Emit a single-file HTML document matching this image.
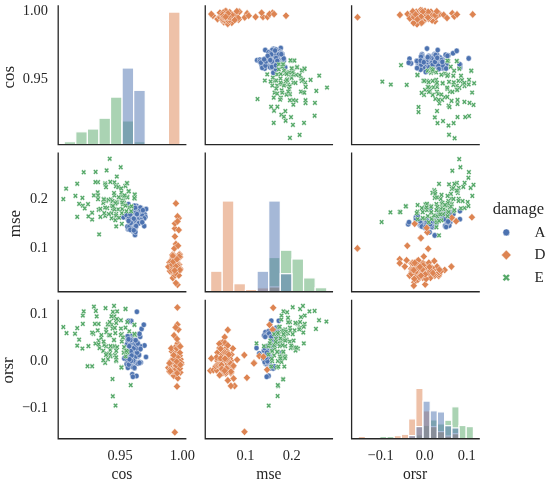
<!DOCTYPE html>
<html><head><meta charset="utf-8"><title>pairplot</title>
<style>html,body{margin:0;padding:0;background:#fff}</style></head>
<body>
<svg width="550" height="485" viewBox="0 0 550 485" style="display:block;font-family:'Liberation Serif',serif">
<rect width="550" height="485" fill="#fff"/>
<rect x="64.20" y="141.70" width="11.58" height="2.85" fill="#55a868" fill-opacity="0.5" stroke="#fff" stroke-width="1.2"/>
<rect x="75.78" y="131.80" width="11.58" height="12.75" fill="#55a868" fill-opacity="0.5" stroke="#fff" stroke-width="1.2"/>
<rect x="87.36" y="129.00" width="11.58" height="15.55" fill="#55a868" fill-opacity="0.5" stroke="#fff" stroke-width="1.2"/>
<rect x="98.94" y="118.20" width="11.58" height="26.35" fill="#55a868" fill-opacity="0.5" stroke="#fff" stroke-width="1.2"/>
<rect x="110.52" y="97.10" width="11.58" height="47.45" fill="#55a868" fill-opacity="0.5" stroke="#fff" stroke-width="1.2"/>
<rect x="122.10" y="120.90" width="11.58" height="23.65" fill="#55a868" fill-opacity="0.5" stroke="#fff" stroke-width="1.2"/>
<rect x="133.68" y="141.70" width="11.58" height="2.85" fill="#55a868" fill-opacity="0.5" stroke="#fff" stroke-width="1.2"/>
<rect x="168.42" y="12.10" width="11.58" height="132.45" fill="#dd8452" fill-opacity="0.5" stroke="#fff" stroke-width="1.2"/>
<rect x="122.10" y="68.00" width="11.58" height="76.55" fill="#4c72b0" fill-opacity="0.5" stroke="#fff" stroke-width="1.2"/>
<rect x="133.68" y="90.30" width="11.58" height="54.25" fill="#4c72b0" fill-opacity="0.5" stroke="#fff" stroke-width="1.2"/>
<rect x="268.70" y="257.50" width="11.62" height="34.25" fill="#55a868" fill-opacity="0.5" stroke="#fff" stroke-width="1.2"/>
<rect x="280.32" y="250.20" width="11.62" height="41.55" fill="#55a868" fill-opacity="0.5" stroke="#fff" stroke-width="1.2"/>
<rect x="291.94" y="259.00" width="11.62" height="32.75" fill="#55a868" fill-opacity="0.5" stroke="#fff" stroke-width="1.2"/>
<rect x="303.56" y="277.90" width="11.62" height="13.85" fill="#55a868" fill-opacity="0.5" stroke="#fff" stroke-width="1.2"/>
<rect x="315.18" y="287.70" width="11.62" height="4.05" fill="#55a868" fill-opacity="0.5" stroke="#fff" stroke-width="1.2"/>
<rect x="210.60" y="271.20" width="11.62" height="20.55" fill="#dd8452" fill-opacity="0.5" stroke="#fff" stroke-width="1.2"/>
<rect x="222.22" y="201.00" width="11.62" height="90.75" fill="#dd8452" fill-opacity="0.5" stroke="#fff" stroke-width="1.2"/>
<rect x="233.84" y="283.70" width="11.62" height="8.05" fill="#dd8452" fill-opacity="0.5" stroke="#fff" stroke-width="1.2"/>
<rect x="245.46" y="289.40" width="11.62" height="2.35" fill="#dd8452" fill-opacity="0.5" stroke="#fff" stroke-width="1.2"/>
<rect x="257.08" y="287.80" width="11.62" height="3.95" fill="#dd8452" fill-opacity="0.5" stroke="#fff" stroke-width="1.2"/>
<rect x="268.70" y="286.90" width="11.62" height="4.85" fill="#dd8452" fill-opacity="0.5" stroke="#fff" stroke-width="1.2"/>
<rect x="257.08" y="271.20" width="11.62" height="20.55" fill="#4c72b0" fill-opacity="0.5" stroke="#fff" stroke-width="1.2"/>
<rect x="268.70" y="201.00" width="11.62" height="90.75" fill="#4c72b0" fill-opacity="0.5" stroke="#fff" stroke-width="1.2"/>
<rect x="280.32" y="273.70" width="11.62" height="18.05" fill="#4c72b0" fill-opacity="0.5" stroke="#fff" stroke-width="1.2"/>
<rect x="379.80" y="436.40" width="7.20" height="2.35" fill="#55a868" fill-opacity="0.5" stroke="#fff" stroke-width="1.2"/>
<rect x="387.00" y="436.40" width="7.20" height="2.35" fill="#55a868" fill-opacity="0.5" stroke="#fff" stroke-width="1.2"/>
<rect x="415.80" y="434.80" width="7.20" height="3.95" fill="#55a868" fill-opacity="0.5" stroke="#fff" stroke-width="1.2"/>
<rect x="423.00" y="425.30" width="7.20" height="13.45" fill="#55a868" fill-opacity="0.5" stroke="#fff" stroke-width="1.2"/>
<rect x="430.20" y="419.90" width="7.20" height="18.85" fill="#55a868" fill-opacity="0.5" stroke="#fff" stroke-width="1.2"/>
<rect x="437.40" y="423.90" width="7.20" height="14.85" fill="#55a868" fill-opacity="0.5" stroke="#fff" stroke-width="1.2"/>
<rect x="444.60" y="420.20" width="7.20" height="18.55" fill="#55a868" fill-opacity="0.5" stroke="#fff" stroke-width="1.2"/>
<rect x="451.80" y="406.80" width="7.20" height="31.95" fill="#55a868" fill-opacity="0.5" stroke="#fff" stroke-width="1.2"/>
<rect x="459.00" y="425.50" width="7.20" height="13.25" fill="#55a868" fill-opacity="0.5" stroke="#fff" stroke-width="1.2"/>
<rect x="466.20" y="426.60" width="7.20" height="12.15" fill="#55a868" fill-opacity="0.5" stroke="#fff" stroke-width="1.2"/>
<rect x="358.20" y="436.40" width="7.20" height="2.35" fill="#dd8452" fill-opacity="0.5" stroke="#fff" stroke-width="1.2"/>
<rect x="394.20" y="435.60" width="7.20" height="3.15" fill="#dd8452" fill-opacity="0.5" stroke="#fff" stroke-width="1.2"/>
<rect x="401.40" y="434.30" width="7.20" height="4.45" fill="#dd8452" fill-opacity="0.5" stroke="#fff" stroke-width="1.2"/>
<rect x="408.60" y="418.90" width="7.20" height="19.85" fill="#dd8452" fill-opacity="0.5" stroke="#fff" stroke-width="1.2"/>
<rect x="415.80" y="388.40" width="7.20" height="50.35" fill="#dd8452" fill-opacity="0.5" stroke="#fff" stroke-width="1.2"/>
<rect x="423.00" y="410.80" width="7.20" height="27.95" fill="#dd8452" fill-opacity="0.5" stroke="#fff" stroke-width="1.2"/>
<rect x="430.20" y="426.60" width="7.20" height="12.15" fill="#dd8452" fill-opacity="0.5" stroke="#fff" stroke-width="1.2"/>
<rect x="437.40" y="431.60" width="7.20" height="7.15" fill="#dd8452" fill-opacity="0.5" stroke="#fff" stroke-width="1.2"/>
<rect x="444.60" y="436.00" width="7.20" height="2.75" fill="#dd8452" fill-opacity="0.5" stroke="#fff" stroke-width="1.2"/>
<rect x="451.80" y="433.70" width="7.20" height="5.05" fill="#dd8452" fill-opacity="0.5" stroke="#fff" stroke-width="1.2"/>
<rect x="408.60" y="435.60" width="7.20" height="3.15" fill="#4c72b0" fill-opacity="0.5" stroke="#fff" stroke-width="1.2"/>
<rect x="415.80" y="426.60" width="7.20" height="12.15" fill="#4c72b0" fill-opacity="0.5" stroke="#fff" stroke-width="1.2"/>
<rect x="423.00" y="401.10" width="7.20" height="37.65" fill="#4c72b0" fill-opacity="0.5" stroke="#fff" stroke-width="1.2"/>
<rect x="430.20" y="410.80" width="7.20" height="27.95" fill="#4c72b0" fill-opacity="0.5" stroke="#fff" stroke-width="1.2"/>
<rect x="437.40" y="411.90" width="7.20" height="26.85" fill="#4c72b0" fill-opacity="0.5" stroke="#fff" stroke-width="1.2"/>
<rect x="444.60" y="425.70" width="7.20" height="13.05" fill="#4c72b0" fill-opacity="0.5" stroke="#fff" stroke-width="1.2"/>
<rect x="451.80" y="427.90" width="7.20" height="10.85" fill="#4c72b0" fill-opacity="0.5" stroke="#fff" stroke-width="1.2"/>
<g fill="#4c72b0" stroke="#fff" stroke-width="0.45">
<ellipse cx="135.4" cy="227.4" rx="2.6" ry="2.78"/>
<ellipse cx="133.6" cy="215.4" rx="2.6" ry="2.78"/>
<ellipse cx="142.2" cy="215.1" rx="2.6" ry="2.78"/>
<ellipse cx="130.4" cy="219.9" rx="2.6" ry="2.78"/>
<ellipse cx="141.7" cy="209.2" rx="2.6" ry="2.78"/>
<ellipse cx="130.5" cy="224.0" rx="2.6" ry="2.78"/>
<ellipse cx="141.2" cy="215.4" rx="2.6" ry="2.78"/>
<ellipse cx="144.2" cy="226.1" rx="2.6" ry="2.78"/>
<ellipse cx="146.1" cy="209.1" rx="2.6" ry="2.78"/>
<ellipse cx="137.7" cy="209.8" rx="2.6" ry="2.78"/>
<ellipse cx="126.6" cy="214.3" rx="2.6" ry="2.78"/>
<ellipse cx="139.2" cy="216.8" rx="2.6" ry="2.78"/>
<ellipse cx="128.0" cy="219.6" rx="2.6" ry="2.78"/>
<ellipse cx="143.8" cy="215.2" rx="2.6" ry="2.78"/>
<ellipse cx="144.8" cy="214.5" rx="2.6" ry="2.78"/>
<ellipse cx="133.7" cy="232.0" rx="2.6" ry="2.78"/>
<ellipse cx="132.6" cy="230.7" rx="2.6" ry="2.78"/>
<ellipse cx="144.6" cy="217.6" rx="2.6" ry="2.78"/>
<ellipse cx="133.8" cy="225.3" rx="2.6" ry="2.78"/>
<ellipse cx="131.6" cy="226.2" rx="2.6" ry="2.78"/>
<ellipse cx="129.8" cy="216.3" rx="2.6" ry="2.78"/>
<ellipse cx="138.2" cy="211.3" rx="2.6" ry="2.78"/>
<ellipse cx="130.3" cy="214.8" rx="2.6" ry="2.78"/>
<ellipse cx="135.7" cy="227.2" rx="2.6" ry="2.78"/>
<ellipse cx="126.5" cy="214.3" rx="2.6" ry="2.78"/>
<ellipse cx="134.1" cy="227.0" rx="2.6" ry="2.78"/>
<ellipse cx="140.7" cy="209.4" rx="2.6" ry="2.78"/>
<ellipse cx="135.0" cy="234.9" rx="2.6" ry="2.78"/>
<ellipse cx="141.5" cy="208.9" rx="2.6" ry="2.78"/>
<ellipse cx="131.3" cy="215.1" rx="2.6" ry="2.78"/>
<ellipse cx="137.7" cy="223.8" rx="2.6" ry="2.78"/>
<ellipse cx="132.5" cy="225.9" rx="2.6" ry="2.78"/>
<ellipse cx="128.5" cy="204.3" rx="2.6" ry="2.78"/>
<ellipse cx="140.1" cy="214.0" rx="2.6" ry="2.78"/>
<ellipse cx="137.8" cy="214.9" rx="2.6" ry="2.78"/>
<ellipse cx="145.4" cy="217.0" rx="2.6" ry="2.78"/>
<ellipse cx="126.1" cy="215.8" rx="2.6" ry="2.78"/>
<ellipse cx="130.0" cy="225.9" rx="2.6" ry="2.78"/>
<ellipse cx="139.9" cy="222.0" rx="2.6" ry="2.78"/>
<ellipse cx="133.1" cy="222.4" rx="2.6" ry="2.78"/>
<ellipse cx="140.3" cy="207.5" rx="2.6" ry="2.78"/>
<ellipse cx="128.0" cy="229.3" rx="2.6" ry="2.78"/>
<ellipse cx="130.6" cy="224.0" rx="2.6" ry="2.78"/>
<ellipse cx="141.7" cy="220.9" rx="2.6" ry="2.78"/>
<ellipse cx="134.5" cy="227.5" rx="2.6" ry="2.78"/>
<ellipse cx="135.7" cy="211.7" rx="2.6" ry="2.78"/>
<ellipse cx="138.7" cy="215.6" rx="2.6" ry="2.78"/>
<ellipse cx="142.2" cy="215.4" rx="2.6" ry="2.78"/>
<ellipse cx="136.5" cy="206.0" rx="2.6" ry="2.78"/>
<ellipse cx="144.2" cy="218.4" rx="2.6" ry="2.78"/>
<ellipse cx="123.4" cy="217.3" rx="2.6" ry="2.78"/>
<ellipse cx="139.3" cy="218.7" rx="2.6" ry="2.78"/>
<ellipse cx="136.6" cy="221.6" rx="2.6" ry="2.78"/>
<ellipse cx="138.3" cy="208.8" rx="2.6" ry="2.78"/>
<ellipse cx="128.6" cy="228.8" rx="2.6" ry="2.78"/>
<ellipse cx="134.4" cy="205.8" rx="2.6" ry="2.78"/>
<ellipse cx="134.5" cy="218.7" rx="2.6" ry="2.78"/>
<ellipse cx="134.3" cy="212.8" rx="2.6" ry="2.78"/>
<ellipse cx="138.4" cy="211.5" rx="2.6" ry="2.78"/>
<ellipse cx="134.9" cy="222.4" rx="2.6" ry="2.78"/>
<ellipse cx="135.9" cy="210.4" rx="2.6" ry="2.78"/>
<ellipse cx="140.3" cy="219.4" rx="2.6" ry="2.78"/>
<ellipse cx="128.4" cy="226.4" rx="2.6" ry="2.78"/>
<ellipse cx="140.5" cy="208.5" rx="2.6" ry="2.78"/>
<ellipse cx="138.0" cy="219.6" rx="2.6" ry="2.78"/>
<ellipse cx="133.6" cy="211.9" rx="2.6" ry="2.78"/>
<ellipse cx="126.9" cy="214.1" rx="2.6" ry="2.78"/>
<ellipse cx="135.0" cy="220.6" rx="2.6" ry="2.78"/>
<ellipse cx="141.3" cy="220.3" rx="2.6" ry="2.78"/>
<ellipse cx="126.5" cy="215.1" rx="2.6" ry="2.78"/>
<ellipse cx="127.4" cy="226.6" rx="2.6" ry="2.78"/>
<ellipse cx="130.5" cy="218.9" rx="2.6" ry="2.78"/>
<ellipse cx="129.4" cy="226.6" rx="2.6" ry="2.78"/>
<ellipse cx="132.7" cy="218.8" rx="2.6" ry="2.78"/>
<ellipse cx="138.5" cy="223.2" rx="2.6" ry="2.78"/>
<ellipse cx="134.6" cy="220.2" rx="2.6" ry="2.78"/>
<ellipse cx="128.8" cy="218.7" rx="2.6" ry="2.78"/>
<ellipse cx="138.8" cy="223.3" rx="2.6" ry="2.78"/>
<ellipse cx="130.3" cy="214.4" rx="2.6" ry="2.78"/>
<ellipse cx="141.1" cy="209.6" rx="2.6" ry="2.78"/>
<ellipse cx="141.9" cy="221.9" rx="2.6" ry="2.78"/>
<ellipse cx="140.2" cy="211.3" rx="2.6" ry="2.78"/>
<ellipse cx="137.1" cy="208.6" rx="2.6" ry="2.78"/>
<ellipse cx="142.2" cy="222.3" rx="2.6" ry="2.78"/>
<ellipse cx="135.4" cy="232.0" rx="2.6" ry="2.78"/>
<ellipse cx="138.5" cy="209.5" rx="2.6" ry="2.78"/>
<ellipse cx="140.3" cy="207.7" rx="2.6" ry="2.78"/>
<ellipse cx="133.8" cy="218.7" rx="2.6" ry="2.78"/>
<ellipse cx="138.3" cy="211.5" rx="2.6" ry="2.78"/>
<ellipse cx="135.3" cy="208.0" rx="2.6" ry="2.78"/>
<ellipse cx="132.0" cy="229.3" rx="2.6" ry="2.78"/>
<ellipse cx="136.8" cy="212.6" rx="2.6" ry="2.78"/>
<ellipse cx="130.3" cy="229.8" rx="2.6" ry="2.78"/>
<ellipse cx="130.8" cy="222.8" rx="2.6" ry="2.78"/>
<ellipse cx="136.1" cy="226.0" rx="2.6" ry="2.78"/>
<ellipse cx="142.9" cy="210.2" rx="2.6" ry="2.78"/>
<ellipse cx="135.7" cy="213.0" rx="2.6" ry="2.78"/>
<ellipse cx="133.8" cy="230.3" rx="2.6" ry="2.78"/>
<ellipse cx="137.0" cy="214.1" rx="2.6" ry="2.78"/>
<ellipse cx="128.6" cy="220.9" rx="2.6" ry="2.78"/>
</g>
<g fill="#dd8452" stroke="#fff" stroke-width="0.45">
<path d="M174.5 267.9l3.55 3.8 -3.55 3.8 -3.55 -3.8z"/>
<path d="M176.7 257.4l3.55 3.8 -3.55 3.8 -3.55 -3.8z"/>
<path d="M174.3 261.3l3.55 3.8 -3.55 3.8 -3.55 -3.8z"/>
<path d="M179.2 260.8l3.55 3.8 -3.55 3.8 -3.55 -3.8z"/>
<path d="M180.3 265.1l3.55 3.8 -3.55 3.8 -3.55 -3.8z"/>
<path d="M174.9 232.7l3.55 3.8 -3.55 3.8 -3.55 -3.8z"/>
<path d="M175.9 240.3l3.55 3.8 -3.55 3.8 -3.55 -3.8z"/>
<path d="M168.6 263.0l3.55 3.8 -3.55 3.8 -3.55 -3.8z"/>
<path d="M171.3 262.4l3.55 3.8 -3.55 3.8 -3.55 -3.8z"/>
<path d="M179.8 250.5l3.55 3.8 -3.55 3.8 -3.55 -3.8z"/>
<path d="M173.3 259.3l3.55 3.8 -3.55 3.8 -3.55 -3.8z"/>
<path d="M176.0 262.0l3.55 3.8 -3.55 3.8 -3.55 -3.8z"/>
<path d="M172.0 255.4l3.55 3.8 -3.55 3.8 -3.55 -3.8z"/>
<path d="M176.0 268.1l3.55 3.8 -3.55 3.8 -3.55 -3.8z"/>
<path d="M171.7 259.9l3.55 3.8 -3.55 3.8 -3.55 -3.8z"/>
<path d="M174.8 260.0l3.55 3.8 -3.55 3.8 -3.55 -3.8z"/>
<path d="M174.9 224.7l3.55 3.8 -3.55 3.8 -3.55 -3.8z"/>
<path d="M173.0 268.1l3.55 3.8 -3.55 3.8 -3.55 -3.8z"/>
<path d="M169.5 258.6l3.55 3.8 -3.55 3.8 -3.55 -3.8z"/>
<path d="M177.9 263.5l3.55 3.8 -3.55 3.8 -3.55 -3.8z"/>
<path d="M172.5 266.7l3.55 3.8 -3.55 3.8 -3.55 -3.8z"/>
<path d="M177.8 259.7l3.55 3.8 -3.55 3.8 -3.55 -3.8z"/>
<path d="M176.6 258.3l3.55 3.8 -3.55 3.8 -3.55 -3.8z"/>
<path d="M174.8 258.9l3.55 3.8 -3.55 3.8 -3.55 -3.8z"/>
<path d="M174.8 265.4l3.55 3.8 -3.55 3.8 -3.55 -3.8z"/>
<path d="M174.5 260.8l3.55 3.8 -3.55 3.8 -3.55 -3.8z"/>
<path d="M171.8 268.7l3.55 3.8 -3.55 3.8 -3.55 -3.8z"/>
<path d="M174.9 263.4l3.55 3.8 -3.55 3.8 -3.55 -3.8z"/>
<path d="M172.4 265.0l3.55 3.8 -3.55 3.8 -3.55 -3.8z"/>
<path d="M173.8 259.7l3.55 3.8 -3.55 3.8 -3.55 -3.8z"/>
<path d="M177.0 259.0l3.55 3.8 -3.55 3.8 -3.55 -3.8z"/>
<path d="M178.8 226.2l3.55 3.8 -3.55 3.8 -3.55 -3.8z"/>
<path d="M174.1 261.6l3.55 3.8 -3.55 3.8 -3.55 -3.8z"/>
<path d="M173.0 268.2l3.55 3.8 -3.55 3.8 -3.55 -3.8z"/>
<path d="M173.3 268.5l3.55 3.8 -3.55 3.8 -3.55 -3.8z"/>
<path d="M178.8 214.3l3.55 3.8 -3.55 3.8 -3.55 -3.8z"/>
<path d="M175.4 267.5l3.55 3.8 -3.55 3.8 -3.55 -3.8z"/>
<path d="M174.1 271.1l3.55 3.8 -3.55 3.8 -3.55 -3.8z"/>
<path d="M172.7 267.3l3.55 3.8 -3.55 3.8 -3.55 -3.8z"/>
<path d="M171.6 264.0l3.55 3.8 -3.55 3.8 -3.55 -3.8z"/>
<path d="M174.0 265.1l3.55 3.8 -3.55 3.8 -3.55 -3.8z"/>
<path d="M173.8 260.4l3.55 3.8 -3.55 3.8 -3.55 -3.8z"/>
<path d="M177.5 280.9l3.55 3.8 -3.55 3.8 -3.55 -3.8z"/>
<path d="M174.6 262.3l3.55 3.8 -3.55 3.8 -3.55 -3.8z"/>
<path d="M174.2 259.1l3.55 3.8 -3.55 3.8 -3.55 -3.8z"/>
<path d="M178.9 268.0l3.55 3.8 -3.55 3.8 -3.55 -3.8z"/>
<path d="M175.2 268.7l3.55 3.8 -3.55 3.8 -3.55 -3.8z"/>
<path d="M175.0 265.3l3.55 3.8 -3.55 3.8 -3.55 -3.8z"/>
<path d="M180.1 253.2l3.55 3.8 -3.55 3.8 -3.55 -3.8z"/>
<path d="M179.6 250.5l3.55 3.8 -3.55 3.8 -3.55 -3.8z"/>
<path d="M175.0 264.8l3.55 3.8 -3.55 3.8 -3.55 -3.8z"/>
<path d="M174.4 244.6l3.55 3.8 -3.55 3.8 -3.55 -3.8z"/>
<path d="M173.8 266.6l3.55 3.8 -3.55 3.8 -3.55 -3.8z"/>
<path d="M169.9 267.3l3.55 3.8 -3.55 3.8 -3.55 -3.8z"/>
<path d="M178.1 242.0l3.55 3.8 -3.55 3.8 -3.55 -3.8z"/>
<path d="M172.7 254.3l3.55 3.8 -3.55 3.8 -3.55 -3.8z"/>
<path d="M173.4 261.0l3.55 3.8 -3.55 3.8 -3.55 -3.8z"/>
<path d="M175.9 279.2l3.55 3.8 -3.55 3.8 -3.55 -3.8z"/>
<path d="M168.4 263.0l3.55 3.8 -3.55 3.8 -3.55 -3.8z"/>
<path d="M176.0 263.9l3.55 3.8 -3.55 3.8 -3.55 -3.8z"/>
<path d="M171.7 266.7l3.55 3.8 -3.55 3.8 -3.55 -3.8z"/>
<path d="M179.8 264.4l3.55 3.8 -3.55 3.8 -3.55 -3.8z"/>
<path d="M176.3 266.1l3.55 3.8 -3.55 3.8 -3.55 -3.8z"/>
<path d="M172.8 274.2l3.55 3.8 -3.55 3.8 -3.55 -3.8z"/>
<path d="M179.2 251.1l3.55 3.8 -3.55 3.8 -3.55 -3.8z"/>
<path d="M177.1 260.5l3.55 3.8 -3.55 3.8 -3.55 -3.8z"/>
<path d="M177.0 268.4l3.55 3.8 -3.55 3.8 -3.55 -3.8z"/>
<path d="M177.5 212.6l3.55 3.8 -3.55 3.8 -3.55 -3.8z"/>
<path d="M175.1 267.0l3.55 3.8 -3.55 3.8 -3.55 -3.8z"/>
<path d="M174.0 251.6l3.55 3.8 -3.55 3.8 -3.55 -3.8z"/>
<path d="M174.8 261.9l3.55 3.8 -3.55 3.8 -3.55 -3.8z"/>
<path d="M174.7 262.9l3.55 3.8 -3.55 3.8 -3.55 -3.8z"/>
<path d="M174.6 262.3l3.55 3.8 -3.55 3.8 -3.55 -3.8z"/>
<path d="M174.9 271.6l3.55 3.8 -3.55 3.8 -3.55 -3.8z"/>
<path d="M174.9 219.7l3.55 3.8 -3.55 3.8 -3.55 -3.8z"/>
<path d="M175.9 264.0l3.55 3.8 -3.55 3.8 -3.55 -3.8z"/>
<path d="M175.9 199.6l3.55 3.8 -3.55 3.8 -3.55 -3.8z"/>
<path d="M175.4 256.4l3.55 3.8 -3.55 3.8 -3.55 -3.8z"/>
<path d="M178.8 271.6l3.55 3.8 -3.55 3.8 -3.55 -3.8z"/>
<path d="M178.5 264.5l3.55 3.8 -3.55 3.8 -3.55 -3.8z"/>
<path d="M174.2 252.6l3.55 3.8 -3.55 3.8 -3.55 -3.8z"/>
<path d="M178.1 262.8l3.55 3.8 -3.55 3.8 -3.55 -3.8z"/>
<path d="M175.3 262.4l3.55 3.8 -3.55 3.8 -3.55 -3.8z"/>
<path d="M170.7 257.7l3.55 3.8 -3.55 3.8 -3.55 -3.8z"/>
<path d="M175.4 269.3l3.55 3.8 -3.55 3.8 -3.55 -3.8z"/>
<path d="M174.2 255.0l3.55 3.8 -3.55 3.8 -3.55 -3.8z"/>
<path d="M177.9 261.3l3.55 3.8 -3.55 3.8 -3.55 -3.8z"/>
<path d="M172.8 263.5l3.55 3.8 -3.55 3.8 -3.55 -3.8z"/>
<path d="M174.7 262.6l3.55 3.8 -3.55 3.8 -3.55 -3.8z"/>
<path d="M177.7 262.4l3.55 3.8 -3.55 3.8 -3.55 -3.8z"/>
<path d="M179.2 252.8l3.55 3.8 -3.55 3.8 -3.55 -3.8z"/>
<path d="M177.5 217.6l3.55 3.8 -3.55 3.8 -3.55 -3.8z"/>
<path d="M172.4 251.1l3.55 3.8 -3.55 3.8 -3.55 -3.8z"/>
<path d="M172.9 252.2l3.55 3.8 -3.55 3.8 -3.55 -3.8z"/>
<path d="M172.1 260.9l3.55 3.8 -3.55 3.8 -3.55 -3.8z"/>
<path d="M175.7 262.5l3.55 3.8 -3.55 3.8 -3.55 -3.8z"/>
<path d="M179.9 266.1l3.55 3.8 -3.55 3.8 -3.55 -3.8z"/>
<path d="M173.2 257.9l3.55 3.8 -3.55 3.8 -3.55 -3.8z"/>
<path d="M174.6 266.7l3.55 3.8 -3.55 3.8 -3.55 -3.8z"/>
<path d="M177.0 255.4l3.55 3.8 -3.55 3.8 -3.55 -3.8z"/>
</g>
<g fill="#55a868" stroke="#fff" stroke-width="0.45">
<path d="M62.1 196.5l1.22 1.32 1.22 -1.32 1.22 1.32 -1.22 1.32 1.22 1.32 -1.22 1.32 -1.22 -1.32 -1.22 1.32 -1.22 -1.32 1.22 -1.32 -1.22 -1.32z"/>
<path d="M126.2 194.1l1.22 1.32 1.22 -1.32 1.22 1.32 -1.22 1.32 1.22 1.32 -1.22 1.32 -1.22 -1.32 -1.22 1.32 -1.22 -1.32 1.22 -1.32 -1.22 -1.32z"/>
<path d="M119.5 164.6l1.22 1.32 1.22 -1.32 1.22 1.32 -1.22 1.32 1.22 1.32 -1.22 1.32 -1.22 -1.32 -1.22 1.32 -1.22 -1.32 1.22 -1.32 -1.22 -1.32z"/>
<path d="M102.0 200.2l1.22 1.32 1.22 -1.32 1.22 1.32 -1.22 1.32 1.22 1.32 -1.22 1.32 -1.22 -1.32 -1.22 1.32 -1.22 -1.32 1.22 -1.32 -1.22 -1.32z"/>
<path d="M122.4 197.1l1.22 1.32 1.22 -1.32 1.22 1.32 -1.22 1.32 1.22 1.32 -1.22 1.32 -1.22 -1.32 -1.22 1.32 -1.22 -1.32 1.22 -1.32 -1.22 -1.32z"/>
<path d="M114.1 201.2l1.22 1.32 1.22 -1.32 1.22 1.32 -1.22 1.32 1.22 1.32 -1.22 1.32 -1.22 -1.32 -1.22 1.32 -1.22 -1.32 1.22 -1.32 -1.22 -1.32z"/>
<path d="M122.2 197.5l1.22 1.32 1.22 -1.32 1.22 1.32 -1.22 1.32 1.22 1.32 -1.22 1.32 -1.22 -1.32 -1.22 1.32 -1.22 -1.32 1.22 -1.32 -1.22 -1.32z"/>
<path d="M104.8 198.4l1.22 1.32 1.22 -1.32 1.22 1.32 -1.22 1.32 1.22 1.32 -1.22 1.32 -1.22 -1.32 -1.22 1.32 -1.22 -1.32 1.22 -1.32 -1.22 -1.32z"/>
<path d="M115.6 182.2l1.22 1.32 1.22 -1.32 1.22 1.32 -1.22 1.32 1.22 1.32 -1.22 1.32 -1.22 -1.32 -1.22 1.32 -1.22 -1.32 1.22 -1.32 -1.22 -1.32z"/>
<path d="M129.9 204.0l1.22 1.32 1.22 -1.32 1.22 1.32 -1.22 1.32 1.22 1.32 -1.22 1.32 -1.22 -1.32 -1.22 1.32 -1.22 -1.32 1.22 -1.32 -1.22 -1.32z"/>
<path d="M115.0 211.4l1.22 1.32 1.22 -1.32 1.22 1.32 -1.22 1.32 1.22 1.32 -1.22 1.32 -1.22 -1.32 -1.22 1.32 -1.22 -1.32 1.22 -1.32 -1.22 -1.32z"/>
<path d="M124.3 183.5l1.22 1.32 1.22 -1.32 1.22 1.32 -1.22 1.32 1.22 1.32 -1.22 1.32 -1.22 -1.32 -1.22 1.32 -1.22 -1.32 1.22 -1.32 -1.22 -1.32z"/>
<path d="M64.9 186.0l1.22 1.32 1.22 -1.32 1.22 1.32 -1.22 1.32 1.22 1.32 -1.22 1.32 -1.22 -1.32 -1.22 1.32 -1.22 -1.32 1.22 -1.32 -1.22 -1.32z"/>
<path d="M103.9 213.2l1.22 1.32 1.22 -1.32 1.22 1.32 -1.22 1.32 1.22 1.32 -1.22 1.32 -1.22 -1.32 -1.22 1.32 -1.22 -1.32 1.22 -1.32 -1.22 -1.32z"/>
<path d="M99.2 214.2l1.22 1.32 1.22 -1.32 1.22 1.32 -1.22 1.32 1.22 1.32 -1.22 1.32 -1.22 -1.32 -1.22 1.32 -1.22 -1.32 1.22 -1.32 -1.22 -1.32z"/>
<path d="M107.3 197.3l1.22 1.32 1.22 -1.32 1.22 1.32 -1.22 1.32 1.22 1.32 -1.22 1.32 -1.22 -1.32 -1.22 1.32 -1.22 -1.32 1.22 -1.32 -1.22 -1.32z"/>
<path d="M127.7 205.0l1.22 1.32 1.22 -1.32 1.22 1.32 -1.22 1.32 1.22 1.32 -1.22 1.32 -1.22 -1.32 -1.22 1.32 -1.22 -1.32 1.22 -1.32 -1.22 -1.32z"/>
<path d="M108.5 156.1l1.22 1.32 1.22 -1.32 1.22 1.32 -1.22 1.32 1.22 1.32 -1.22 1.32 -1.22 -1.32 -1.22 1.32 -1.22 -1.32 1.22 -1.32 -1.22 -1.32z"/>
<path d="M86.8 201.5l1.22 1.32 1.22 -1.32 1.22 1.32 -1.22 1.32 1.22 1.32 -1.22 1.32 -1.22 -1.32 -1.22 1.32 -1.22 -1.32 1.22 -1.32 -1.22 -1.32z"/>
<path d="M92.7 192.8l1.22 1.32 1.22 -1.32 1.22 1.32 -1.22 1.32 1.22 1.32 -1.22 1.32 -1.22 -1.32 -1.22 1.32 -1.22 -1.32 1.22 -1.32 -1.22 -1.32z"/>
<path d="M126.1 194.7l1.22 1.32 1.22 -1.32 1.22 1.32 -1.22 1.32 1.22 1.32 -1.22 1.32 -1.22 -1.32 -1.22 1.32 -1.22 -1.32 1.22 -1.32 -1.22 -1.32z"/>
<path d="M110.4 215.6l1.22 1.32 1.22 -1.32 1.22 1.32 -1.22 1.32 1.22 1.32 -1.22 1.32 -1.22 -1.32 -1.22 1.32 -1.22 -1.32 1.22 -1.32 -1.22 -1.32z"/>
<path d="M120.6 193.0l1.22 1.32 1.22 -1.32 1.22 1.32 -1.22 1.32 1.22 1.32 -1.22 1.32 -1.22 -1.32 -1.22 1.32 -1.22 -1.32 1.22 -1.32 -1.22 -1.32z"/>
<path d="M105.4 167.8l1.22 1.32 1.22 -1.32 1.22 1.32 -1.22 1.32 1.22 1.32 -1.22 1.32 -1.22 -1.32 -1.22 1.32 -1.22 -1.32 1.22 -1.32 -1.22 -1.32z"/>
<path d="M106.0 205.5l1.22 1.32 1.22 -1.32 1.22 1.32 -1.22 1.32 1.22 1.32 -1.22 1.32 -1.22 -1.32 -1.22 1.32 -1.22 -1.32 1.22 -1.32 -1.22 -1.32z"/>
<path d="M125.2 208.6l1.22 1.32 1.22 -1.32 1.22 1.32 -1.22 1.32 1.22 1.32 -1.22 1.32 -1.22 -1.32 -1.22 1.32 -1.22 -1.32 1.22 -1.32 -1.22 -1.32z"/>
<path d="M94.4 169.3l1.22 1.32 1.22 -1.32 1.22 1.32 -1.22 1.32 1.22 1.32 -1.22 1.32 -1.22 -1.32 -1.22 1.32 -1.22 -1.32 1.22 -1.32 -1.22 -1.32z"/>
<path d="M127.2 188.8l1.22 1.32 1.22 -1.32 1.22 1.32 -1.22 1.32 1.22 1.32 -1.22 1.32 -1.22 -1.32 -1.22 1.32 -1.22 -1.32 1.22 -1.32 -1.22 -1.32z"/>
<path d="M115.0 223.8l1.22 1.32 1.22 -1.32 1.22 1.32 -1.22 1.32 1.22 1.32 -1.22 1.32 -1.22 -1.32 -1.22 1.32 -1.22 -1.32 1.22 -1.32 -1.22 -1.32z"/>
<path d="M87.2 213.8l1.22 1.32 1.22 -1.32 1.22 1.32 -1.22 1.32 1.22 1.32 -1.22 1.32 -1.22 -1.32 -1.22 1.32 -1.22 -1.32 1.22 -1.32 -1.22 -1.32z"/>
<path d="M77.9 201.2l1.22 1.32 1.22 -1.32 1.22 1.32 -1.22 1.32 1.22 1.32 -1.22 1.32 -1.22 -1.32 -1.22 1.32 -1.22 -1.32 1.22 -1.32 -1.22 -1.32z"/>
<path d="M113.2 179.8l1.22 1.32 1.22 -1.32 1.22 1.32 -1.22 1.32 1.22 1.32 -1.22 1.32 -1.22 -1.32 -1.22 1.32 -1.22 -1.32 1.22 -1.32 -1.22 -1.32z"/>
<path d="M96.8 179.5l1.22 1.32 1.22 -1.32 1.22 1.32 -1.22 1.32 1.22 1.32 -1.22 1.32 -1.22 -1.32 -1.22 1.32 -1.22 -1.32 1.22 -1.32 -1.22 -1.32z"/>
<path d="M133.6 196.0l1.22 1.32 1.22 -1.32 1.22 1.32 -1.22 1.32 1.22 1.32 -1.22 1.32 -1.22 -1.32 -1.22 1.32 -1.22 -1.32 1.22 -1.32 -1.22 -1.32z"/>
<path d="M90.9 216.9l1.22 1.32 1.22 -1.32 1.22 1.32 -1.22 1.32 1.22 1.32 -1.22 1.32 -1.22 -1.32 -1.22 1.32 -1.22 -1.32 1.22 -1.32 -1.22 -1.32z"/>
<path d="M110.4 203.0l1.22 1.32 1.22 -1.32 1.22 1.32 -1.22 1.32 1.22 1.32 -1.22 1.32 -1.22 -1.32 -1.22 1.32 -1.22 -1.32 1.22 -1.32 -1.22 -1.32z"/>
<path d="M103.9 180.8l1.22 1.32 1.22 -1.32 1.22 1.32 -1.22 1.32 1.22 1.32 -1.22 1.32 -1.22 -1.32 -1.22 1.32 -1.22 -1.32 1.22 -1.32 -1.22 -1.32z"/>
<path d="M81.6 203.0l1.22 1.32 1.22 -1.32 1.22 1.32 -1.22 1.32 1.22 1.32 -1.22 1.32 -1.22 -1.32 -1.22 1.32 -1.22 -1.32 1.22 -1.32 -1.22 -1.32z"/>
<path d="M120.5 197.8l1.22 1.32 1.22 -1.32 1.22 1.32 -1.22 1.32 1.22 1.32 -1.22 1.32 -1.22 -1.32 -1.22 1.32 -1.22 -1.32 1.22 -1.32 -1.22 -1.32z"/>
<path d="M104.2 182.0l1.22 1.32 1.22 -1.32 1.22 1.32 -1.22 1.32 1.22 1.32 -1.22 1.32 -1.22 -1.32 -1.22 1.32 -1.22 -1.32 1.22 -1.32 -1.22 -1.32z"/>
<path d="M96.5 189.7l1.22 1.32 1.22 -1.32 1.22 1.32 -1.22 1.32 1.22 1.32 -1.22 1.32 -1.22 -1.32 -1.22 1.32 -1.22 -1.32 1.22 -1.32 -1.22 -1.32z"/>
<path d="M97.4 207.1l1.22 1.32 1.22 -1.32 1.22 1.32 -1.22 1.32 1.22 1.32 -1.22 1.32 -1.22 -1.32 -1.22 1.32 -1.22 -1.32 1.22 -1.32 -1.22 -1.32z"/>
<path d="M133.4 191.7l1.22 1.32 1.22 -1.32 1.22 1.32 -1.22 1.32 1.22 1.32 -1.22 1.32 -1.22 -1.32 -1.22 1.32 -1.22 -1.32 1.22 -1.32 -1.22 -1.32z"/>
<path d="M114.7 183.6l1.22 1.32 1.22 -1.32 1.22 1.32 -1.22 1.32 1.22 1.32 -1.22 1.32 -1.22 -1.32 -1.22 1.32 -1.22 -1.32 1.22 -1.32 -1.22 -1.32z"/>
<path d="M116.9 206.7l1.22 1.32 1.22 -1.32 1.22 1.32 -1.22 1.32 1.22 1.32 -1.22 1.32 -1.22 -1.32 -1.22 1.32 -1.22 -1.32 1.22 -1.32 -1.22 -1.32z"/>
<path d="M109.6 196.7l1.22 1.32 1.22 -1.32 1.22 1.32 -1.22 1.32 1.22 1.32 -1.22 1.32 -1.22 -1.32 -1.22 1.32 -1.22 -1.32 1.22 -1.32 -1.22 -1.32z"/>
<path d="M76.0 181.1l1.22 1.32 1.22 -1.32 1.22 1.32 -1.22 1.32 1.22 1.32 -1.22 1.32 -1.22 -1.32 -1.22 1.32 -1.22 -1.32 1.22 -1.32 -1.22 -1.32z"/>
<path d="M117.5 194.6l1.22 1.32 1.22 -1.32 1.22 1.32 -1.22 1.32 1.22 1.32 -1.22 1.32 -1.22 -1.32 -1.22 1.32 -1.22 -1.32 1.22 -1.32 -1.22 -1.32z"/>
<path d="M116.0 199.2l1.22 1.32 1.22 -1.32 1.22 1.32 -1.22 1.32 1.22 1.32 -1.22 1.32 -1.22 -1.32 -1.22 1.32 -1.22 -1.32 1.22 -1.32 -1.22 -1.32z"/>
<path d="M117.1 184.5l1.22 1.32 1.22 -1.32 1.22 1.32 -1.22 1.32 1.22 1.32 -1.22 1.32 -1.22 -1.32 -1.22 1.32 -1.22 -1.32 1.22 -1.32 -1.22 -1.32z"/>
<path d="M115.6 173.9l1.22 1.32 1.22 -1.32 1.22 1.32 -1.22 1.32 1.22 1.32 -1.22 1.32 -1.22 -1.32 -1.22 1.32 -1.22 -1.32 1.22 -1.32 -1.22 -1.32z"/>
<path d="M74.2 193.2l1.22 1.32 1.22 -1.32 1.22 1.32 -1.22 1.32 1.22 1.32 -1.22 1.32 -1.22 -1.32 -1.22 1.32 -1.22 -1.32 1.22 -1.32 -1.22 -1.32z"/>
<path d="M129.9 208.6l1.22 1.32 1.22 -1.32 1.22 1.32 -1.22 1.32 1.22 1.32 -1.22 1.32 -1.22 -1.32 -1.22 1.32 -1.22 -1.32 1.22 -1.32 -1.22 -1.32z"/>
<path d="M122.8 200.4l1.22 1.32 1.22 -1.32 1.22 1.32 -1.22 1.32 1.22 1.32 -1.22 1.32 -1.22 -1.32 -1.22 1.32 -1.22 -1.32 1.22 -1.32 -1.22 -1.32z"/>
<path d="M120.6 221.2l1.22 1.32 1.22 -1.32 1.22 1.32 -1.22 1.32 1.22 1.32 -1.22 1.32 -1.22 -1.32 -1.22 1.32 -1.22 -1.32 1.22 -1.32 -1.22 -1.32z"/>
<path d="M133.6 191.9l1.22 1.32 1.22 -1.32 1.22 1.32 -1.22 1.32 1.22 1.32 -1.22 1.32 -1.22 -1.32 -1.22 1.32 -1.22 -1.32 1.22 -1.32 -1.22 -1.32z"/>
<path d="M82.5 169.6l1.22 1.32 1.22 -1.32 1.22 1.32 -1.22 1.32 1.22 1.32 -1.22 1.32 -1.22 -1.32 -1.22 1.32 -1.22 -1.32 1.22 -1.32 -1.22 -1.32z"/>
<path d="M110.4 210.5l1.22 1.32 1.22 -1.32 1.22 1.32 -1.22 1.32 1.22 1.32 -1.22 1.32 -1.22 -1.32 -1.22 1.32 -1.22 -1.32 1.22 -1.32 -1.22 -1.32z"/>
<path d="M121.6 201.8l1.22 1.32 1.22 -1.32 1.22 1.32 -1.22 1.32 1.22 1.32 -1.22 1.32 -1.22 -1.32 -1.22 1.32 -1.22 -1.32 1.22 -1.32 -1.22 -1.32z"/>
<path d="M120.2 189.7l1.22 1.32 1.22 -1.32 1.22 1.32 -1.22 1.32 1.22 1.32 -1.22 1.32 -1.22 -1.32 -1.22 1.32 -1.22 -1.32 1.22 -1.32 -1.22 -1.32z"/>
<path d="M133.1 195.4l1.22 1.32 1.22 -1.32 1.22 1.32 -1.22 1.32 1.22 1.32 -1.22 1.32 -1.22 -1.32 -1.22 1.32 -1.22 -1.32 1.22 -1.32 -1.22 -1.32z"/>
<path d="M96.8 192.8l1.22 1.32 1.22 -1.32 1.22 1.32 -1.22 1.32 1.22 1.32 -1.22 1.32 -1.22 -1.32 -1.22 1.32 -1.22 -1.32 1.22 -1.32 -1.22 -1.32z"/>
<path d="M102.4 196.5l1.22 1.32 1.22 -1.32 1.22 1.32 -1.22 1.32 1.22 1.32 -1.22 1.32 -1.22 -1.32 -1.22 1.32 -1.22 -1.32 1.22 -1.32 -1.22 -1.32z"/>
<path d="M102.7 196.8l1.22 1.32 1.22 -1.32 1.22 1.32 -1.22 1.32 1.22 1.32 -1.22 1.32 -1.22 -1.32 -1.22 1.32 -1.22 -1.32 1.22 -1.32 -1.22 -1.32z"/>
<path d="M127.6 188.6l1.22 1.32 1.22 -1.32 1.22 1.32 -1.22 1.32 1.22 1.32 -1.22 1.32 -1.22 -1.32 -1.22 1.32 -1.22 -1.32 1.22 -1.32 -1.22 -1.32z"/>
<path d="M113.2 192.8l1.22 1.32 1.22 -1.32 1.22 1.32 -1.22 1.32 1.22 1.32 -1.22 1.32 -1.22 -1.32 -1.22 1.32 -1.22 -1.32 1.22 -1.32 -1.22 -1.32z"/>
<path d="M111.8 205.6l1.22 1.32 1.22 -1.32 1.22 1.32 -1.22 1.32 1.22 1.32 -1.22 1.32 -1.22 -1.32 -1.22 1.32 -1.22 -1.32 1.22 -1.32 -1.22 -1.32z"/>
<path d="M124.1 183.2l1.22 1.32 1.22 -1.32 1.22 1.32 -1.22 1.32 1.22 1.32 -1.22 1.32 -1.22 -1.32 -1.22 1.32 -1.22 -1.32 1.22 -1.32 -1.22 -1.32z"/>
<path d="M126.1 180.8l1.22 1.32 1.22 -1.32 1.22 1.32 -1.22 1.32 1.22 1.32 -1.22 1.32 -1.22 -1.32 -1.22 1.32 -1.22 -1.32 1.22 -1.32 -1.22 -1.32z"/>
<path d="M115.4 199.8l1.22 1.32 1.22 -1.32 1.22 1.32 -1.22 1.32 1.22 1.32 -1.22 1.32 -1.22 -1.32 -1.22 1.32 -1.22 -1.32 1.22 -1.32 -1.22 -1.32z"/>
<path d="M81.2 195.2l1.22 1.32 1.22 -1.32 1.22 1.32 -1.22 1.32 1.22 1.32 -1.22 1.32 -1.22 -1.32 -1.22 1.32 -1.22 -1.32 1.22 -1.32 -1.22 -1.32z"/>
<path d="M114.9 213.1l1.22 1.32 1.22 -1.32 1.22 1.32 -1.22 1.32 1.22 1.32 -1.22 1.32 -1.22 -1.32 -1.22 1.32 -1.22 -1.32 1.22 -1.32 -1.22 -1.32z"/>
<path d="M114.1 217.5l1.22 1.32 1.22 -1.32 1.22 1.32 -1.22 1.32 1.22 1.32 -1.22 1.32 -1.22 -1.32 -1.22 1.32 -1.22 -1.32 1.22 -1.32 -1.22 -1.32z"/>
<path d="M99.2 206.2l1.22 1.32 1.22 -1.32 1.22 1.32 -1.22 1.32 1.22 1.32 -1.22 1.32 -1.22 -1.32 -1.22 1.32 -1.22 -1.32 1.22 -1.32 -1.22 -1.32z"/>
<path d="M112.8 190.4l1.22 1.32 1.22 -1.32 1.22 1.32 -1.22 1.32 1.22 1.32 -1.22 1.32 -1.22 -1.32 -1.22 1.32 -1.22 -1.32 1.22 -1.32 -1.22 -1.32z"/>
<path d="M111.3 198.4l1.22 1.32 1.22 -1.32 1.22 1.32 -1.22 1.32 1.22 1.32 -1.22 1.32 -1.22 -1.32 -1.22 1.32 -1.22 -1.32 1.22 -1.32 -1.22 -1.32z"/>
<path d="M122.9 193.8l1.22 1.32 1.22 -1.32 1.22 1.32 -1.22 1.32 1.22 1.32 -1.22 1.32 -1.22 -1.32 -1.22 1.32 -1.22 -1.32 1.22 -1.32 -1.22 -1.32z"/>
<path d="M117.8 215.1l1.22 1.32 1.22 -1.32 1.22 1.32 -1.22 1.32 1.22 1.32 -1.22 1.32 -1.22 -1.32 -1.22 1.32 -1.22 -1.32 1.22 -1.32 -1.22 -1.32z"/>
<path d="M121.1 199.9l1.22 1.32 1.22 -1.32 1.22 1.32 -1.22 1.32 1.22 1.32 -1.22 1.32 -1.22 -1.32 -1.22 1.32 -1.22 -1.32 1.22 -1.32 -1.22 -1.32z"/>
<path d="M114.1 200.5l1.22 1.32 1.22 -1.32 1.22 1.32 -1.22 1.32 1.22 1.32 -1.22 1.32 -1.22 -1.32 -1.22 1.32 -1.22 -1.32 1.22 -1.32 -1.22 -1.32z"/>
<path d="M97.9 231.8l1.22 1.32 1.22 -1.32 1.22 1.32 -1.22 1.32 1.22 1.32 -1.22 1.32 -1.22 -1.32 -1.22 1.32 -1.22 -1.32 1.22 -1.32 -1.22 -1.32z"/>
<path d="M90.9 210.1l1.22 1.32 1.22 -1.32 1.22 1.32 -1.22 1.32 1.22 1.32 -1.22 1.32 -1.22 -1.32 -1.22 1.32 -1.22 -1.32 1.22 -1.32 -1.22 -1.32z"/>
<path d="M83.5 205.8l1.22 1.32 1.22 -1.32 1.22 1.32 -1.22 1.32 1.22 1.32 -1.22 1.32 -1.22 -1.32 -1.22 1.32 -1.22 -1.32 1.22 -1.32 -1.22 -1.32z"/>
<path d="M96.8 196.5l1.22 1.32 1.22 -1.32 1.22 1.32 -1.22 1.32 1.22 1.32 -1.22 1.32 -1.22 -1.32 -1.22 1.32 -1.22 -1.32 1.22 -1.32 -1.22 -1.32z"/>
<path d="M113.2 206.7l1.22 1.32 1.22 -1.32 1.22 1.32 -1.22 1.32 1.22 1.32 -1.22 1.32 -1.22 -1.32 -1.22 1.32 -1.22 -1.32 1.22 -1.32 -1.22 -1.32z"/>
<path d="M120.6 210.5l1.22 1.32 1.22 -1.32 1.22 1.32 -1.22 1.32 1.22 1.32 -1.22 1.32 -1.22 -1.32 -1.22 1.32 -1.22 -1.32 1.22 -1.32 -1.22 -1.32z"/>
<path d="M120.0 185.8l1.22 1.32 1.22 -1.32 1.22 1.32 -1.22 1.32 1.22 1.32 -1.22 1.32 -1.22 -1.32 -1.22 1.32 -1.22 -1.32 1.22 -1.32 -1.22 -1.32z"/>
<path d="M109.1 179.3l1.22 1.32 1.22 -1.32 1.22 1.32 -1.22 1.32 1.22 1.32 -1.22 1.32 -1.22 -1.32 -1.22 1.32 -1.22 -1.32 1.22 -1.32 -1.22 -1.32z"/>
<path d="M111.7 203.4l1.22 1.32 1.22 -1.32 1.22 1.32 -1.22 1.32 1.22 1.32 -1.22 1.32 -1.22 -1.32 -1.22 1.32 -1.22 -1.32 1.22 -1.32 -1.22 -1.32z"/>
<path d="M103.0 210.5l1.22 1.32 1.22 -1.32 1.22 1.32 -1.22 1.32 1.22 1.32 -1.22 1.32 -1.22 -1.32 -1.22 1.32 -1.22 -1.32 1.22 -1.32 -1.22 -1.32z"/>
<path d="M123.4 192.8l1.22 1.32 1.22 -1.32 1.22 1.32 -1.22 1.32 1.22 1.32 -1.22 1.32 -1.22 -1.32 -1.22 1.32 -1.22 -1.32 1.22 -1.32 -1.22 -1.32z"/>
<path d="M130.3 203.7l1.22 1.32 1.22 -1.32 1.22 1.32 -1.22 1.32 1.22 1.32 -1.22 1.32 -1.22 -1.32 -1.22 1.32 -1.22 -1.32 1.22 -1.32 -1.22 -1.32z"/>
<path d="M103.9 204.9l1.22 1.32 1.22 -1.32 1.22 1.32 -1.22 1.32 1.22 1.32 -1.22 1.32 -1.22 -1.32 -1.22 1.32 -1.22 -1.32 1.22 -1.32 -1.22 -1.32z"/>
<path d="M125.7 180.5l1.22 1.32 1.22 -1.32 1.22 1.32 -1.22 1.32 1.22 1.32 -1.22 1.32 -1.22 -1.32 -1.22 1.32 -1.22 -1.32 1.22 -1.32 -1.22 -1.32z"/>
<path d="M104.8 184.5l1.22 1.32 1.22 -1.32 1.22 1.32 -1.22 1.32 1.22 1.32 -1.22 1.32 -1.22 -1.32 -1.22 1.32 -1.22 -1.32 1.22 -1.32 -1.22 -1.32z"/>
<path d="M121.0 206.4l1.22 1.32 1.22 -1.32 1.22 1.32 -1.22 1.32 1.22 1.32 -1.22 1.32 -1.22 -1.32 -1.22 1.32 -1.22 -1.32 1.22 -1.32 -1.22 -1.32z"/>
<path d="M94.2 179.5l1.22 1.32 1.22 -1.32 1.22 1.32 -1.22 1.32 1.22 1.32 -1.22 1.32 -1.22 -1.32 -1.22 1.32 -1.22 -1.32 1.22 -1.32 -1.22 -1.32z"/>
<path d="M124.3 203.0l1.22 1.32 1.22 -1.32 1.22 1.32 -1.22 1.32 1.22 1.32 -1.22 1.32 -1.22 -1.32 -1.22 1.32 -1.22 -1.32 1.22 -1.32 -1.22 -1.32z"/>
<path d="M76.0 214.2l1.22 1.32 1.22 -1.32 1.22 1.32 -1.22 1.32 1.22 1.32 -1.22 1.32 -1.22 -1.32 -1.22 1.32 -1.22 -1.32 1.22 -1.32 -1.22 -1.32z"/>
<path d="M107.6 211.4l1.22 1.32 1.22 -1.32 1.22 1.32 -1.22 1.32 1.22 1.32 -1.22 1.32 -1.22 -1.32 -1.22 1.32 -1.22 -1.32 1.22 -1.32 -1.22 -1.32z"/>
</g>
<g fill="#4c72b0" stroke="#fff" stroke-width="0.45">
<ellipse cx="128.7" cy="358.0" rx="2.6" ry="2.78"/>
<ellipse cx="133.5" cy="362.3" rx="2.6" ry="2.78"/>
<ellipse cx="128.7" cy="354.8" rx="2.6" ry="2.78"/>
<ellipse cx="137.0" cy="352.0" rx="2.6" ry="2.78"/>
<ellipse cx="130.1" cy="360.6" rx="2.6" ry="2.78"/>
<ellipse cx="128.3" cy="365.7" rx="2.6" ry="2.78"/>
<ellipse cx="139.9" cy="347.7" rx="2.6" ry="2.78"/>
<ellipse cx="128.0" cy="361.1" rx="2.6" ry="2.78"/>
<ellipse cx="131.2" cy="363.3" rx="2.6" ry="2.78"/>
<ellipse cx="131.5" cy="321.6" rx="2.6" ry="2.78"/>
<ellipse cx="139.2" cy="362.0" rx="2.6" ry="2.78"/>
<ellipse cx="132.3" cy="374.3" rx="2.6" ry="2.78"/>
<ellipse cx="133.4" cy="360.5" rx="2.6" ry="2.78"/>
<ellipse cx="135.9" cy="362.1" rx="2.6" ry="2.78"/>
<ellipse cx="131.4" cy="336.0" rx="2.6" ry="2.78"/>
<ellipse cx="138.0" cy="354.4" rx="2.6" ry="2.78"/>
<ellipse cx="138.0" cy="356.3" rx="2.6" ry="2.78"/>
<ellipse cx="135.4" cy="341.3" rx="2.6" ry="2.78"/>
<ellipse cx="130.5" cy="349.0" rx="2.6" ry="2.78"/>
<ellipse cx="133.5" cy="359.1" rx="2.6" ry="2.78"/>
<ellipse cx="128.2" cy="355.7" rx="2.6" ry="2.78"/>
<ellipse cx="128.7" cy="321.6" rx="2.6" ry="2.78"/>
<ellipse cx="137.3" cy="342.6" rx="2.6" ry="2.78"/>
<ellipse cx="127.0" cy="344.2" rx="2.6" ry="2.78"/>
<ellipse cx="128.7" cy="336.8" rx="2.6" ry="2.78"/>
<ellipse cx="129.1" cy="365.0" rx="2.6" ry="2.78"/>
<ellipse cx="135.9" cy="352.3" rx="2.6" ry="2.78"/>
<ellipse cx="129.4" cy="364.8" rx="2.6" ry="2.78"/>
<ellipse cx="133.3" cy="366.2" rx="2.6" ry="2.78"/>
<ellipse cx="135.9" cy="352.7" rx="2.6" ry="2.78"/>
<ellipse cx="131.5" cy="346.0" rx="2.6" ry="2.78"/>
<ellipse cx="139.5" cy="349.8" rx="2.6" ry="2.78"/>
<ellipse cx="144.5" cy="345.5" rx="2.6" ry="2.78"/>
<ellipse cx="132.8" cy="360.8" rx="2.6" ry="2.78"/>
<ellipse cx="134.8" cy="364.0" rx="2.6" ry="2.78"/>
<ellipse cx="129.2" cy="358.2" rx="2.6" ry="2.78"/>
<ellipse cx="128.3" cy="338.8" rx="2.6" ry="2.78"/>
<ellipse cx="131.0" cy="361.3" rx="2.6" ry="2.78"/>
<ellipse cx="134.5" cy="368.3" rx="2.6" ry="2.78"/>
<ellipse cx="124.3" cy="358.4" rx="2.6" ry="2.78"/>
<ellipse cx="139.2" cy="334.9" rx="2.6" ry="2.78"/>
<ellipse cx="130.1" cy="344.7" rx="2.6" ry="2.78"/>
<ellipse cx="129.4" cy="359.8" rx="2.6" ry="2.78"/>
<ellipse cx="146.0" cy="357.0" rx="2.6" ry="2.78"/>
<ellipse cx="136.5" cy="376.0" rx="2.6" ry="2.78"/>
<ellipse cx="130.9" cy="357.3" rx="2.6" ry="2.78"/>
<ellipse cx="136.9" cy="311.8" rx="2.6" ry="2.78"/>
<ellipse cx="137.3" cy="345.9" rx="2.6" ry="2.78"/>
<ellipse cx="130.3" cy="349.5" rx="2.6" ry="2.78"/>
<ellipse cx="127.2" cy="364.9" rx="2.6" ry="2.78"/>
<ellipse cx="132.2" cy="365.7" rx="2.6" ry="2.78"/>
<ellipse cx="132.5" cy="351.9" rx="2.6" ry="2.78"/>
<ellipse cx="140.2" cy="336.8" rx="2.6" ry="2.78"/>
<ellipse cx="140.8" cy="362.5" rx="2.6" ry="2.78"/>
<ellipse cx="134.4" cy="361.3" rx="2.6" ry="2.78"/>
<ellipse cx="135.7" cy="356.6" rx="2.6" ry="2.78"/>
<ellipse cx="141.6" cy="328.9" rx="2.6" ry="2.78"/>
<ellipse cx="136.7" cy="346.4" rx="2.6" ry="2.78"/>
<ellipse cx="137.4" cy="347.1" rx="2.6" ry="2.78"/>
<ellipse cx="127.7" cy="340.0" rx="2.6" ry="2.78"/>
<ellipse cx="127.4" cy="361.0" rx="2.6" ry="2.78"/>
<ellipse cx="131.1" cy="321.1" rx="2.6" ry="2.78"/>
<ellipse cx="133.3" cy="360.6" rx="2.6" ry="2.78"/>
<ellipse cx="132.2" cy="366.8" rx="2.6" ry="2.78"/>
<ellipse cx="128.3" cy="321.1" rx="2.6" ry="2.78"/>
<ellipse cx="132.9" cy="376.8" rx="2.6" ry="2.78"/>
<ellipse cx="134.4" cy="367.8" rx="2.6" ry="2.78"/>
<ellipse cx="139.5" cy="333.9" rx="2.6" ry="2.78"/>
<ellipse cx="137.0" cy="346.4" rx="2.6" ry="2.78"/>
<ellipse cx="139.5" cy="363.0" rx="2.6" ry="2.78"/>
<ellipse cx="133.7" cy="340.4" rx="2.6" ry="2.78"/>
<ellipse cx="134.6" cy="343.8" rx="2.6" ry="2.78"/>
<ellipse cx="131.1" cy="350.8" rx="2.6" ry="2.78"/>
<ellipse cx="140.0" cy="348.3" rx="2.6" ry="2.78"/>
<ellipse cx="138.2" cy="363.5" rx="2.6" ry="2.78"/>
<ellipse cx="139.1" cy="355.0" rx="2.6" ry="2.78"/>
<ellipse cx="140.2" cy="346.2" rx="2.6" ry="2.78"/>
<ellipse cx="137.1" cy="352.6" rx="2.6" ry="2.78"/>
<ellipse cx="126.6" cy="364.0" rx="2.6" ry="2.78"/>
<ellipse cx="128.4" cy="362.6" rx="2.6" ry="2.78"/>
<ellipse cx="127.9" cy="367.8" rx="2.6" ry="2.78"/>
<ellipse cx="136.7" cy="348.2" rx="2.6" ry="2.78"/>
<ellipse cx="133.7" cy="348.3" rx="2.6" ry="2.78"/>
<ellipse cx="129.8" cy="363.8" rx="2.6" ry="2.78"/>
<ellipse cx="129.5" cy="339.0" rx="2.6" ry="2.78"/>
<ellipse cx="136.3" cy="344.4" rx="2.6" ry="2.78"/>
<ellipse cx="128.8" cy="364.6" rx="2.6" ry="2.78"/>
<ellipse cx="130.8" cy="351.2" rx="2.6" ry="2.78"/>
<ellipse cx="130.5" cy="340.0" rx="2.6" ry="2.78"/>
<ellipse cx="129.2" cy="346.2" rx="2.6" ry="2.78"/>
<ellipse cx="143.8" cy="324.8" rx="2.6" ry="2.78"/>
<ellipse cx="137.8" cy="343.4" rx="2.6" ry="2.78"/>
<ellipse cx="135.7" cy="340.3" rx="2.6" ry="2.78"/>
<ellipse cx="131.2" cy="360.7" rx="2.6" ry="2.78"/>
<ellipse cx="127.6" cy="336.3" rx="2.6" ry="2.78"/>
<ellipse cx="140.5" cy="349.0" rx="2.6" ry="2.78"/>
<ellipse cx="131.6" cy="355.6" rx="2.6" ry="2.78"/>
<ellipse cx="139.5" cy="362.8" rx="2.6" ry="2.78"/>
<ellipse cx="128.5" cy="339.2" rx="2.6" ry="2.78"/>
<ellipse cx="129.5" cy="359.3" rx="2.6" ry="2.78"/>
</g>
<g fill="#dd8452" stroke="#fff" stroke-width="0.45">
<path d="M175.5 358.2l3.55 3.8 -3.55 3.8 -3.55 -3.8z"/>
<path d="M173.8 365.4l3.55 3.8 -3.55 3.8 -3.55 -3.8z"/>
<path d="M176.1 356.4l3.55 3.8 -3.55 3.8 -3.55 -3.8z"/>
<path d="M176.3 346.0l3.55 3.8 -3.55 3.8 -3.55 -3.8z"/>
<path d="M172.8 363.6l3.55 3.8 -3.55 3.8 -3.55 -3.8z"/>
<path d="M175.7 352.1l3.55 3.8 -3.55 3.8 -3.55 -3.8z"/>
<path d="M173.7 351.3l3.55 3.8 -3.55 3.8 -3.55 -3.8z"/>
<path d="M172.8 363.6l3.55 3.8 -3.55 3.8 -3.55 -3.8z"/>
<path d="M176.5 352.3l3.55 3.8 -3.55 3.8 -3.55 -3.8z"/>
<path d="M176.4 348.6l3.55 3.8 -3.55 3.8 -3.55 -3.8z"/>
<path d="M177.0 362.1l3.55 3.8 -3.55 3.8 -3.55 -3.8z"/>
<path d="M181.3 360.4l3.55 3.8 -3.55 3.8 -3.55 -3.8z"/>
<path d="M175.1 343.6l3.55 3.8 -3.55 3.8 -3.55 -3.8z"/>
<path d="M177.0 353.2l3.55 3.8 -3.55 3.8 -3.55 -3.8z"/>
<path d="M177.7 339.5l3.55 3.8 -3.55 3.8 -3.55 -3.8z"/>
<path d="M174.3 365.2l3.55 3.8 -3.55 3.8 -3.55 -3.8z"/>
<path d="M175.1 371.6l3.55 3.8 -3.55 3.8 -3.55 -3.8z"/>
<path d="M179.0 353.0l3.55 3.8 -3.55 3.8 -3.55 -3.8z"/>
<path d="M172.0 364.8l3.55 3.8 -3.55 3.8 -3.55 -3.8z"/>
<path d="M176.6 364.0l3.55 3.8 -3.55 3.8 -3.55 -3.8z"/>
<path d="M178.4 325.8l3.55 3.8 -3.55 3.8 -3.55 -3.8z"/>
<path d="M171.9 347.7l3.55 3.8 -3.55 3.8 -3.55 -3.8z"/>
<path d="M175.3 359.7l3.55 3.8 -3.55 3.8 -3.55 -3.8z"/>
<path d="M176.5 362.4l3.55 3.8 -3.55 3.8 -3.55 -3.8z"/>
<path d="M168.3 364.0l3.55 3.8 -3.55 3.8 -3.55 -3.8z"/>
<path d="M173.0 363.4l3.55 3.8 -3.55 3.8 -3.55 -3.8z"/>
<path d="M176.1 359.5l3.55 3.8 -3.55 3.8 -3.55 -3.8z"/>
<path d="M174.9 367.4l3.55 3.8 -3.55 3.8 -3.55 -3.8z"/>
<path d="M175.3 362.7l3.55 3.8 -3.55 3.8 -3.55 -3.8z"/>
<path d="M177.7 359.7l3.55 3.8 -3.55 3.8 -3.55 -3.8z"/>
<path d="M181.1 358.7l3.55 3.8 -3.55 3.8 -3.55 -3.8z"/>
<path d="M179.2 361.5l3.55 3.8 -3.55 3.8 -3.55 -3.8z"/>
<path d="M171.5 360.9l3.55 3.8 -3.55 3.8 -3.55 -3.8z"/>
<path d="M173.7 371.9l3.55 3.8 -3.55 3.8 -3.55 -3.8z"/>
<path d="M174.8 428.5l3.55 3.8 -3.55 3.8 -3.55 -3.8z"/>
<path d="M173.1 367.1l3.55 3.8 -3.55 3.8 -3.55 -3.8z"/>
<path d="M176.3 363.3l3.55 3.8 -3.55 3.8 -3.55 -3.8z"/>
<path d="M173.3 356.3l3.55 3.8 -3.55 3.8 -3.55 -3.8z"/>
<path d="M176.0 364.8l3.55 3.8 -3.55 3.8 -3.55 -3.8z"/>
<path d="M176.2 366.1l3.55 3.8 -3.55 3.8 -3.55 -3.8z"/>
<path d="M169.8 359.0l3.55 3.8 -3.55 3.8 -3.55 -3.8z"/>
<path d="M173.5 356.8l3.55 3.8 -3.55 3.8 -3.55 -3.8z"/>
<path d="M180.3 368.6l3.55 3.8 -3.55 3.8 -3.55 -3.8z"/>
<path d="M178.6 363.6l3.55 3.8 -3.55 3.8 -3.55 -3.8z"/>
<path d="M170.9 357.1l3.55 3.8 -3.55 3.8 -3.55 -3.8z"/>
<path d="M172.0 363.3l3.55 3.8 -3.55 3.8 -3.55 -3.8z"/>
<path d="M174.1 331.6l3.55 3.8 -3.55 3.8 -3.55 -3.8z"/>
<path d="M174.2 363.6l3.55 3.8 -3.55 3.8 -3.55 -3.8z"/>
<path d="M174.7 365.6l3.55 3.8 -3.55 3.8 -3.55 -3.8z"/>
<path d="M174.8 356.7l3.55 3.8 -3.55 3.8 -3.55 -3.8z"/>
<path d="M177.2 354.2l3.55 3.8 -3.55 3.8 -3.55 -3.8z"/>
<path d="M175.2 360.2l3.55 3.8 -3.55 3.8 -3.55 -3.8z"/>
<path d="M171.1 362.1l3.55 3.8 -3.55 3.8 -3.55 -3.8z"/>
<path d="M180.6 355.4l3.55 3.8 -3.55 3.8 -3.55 -3.8z"/>
<path d="M169.5 367.8l3.55 3.8 -3.55 3.8 -3.55 -3.8z"/>
<path d="M178.2 352.8l3.55 3.8 -3.55 3.8 -3.55 -3.8z"/>
<path d="M173.4 351.8l3.55 3.8 -3.55 3.8 -3.55 -3.8z"/>
<path d="M171.2 344.5l3.55 3.8 -3.55 3.8 -3.55 -3.8z"/>
<path d="M173.4 367.5l3.55 3.8 -3.55 3.8 -3.55 -3.8z"/>
<path d="M176.4 358.2l3.55 3.8 -3.55 3.8 -3.55 -3.8z"/>
<path d="M173.1 362.9l3.55 3.8 -3.55 3.8 -3.55 -3.8z"/>
<path d="M173.7 359.6l3.55 3.8 -3.55 3.8 -3.55 -3.8z"/>
<path d="M177.4 320.7l3.55 3.8 -3.55 3.8 -3.55 -3.8z"/>
<path d="M175.4 363.5l3.55 3.8 -3.55 3.8 -3.55 -3.8z"/>
<path d="M177.4 365.6l3.55 3.8 -3.55 3.8 -3.55 -3.8z"/>
<path d="M172.9 366.1l3.55 3.8 -3.55 3.8 -3.55 -3.8z"/>
<path d="M177.6 364.0l3.55 3.8 -3.55 3.8 -3.55 -3.8z"/>
<path d="M179.7 351.9l3.55 3.8 -3.55 3.8 -3.55 -3.8z"/>
<path d="M169.8 366.1l3.55 3.8 -3.55 3.8 -3.55 -3.8z"/>
<path d="M176.3 348.8l3.55 3.8 -3.55 3.8 -3.55 -3.8z"/>
<path d="M177.4 303.7l3.55 3.8 -3.55 3.8 -3.55 -3.8z"/>
<path d="M174.4 365.1l3.55 3.8 -3.55 3.8 -3.55 -3.8z"/>
<path d="M176.0 352.9l3.55 3.8 -3.55 3.8 -3.55 -3.8z"/>
<path d="M176.8 344.6l3.55 3.8 -3.55 3.8 -3.55 -3.8z"/>
<path d="M179.9 348.9l3.55 3.8 -3.55 3.8 -3.55 -3.8z"/>
<path d="M174.1 358.3l3.55 3.8 -3.55 3.8 -3.55 -3.8z"/>
<path d="M176.1 367.8l3.55 3.8 -3.55 3.8 -3.55 -3.8z"/>
<path d="M176.2 364.8l3.55 3.8 -3.55 3.8 -3.55 -3.8z"/>
<path d="M175.6 323.6l3.55 3.8 -3.55 3.8 -3.55 -3.8z"/>
<path d="M175.7 353.8l3.55 3.8 -3.55 3.8 -3.55 -3.8z"/>
<path d="M170.3 367.4l3.55 3.8 -3.55 3.8 -3.55 -3.8z"/>
<path d="M175.8 362.2l3.55 3.8 -3.55 3.8 -3.55 -3.8z"/>
<path d="M174.7 352.1l3.55 3.8 -3.55 3.8 -3.55 -3.8z"/>
<path d="M179.2 342.4l3.55 3.8 -3.55 3.8 -3.55 -3.8z"/>
<path d="M169.5 359.5l3.55 3.8 -3.55 3.8 -3.55 -3.8z"/>
<path d="M176.0 365.3l3.55 3.8 -3.55 3.8 -3.55 -3.8z"/>
<path d="M175.8 354.4l3.55 3.8 -3.55 3.8 -3.55 -3.8z"/>
<path d="M176.4 361.7l3.55 3.8 -3.55 3.8 -3.55 -3.8z"/>
<path d="M177.0 335.2l3.55 3.8 -3.55 3.8 -3.55 -3.8z"/>
<path d="M177.8 374.4l3.55 3.8 -3.55 3.8 -3.55 -3.8z"/>
<path d="M177.0 382.6l3.55 3.8 -3.55 3.8 -3.55 -3.8z"/>
<path d="M177.7 353.7l3.55 3.8 -3.55 3.8 -3.55 -3.8z"/>
<path d="M177.2 369.3l3.55 3.8 -3.55 3.8 -3.55 -3.8z"/>
<path d="M173.5 355.4l3.55 3.8 -3.55 3.8 -3.55 -3.8z"/>
<path d="M179.9 357.9l3.55 3.8 -3.55 3.8 -3.55 -3.8z"/>
<path d="M180.3 342.6l3.55 3.8 -3.55 3.8 -3.55 -3.8z"/>
<path d="M179.9 364.8l3.55 3.8 -3.55 3.8 -3.55 -3.8z"/>
<path d="M173.7 351.4l3.55 3.8 -3.55 3.8 -3.55 -3.8z"/>
<path d="M176.7 357.9l3.55 3.8 -3.55 3.8 -3.55 -3.8z"/>
<path d="M180.3 361.1l3.55 3.8 -3.55 3.8 -3.55 -3.8z"/>
</g>
<g fill="#55a868" stroke="#fff" stroke-width="0.45">
<path d="M81.6 321.3l1.22 1.32 1.22 -1.32 1.22 1.32 -1.22 1.32 1.22 1.32 -1.22 1.32 -1.22 -1.32 -1.22 1.32 -1.22 -1.32 1.22 -1.32 -1.22 -1.32z"/>
<path d="M123.8 347.9l1.22 1.32 1.22 -1.32 1.22 1.32 -1.22 1.32 1.22 1.32 -1.22 1.32 -1.22 -1.32 -1.22 1.32 -1.22 -1.32 1.22 -1.32 -1.22 -1.32z"/>
<path d="M97.4 338.0l1.22 1.32 1.22 -1.32 1.22 1.32 -1.22 1.32 1.22 1.32 -1.22 1.32 -1.22 -1.32 -1.22 1.32 -1.22 -1.32 1.22 -1.32 -1.22 -1.32z"/>
<path d="M94.2 340.9l1.22 1.32 1.22 -1.32 1.22 1.32 -1.22 1.32 1.22 1.32 -1.22 1.32 -1.22 -1.32 -1.22 1.32 -1.22 -1.32 1.22 -1.32 -1.22 -1.32z"/>
<path d="M99.9 335.2l1.22 1.32 1.22 -1.32 1.22 1.32 -1.22 1.32 1.22 1.32 -1.22 1.32 -1.22 -1.32 -1.22 1.32 -1.22 -1.32 1.22 -1.32 -1.22 -1.32z"/>
<path d="M76.0 343.0l1.22 1.32 1.22 -1.32 1.22 1.32 -1.22 1.32 1.22 1.32 -1.22 1.32 -1.22 -1.32 -1.22 1.32 -1.22 -1.32 1.22 -1.32 -1.22 -1.32z"/>
<path d="M133.6 332.4l1.22 1.32 1.22 -1.32 1.22 1.32 -1.22 1.32 1.22 1.32 -1.22 1.32 -1.22 -1.32 -1.22 1.32 -1.22 -1.32 1.22 -1.32 -1.22 -1.32z"/>
<path d="M119.7 317.6l1.22 1.32 1.22 -1.32 1.22 1.32 -1.22 1.32 1.22 1.32 -1.22 1.32 -1.22 -1.32 -1.22 1.32 -1.22 -1.32 1.22 -1.32 -1.22 -1.32z"/>
<path d="M124.3 306.4l1.22 1.32 1.22 -1.32 1.22 1.32 -1.22 1.32 1.22 1.32 -1.22 1.32 -1.22 -1.32 -1.22 1.32 -1.22 -1.32 1.22 -1.32 -1.22 -1.32z"/>
<path d="M112.3 315.5l1.22 1.32 1.22 -1.32 1.22 1.32 -1.22 1.32 1.22 1.32 -1.22 1.32 -1.22 -1.32 -1.22 1.32 -1.22 -1.32 1.22 -1.32 -1.22 -1.32z"/>
<path d="M92.2 331.1l1.22 1.32 1.22 -1.32 1.22 1.32 -1.22 1.32 1.22 1.32 -1.22 1.32 -1.22 -1.32 -1.22 1.32 -1.22 -1.32 1.22 -1.32 -1.22 -1.32z"/>
<path d="M120.6 338.9l1.22 1.32 1.22 -1.32 1.22 1.32 -1.22 1.32 1.22 1.32 -1.22 1.32 -1.22 -1.32 -1.22 1.32 -1.22 -1.32 1.22 -1.32 -1.22 -1.32z"/>
<path d="M81.6 312.9l1.22 1.32 1.22 -1.32 1.22 1.32 -1.22 1.32 1.22 1.32 -1.22 1.32 -1.22 -1.32 -1.22 1.32 -1.22 -1.32 1.22 -1.32 -1.22 -1.32z"/>
<path d="M109.4 353.7l1.22 1.32 1.22 -1.32 1.22 1.32 -1.22 1.32 1.22 1.32 -1.22 1.32 -1.22 -1.32 -1.22 1.32 -1.22 -1.32 1.22 -1.32 -1.22 -1.32z"/>
<path d="M126.1 319.4l1.22 1.32 1.22 -1.32 1.22 1.32 -1.22 1.32 1.22 1.32 -1.22 1.32 -1.22 -1.32 -1.22 1.32 -1.22 -1.32 1.22 -1.32 -1.22 -1.32z"/>
<path d="M100.2 332.4l1.22 1.32 1.22 -1.32 1.22 1.32 -1.22 1.32 1.22 1.32 -1.22 1.32 -1.22 -1.32 -1.22 1.32 -1.22 -1.32 1.22 -1.32 -1.22 -1.32z"/>
<path d="M122.9 344.5l1.22 1.32 1.22 -1.32 1.22 1.32 -1.22 1.32 1.22 1.32 -1.22 1.32 -1.22 -1.32 -1.22 1.32 -1.22 -1.32 1.22 -1.32 -1.22 -1.32z"/>
<path d="M104.8 326.8l1.22 1.32 1.22 -1.32 1.22 1.32 -1.22 1.32 1.22 1.32 -1.22 1.32 -1.22 -1.32 -1.22 1.32 -1.22 -1.32 1.22 -1.32 -1.22 -1.32z"/>
<path d="M106.6 322.2l1.22 1.32 1.22 -1.32 1.22 1.32 -1.22 1.32 1.22 1.32 -1.22 1.32 -1.22 -1.32 -1.22 1.32 -1.22 -1.32 1.22 -1.32 -1.22 -1.32z"/>
<path d="M112.8 337.2l1.22 1.32 1.22 -1.32 1.22 1.32 -1.22 1.32 1.22 1.32 -1.22 1.32 -1.22 -1.32 -1.22 1.32 -1.22 -1.32 1.22 -1.32 -1.22 -1.32z"/>
<path d="M105.1 329.5l1.22 1.32 1.22 -1.32 1.22 1.32 -1.22 1.32 1.22 1.32 -1.22 1.32 -1.22 -1.32 -1.22 1.32 -1.22 -1.32 1.22 -1.32 -1.22 -1.32z"/>
<path d="M104.3 305.5l1.22 1.32 1.22 -1.32 1.22 1.32 -1.22 1.32 1.22 1.32 -1.22 1.32 -1.22 -1.32 -1.22 1.32 -1.22 -1.32 1.22 -1.32 -1.22 -1.32z"/>
<path d="M105.0 343.7l1.22 1.32 1.22 -1.32 1.22 1.32 -1.22 1.32 1.22 1.32 -1.22 1.32 -1.22 -1.32 -1.22 1.32 -1.22 -1.32 1.22 -1.32 -1.22 -1.32z"/>
<path d="M113.8 352.5l1.22 1.32 1.22 -1.32 1.22 1.32 -1.22 1.32 1.22 1.32 -1.22 1.32 -1.22 -1.32 -1.22 1.32 -1.22 -1.32 1.22 -1.32 -1.22 -1.32z"/>
<path d="M98.3 345.4l1.22 1.32 1.22 -1.32 1.22 1.32 -1.22 1.32 1.22 1.32 -1.22 1.32 -1.22 -1.32 -1.22 1.32 -1.22 -1.32 1.22 -1.32 -1.22 -1.32z"/>
<path d="M73.8 331.1l1.22 1.32 1.22 -1.32 1.22 1.32 -1.22 1.32 1.22 1.32 -1.22 1.32 -1.22 -1.32 -1.22 1.32 -1.22 -1.32 1.22 -1.32 -1.22 -1.32z"/>
<path d="M106.7 356.5l1.22 1.32 1.22 -1.32 1.22 1.32 -1.22 1.32 1.22 1.32 -1.22 1.32 -1.22 -1.32 -1.22 1.32 -1.22 -1.32 1.22 -1.32 -1.22 -1.32z"/>
<path d="M113.2 313.8l1.22 1.32 1.22 -1.32 1.22 1.32 -1.22 1.32 1.22 1.32 -1.22 1.32 -1.22 -1.32 -1.22 1.32 -1.22 -1.32 1.22 -1.32 -1.22 -1.32z"/>
<path d="M110.2 313.7l1.22 1.32 1.22 -1.32 1.22 1.32 -1.22 1.32 1.22 1.32 -1.22 1.32 -1.22 -1.32 -1.22 1.32 -1.22 -1.32 1.22 -1.32 -1.22 -1.32z"/>
<path d="M110.4 322.2l1.22 1.32 1.22 -1.32 1.22 1.32 -1.22 1.32 1.22 1.32 -1.22 1.32 -1.22 -1.32 -1.22 1.32 -1.22 -1.32 1.22 -1.32 -1.22 -1.32z"/>
<path d="M114.1 330.5l1.22 1.32 1.22 -1.32 1.22 1.32 -1.22 1.32 1.22 1.32 -1.22 1.32 -1.22 -1.32 -1.22 1.32 -1.22 -1.32 1.22 -1.32 -1.22 -1.32z"/>
<path d="M87.2 343.5l1.22 1.32 1.22 -1.32 1.22 1.32 -1.22 1.32 1.22 1.32 -1.22 1.32 -1.22 -1.32 -1.22 1.32 -1.22 -1.32 1.22 -1.32 -1.22 -1.32z"/>
<path d="M133.2 321.9l1.22 1.32 1.22 -1.32 1.22 1.32 -1.22 1.32 1.22 1.32 -1.22 1.32 -1.22 -1.32 -1.22 1.32 -1.22 -1.32 1.22 -1.32 -1.22 -1.32z"/>
<path d="M97.4 321.3l1.22 1.32 1.22 -1.32 1.22 1.32 -1.22 1.32 1.22 1.32 -1.22 1.32 -1.22 -1.32 -1.22 1.32 -1.22 -1.32 1.22 -1.32 -1.22 -1.32z"/>
<path d="M119.7 325.9l1.22 1.32 1.22 -1.32 1.22 1.32 -1.22 1.32 1.22 1.32 -1.22 1.32 -1.22 -1.32 -1.22 1.32 -1.22 -1.32 1.22 -1.32 -1.22 -1.32z"/>
<path d="M94.6 308.3l1.22 1.32 1.22 -1.32 1.22 1.32 -1.22 1.32 1.22 1.32 -1.22 1.32 -1.22 -1.32 -1.22 1.32 -1.22 -1.32 1.22 -1.32 -1.22 -1.32z"/>
<path d="M112.2 344.5l1.22 1.32 1.22 -1.32 1.22 1.32 -1.22 1.32 1.22 1.32 -1.22 1.32 -1.22 -1.32 -1.22 1.32 -1.22 -1.32 1.22 -1.32 -1.22 -1.32z"/>
<path d="M82.5 308.8l1.22 1.32 1.22 -1.32 1.22 1.32 -1.22 1.32 1.22 1.32 -1.22 1.32 -1.22 -1.32 -1.22 1.32 -1.22 -1.32 1.22 -1.32 -1.22 -1.32z"/>
<path d="M133.2 331.3l1.22 1.32 1.22 -1.32 1.22 1.32 -1.22 1.32 1.22 1.32 -1.22 1.32 -1.22 -1.32 -1.22 1.32 -1.22 -1.32 1.22 -1.32 -1.22 -1.32z"/>
<path d="M107.6 332.4l1.22 1.32 1.22 -1.32 1.22 1.32 -1.22 1.32 1.22 1.32 -1.22 1.32 -1.22 -1.32 -1.22 1.32 -1.22 -1.32 1.22 -1.32 -1.22 -1.32z"/>
<path d="M77.9 337.0l1.22 1.32 1.22 -1.32 1.22 1.32 -1.22 1.32 1.22 1.32 -1.22 1.32 -1.22 -1.32 -1.22 1.32 -1.22 -1.32 1.22 -1.32 -1.22 -1.32z"/>
<path d="M120.6 331.5l1.22 1.32 1.22 -1.32 1.22 1.32 -1.22 1.32 1.22 1.32 -1.22 1.32 -1.22 -1.32 -1.22 1.32 -1.22 -1.32 1.22 -1.32 -1.22 -1.32z"/>
<path d="M124.3 306.3l1.22 1.32 1.22 -1.32 1.22 1.32 -1.22 1.32 1.22 1.32 -1.22 1.32 -1.22 -1.32 -1.22 1.32 -1.22 -1.32 1.22 -1.32 -1.22 -1.32z"/>
<path d="M65.3 330.5l1.22 1.32 1.22 -1.32 1.22 1.32 -1.22 1.32 1.22 1.32 -1.22 1.32 -1.22 -1.32 -1.22 1.32 -1.22 -1.32 1.22 -1.32 -1.22 -1.32z"/>
<path d="M112.8 303.3l1.22 1.32 1.22 -1.32 1.22 1.32 -1.22 1.32 1.22 1.32 -1.22 1.32 -1.22 -1.32 -1.22 1.32 -1.22 -1.32 1.22 -1.32 -1.22 -1.32z"/>
<path d="M124.3 353.7l1.22 1.32 1.22 -1.32 1.22 1.32 -1.22 1.32 1.22 1.32 -1.22 1.32 -1.22 -1.32 -1.22 1.32 -1.22 -1.32 1.22 -1.32 -1.22 -1.32z"/>
<path d="M113.2 343.5l1.22 1.32 1.22 -1.32 1.22 1.32 -1.22 1.32 1.22 1.32 -1.22 1.32 -1.22 -1.32 -1.22 1.32 -1.22 -1.32 1.22 -1.32 -1.22 -1.32z"/>
<path d="M111.7 309.2l1.22 1.32 1.22 -1.32 1.22 1.32 -1.22 1.32 1.22 1.32 -1.22 1.32 -1.22 -1.32 -1.22 1.32 -1.22 -1.32 1.22 -1.32 -1.22 -1.32z"/>
<path d="M111.6 393.6l1.22 1.32 1.22 -1.32 1.22 1.32 -1.22 1.32 1.22 1.32 -1.22 1.32 -1.22 -1.32 -1.22 1.32 -1.22 -1.32 1.22 -1.32 -1.22 -1.32z"/>
<path d="M111.3 325.9l1.22 1.32 1.22 -1.32 1.22 1.32 -1.22 1.32 1.22 1.32 -1.22 1.32 -1.22 -1.32 -1.22 1.32 -1.22 -1.32 1.22 -1.32 -1.22 -1.32z"/>
<path d="M103.9 360.2l1.22 1.32 1.22 -1.32 1.22 1.32 -1.22 1.32 1.22 1.32 -1.22 1.32 -1.22 -1.32 -1.22 1.32 -1.22 -1.32 1.22 -1.32 -1.22 -1.32z"/>
<path d="M129.5 382.5l1.22 1.32 1.22 -1.32 1.22 1.32 -1.22 1.32 1.22 1.32 -1.22 1.32 -1.22 -1.32 -1.22 1.32 -1.22 -1.32 1.22 -1.32 -1.22 -1.32z"/>
<path d="M122.4 350.0l1.22 1.32 1.22 -1.32 1.22 1.32 -1.22 1.32 1.22 1.32 -1.22 1.32 -1.22 -1.32 -1.22 1.32 -1.22 -1.32 1.22 -1.32 -1.22 -1.32z"/>
<path d="M102.1 357.6l1.22 1.32 1.22 -1.32 1.22 1.32 -1.22 1.32 1.22 1.32 -1.22 1.32 -1.22 -1.32 -1.22 1.32 -1.22 -1.32 1.22 -1.32 -1.22 -1.32z"/>
<path d="M115.9 344.5l1.22 1.32 1.22 -1.32 1.22 1.32 -1.22 1.32 1.22 1.32 -1.22 1.32 -1.22 -1.32 -1.22 1.32 -1.22 -1.32 1.22 -1.32 -1.22 -1.32z"/>
<path d="M112.8 337.4l1.22 1.32 1.22 -1.32 1.22 1.32 -1.22 1.32 1.22 1.32 -1.22 1.32 -1.22 -1.32 -1.22 1.32 -1.22 -1.32 1.22 -1.32 -1.22 -1.32z"/>
<path d="M62.1 324.4l1.22 1.32 1.22 -1.32 1.22 1.32 -1.22 1.32 1.22 1.32 -1.22 1.32 -1.22 -1.32 -1.22 1.32 -1.22 -1.32 1.22 -1.32 -1.22 -1.32z"/>
<path d="M90.9 330.0l1.22 1.32 1.22 -1.32 1.22 1.32 -1.22 1.32 1.22 1.32 -1.22 1.32 -1.22 -1.32 -1.22 1.32 -1.22 -1.32 1.22 -1.32 -1.22 -1.32z"/>
<path d="M76.0 325.5l1.22 1.32 1.22 -1.32 1.22 1.32 -1.22 1.32 1.22 1.32 -1.22 1.32 -1.22 -1.32 -1.22 1.32 -1.22 -1.32 1.22 -1.32 -1.22 -1.32z"/>
<path d="M115.0 348.2l1.22 1.32 1.22 -1.32 1.22 1.32 -1.22 1.32 1.22 1.32 -1.22 1.32 -1.22 -1.32 -1.22 1.32 -1.22 -1.32 1.22 -1.32 -1.22 -1.32z"/>
<path d="M114.3 402.9l1.22 1.32 1.22 -1.32 1.22 1.32 -1.22 1.32 1.22 1.32 -1.22 1.32 -1.22 -1.32 -1.22 1.32 -1.22 -1.32 1.22 -1.32 -1.22 -1.32z"/>
<path d="M106.7 321.6l1.22 1.32 1.22 -1.32 1.22 1.32 -1.22 1.32 1.22 1.32 -1.22 1.32 -1.22 -1.32 -1.22 1.32 -1.22 -1.32 1.22 -1.32 -1.22 -1.32z"/>
<path d="M115.0 358.4l1.22 1.32 1.22 -1.32 1.22 1.32 -1.22 1.32 1.22 1.32 -1.22 1.32 -1.22 -1.32 -1.22 1.32 -1.22 -1.32 1.22 -1.32 -1.22 -1.32z"/>
<path d="M124.8 349.9l1.22 1.32 1.22 -1.32 1.22 1.32 -1.22 1.32 1.22 1.32 -1.22 1.32 -1.22 -1.32 -1.22 1.32 -1.22 -1.32 1.22 -1.32 -1.22 -1.32z"/>
<path d="M120.2 364.5l1.22 1.32 1.22 -1.32 1.22 1.32 -1.22 1.32 1.22 1.32 -1.22 1.32 -1.22 -1.32 -1.22 1.32 -1.22 -1.32 1.22 -1.32 -1.22 -1.32z"/>
<path d="M93.7 321.3l1.22 1.32 1.22 -1.32 1.22 1.32 -1.22 1.32 1.22 1.32 -1.22 1.32 -1.22 -1.32 -1.22 1.32 -1.22 -1.32 1.22 -1.32 -1.22 -1.32z"/>
<path d="M126.2 349.4l1.22 1.32 1.22 -1.32 1.22 1.32 -1.22 1.32 1.22 1.32 -1.22 1.32 -1.22 -1.32 -1.22 1.32 -1.22 -1.32 1.22 -1.32 -1.22 -1.32z"/>
<path d="M115.0 320.3l1.22 1.32 1.22 -1.32 1.22 1.32 -1.22 1.32 1.22 1.32 -1.22 1.32 -1.22 -1.32 -1.22 1.32 -1.22 -1.32 1.22 -1.32 -1.22 -1.32z"/>
<path d="M102.0 348.2l1.22 1.32 1.22 -1.32 1.22 1.32 -1.22 1.32 1.22 1.32 -1.22 1.32 -1.22 -1.32 -1.22 1.32 -1.22 -1.32 1.22 -1.32 -1.22 -1.32z"/>
<path d="M133.2 322.2l1.22 1.32 1.22 -1.32 1.22 1.32 -1.22 1.32 1.22 1.32 -1.22 1.32 -1.22 -1.32 -1.22 1.32 -1.22 -1.32 1.22 -1.32 -1.22 -1.32z"/>
<path d="M95.5 313.8l1.22 1.32 1.22 -1.32 1.22 1.32 -1.22 1.32 1.22 1.32 -1.22 1.32 -1.22 -1.32 -1.22 1.32 -1.22 -1.32 1.22 -1.32 -1.22 -1.32z"/>
<path d="M128.0 328.7l1.22 1.32 1.22 -1.32 1.22 1.32 -1.22 1.32 1.22 1.32 -1.22 1.32 -1.22 -1.32 -1.22 1.32 -1.22 -1.32 1.22 -1.32 -1.22 -1.32z"/>
<path d="M125.2 348.2l1.22 1.32 1.22 -1.32 1.22 1.32 -1.22 1.32 1.22 1.32 -1.22 1.32 -1.22 -1.32 -1.22 1.32 -1.22 -1.32 1.22 -1.32 -1.22 -1.32z"/>
<path d="M124.3 325.0l1.22 1.32 1.22 -1.32 1.22 1.32 -1.22 1.32 1.22 1.32 -1.22 1.32 -1.22 -1.32 -1.22 1.32 -1.22 -1.32 1.22 -1.32 -1.22 -1.32z"/>
<path d="M108.8 332.5l1.22 1.32 1.22 -1.32 1.22 1.32 -1.22 1.32 1.22 1.32 -1.22 1.32 -1.22 -1.32 -1.22 1.32 -1.22 -1.32 1.22 -1.32 -1.22 -1.32z"/>
<path d="M115.7 316.4l1.22 1.32 1.22 -1.32 1.22 1.32 -1.22 1.32 1.22 1.32 -1.22 1.32 -1.22 -1.32 -1.22 1.32 -1.22 -1.32 1.22 -1.32 -1.22 -1.32z"/>
<path d="M114.9 357.4l1.22 1.32 1.22 -1.32 1.22 1.32 -1.22 1.32 1.22 1.32 -1.22 1.32 -1.22 -1.32 -1.22 1.32 -1.22 -1.32 1.22 -1.32 -1.22 -1.32z"/>
<path d="M109.2 353.2l1.22 1.32 1.22 -1.32 1.22 1.32 -1.22 1.32 1.22 1.32 -1.22 1.32 -1.22 -1.32 -1.22 1.32 -1.22 -1.32 1.22 -1.32 -1.22 -1.32z"/>
<path d="M111.3 376.4l1.22 1.32 1.22 -1.32 1.22 1.32 -1.22 1.32 1.22 1.32 -1.22 1.32 -1.22 -1.32 -1.22 1.32 -1.22 -1.32 1.22 -1.32 -1.22 -1.32z"/>
<path d="M120.4 364.8l1.22 1.32 1.22 -1.32 1.22 1.32 -1.22 1.32 1.22 1.32 -1.22 1.32 -1.22 -1.32 -1.22 1.32 -1.22 -1.32 1.22 -1.32 -1.22 -1.32z"/>
<path d="M113.6 325.3l1.22 1.32 1.22 -1.32 1.22 1.32 -1.22 1.32 1.22 1.32 -1.22 1.32 -1.22 -1.32 -1.22 1.32 -1.22 -1.32 1.22 -1.32 -1.22 -1.32z"/>
<path d="M109.0 347.3l1.22 1.32 1.22 -1.32 1.22 1.32 -1.22 1.32 1.22 1.32 -1.22 1.32 -1.22 -1.32 -1.22 1.32 -1.22 -1.32 1.22 -1.32 -1.22 -1.32z"/>
<path d="M97.4 341.7l1.22 1.32 1.22 -1.32 1.22 1.32 -1.22 1.32 1.22 1.32 -1.22 1.32 -1.22 -1.32 -1.22 1.32 -1.22 -1.32 1.22 -1.32 -1.22 -1.32z"/>
<path d="M81.2 345.9l1.22 1.32 1.22 -1.32 1.22 1.32 -1.22 1.32 1.22 1.32 -1.22 1.32 -1.22 -1.32 -1.22 1.32 -1.22 -1.32 1.22 -1.32 -1.22 -1.32z"/>
<path d="M103.0 342.2l1.22 1.32 1.22 -1.32 1.22 1.32 -1.22 1.32 1.22 1.32 -1.22 1.32 -1.22 -1.32 -1.22 1.32 -1.22 -1.32 1.22 -1.32 -1.22 -1.32z"/>
<path d="M108.3 351.4l1.22 1.32 1.22 -1.32 1.22 1.32 -1.22 1.32 1.22 1.32 -1.22 1.32 -1.22 -1.32 -1.22 1.32 -1.22 -1.32 1.22 -1.32 -1.22 -1.32z"/>
<path d="M102.4 338.9l1.22 1.32 1.22 -1.32 1.22 1.32 -1.22 1.32 1.22 1.32 -1.22 1.32 -1.22 -1.32 -1.22 1.32 -1.22 -1.32 1.22 -1.32 -1.22 -1.32z"/>
<path d="M96.5 327.8l1.22 1.32 1.22 -1.32 1.22 1.32 -1.22 1.32 1.22 1.32 -1.22 1.32 -1.22 -1.32 -1.22 1.32 -1.22 -1.32 1.22 -1.32 -1.22 -1.32z"/>
<path d="M105.3 351.0l1.22 1.32 1.22 -1.32 1.22 1.32 -1.22 1.32 1.22 1.32 -1.22 1.32 -1.22 -1.32 -1.22 1.32 -1.22 -1.32 1.22 -1.32 -1.22 -1.32z"/>
<path d="M108.5 319.4l1.22 1.32 1.22 -1.32 1.22 1.32 -1.22 1.32 1.22 1.32 -1.22 1.32 -1.22 -1.32 -1.22 1.32 -1.22 -1.32 1.22 -1.32 -1.22 -1.32z"/>
<path d="M115.0 354.7l1.22 1.32 1.22 -1.32 1.22 1.32 -1.22 1.32 1.22 1.32 -1.22 1.32 -1.22 -1.32 -1.22 1.32 -1.22 -1.32 1.22 -1.32 -1.22 -1.32z"/>
<path d="M104.8 352.3l1.22 1.32 1.22 -1.32 1.22 1.32 -1.22 1.32 1.22 1.32 -1.22 1.32 -1.22 -1.32 -1.22 1.32 -1.22 -1.32 1.22 -1.32 -1.22 -1.32z"/>
<path d="M90.9 363.6l1.22 1.32 1.22 -1.32 1.22 1.32 -1.22 1.32 1.22 1.32 -1.22 1.32 -1.22 -1.32 -1.22 1.32 -1.22 -1.32 1.22 -1.32 -1.22 -1.32z"/>
<path d="M120.2 364.9l1.22 1.32 1.22 -1.32 1.22 1.32 -1.22 1.32 1.22 1.32 -1.22 1.32 -1.22 -1.32 -1.22 1.32 -1.22 -1.32 1.22 -1.32 -1.22 -1.32z"/>
<path d="M119.6 332.4l1.22 1.32 1.22 -1.32 1.22 1.32 -1.22 1.32 1.22 1.32 -1.22 1.32 -1.22 -1.32 -1.22 1.32 -1.22 -1.32 1.22 -1.32 -1.22 -1.32z"/>
<path d="M86.3 363.6l1.22 1.32 1.22 -1.32 1.22 1.32 -1.22 1.32 1.22 1.32 -1.22 1.32 -1.22 -1.32 -1.22 1.32 -1.22 -1.32 1.22 -1.32 -1.22 -1.32z"/>
<path d="M121.7 334.9l1.22 1.32 1.22 -1.32 1.22 1.32 -1.22 1.32 1.22 1.32 -1.22 1.32 -1.22 -1.32 -1.22 1.32 -1.22 -1.32 1.22 -1.32 -1.22 -1.32z"/>
<path d="M92.7 304.0l1.22 1.32 1.22 -1.32 1.22 1.32 -1.22 1.32 1.22 1.32 -1.22 1.32 -1.22 -1.32 -1.22 1.32 -1.22 -1.32 1.22 -1.32 -1.22 -1.32z"/>
<path d="M115.9 308.8l1.22 1.32 1.22 -1.32 1.22 1.32 -1.22 1.32 1.22 1.32 -1.22 1.32 -1.22 -1.32 -1.22 1.32 -1.22 -1.32 1.22 -1.32 -1.22 -1.32z"/>
<path d="M109.3 343.5l1.22 1.32 1.22 -1.32 1.22 1.32 -1.22 1.32 1.22 1.32 -1.22 1.32 -1.22 -1.32 -1.22 1.32 -1.22 -1.32 1.22 -1.32 -1.22 -1.32z"/>
</g>
<g fill="#4c72b0" stroke="#fff" stroke-width="0.45">
<ellipse cx="270.8" cy="368.3" rx="2.6" ry="2.78"/>
<ellipse cx="276.2" cy="331.4" rx="2.6" ry="2.78"/>
<ellipse cx="275.1" cy="328.5" rx="2.6" ry="2.78"/>
<ellipse cx="270.2" cy="346.0" rx="2.6" ry="2.78"/>
<ellipse cx="267.4" cy="359.4" rx="2.6" ry="2.78"/>
<ellipse cx="267.6" cy="334.1" rx="2.6" ry="2.78"/>
<ellipse cx="277.1" cy="339.0" rx="2.6" ry="2.78"/>
<ellipse cx="267.7" cy="362.7" rx="2.6" ry="2.78"/>
<ellipse cx="271.6" cy="341.8" rx="2.6" ry="2.78"/>
<ellipse cx="267.8" cy="347.1" rx="2.6" ry="2.78"/>
<ellipse cx="269.3" cy="354.1" rx="2.6" ry="2.78"/>
<ellipse cx="280.6" cy="360.1" rx="2.6" ry="2.78"/>
<ellipse cx="265.5" cy="358.6" rx="2.6" ry="2.78"/>
<ellipse cx="277.3" cy="329.3" rx="2.6" ry="2.78"/>
<ellipse cx="269.8" cy="361.5" rx="2.6" ry="2.78"/>
<ellipse cx="265.4" cy="362.6" rx="2.6" ry="2.78"/>
<ellipse cx="266.4" cy="350.9" rx="2.6" ry="2.78"/>
<ellipse cx="272.8" cy="344.9" rx="2.6" ry="2.78"/>
<ellipse cx="256.5" cy="348.0" rx="2.6" ry="2.78"/>
<ellipse cx="265.3" cy="363.2" rx="2.6" ry="2.78"/>
<ellipse cx="265.8" cy="363.8" rx="2.6" ry="2.78"/>
<ellipse cx="265.4" cy="358.2" rx="2.6" ry="2.78"/>
<ellipse cx="270.0" cy="332.6" rx="2.6" ry="2.78"/>
<ellipse cx="267.4" cy="348.2" rx="2.6" ry="2.78"/>
<ellipse cx="264.8" cy="350.8" rx="2.6" ry="2.78"/>
<ellipse cx="264.5" cy="351.0" rx="2.6" ry="2.78"/>
<ellipse cx="281.5" cy="352.7" rx="2.6" ry="2.78"/>
<ellipse cx="268.9" cy="334.5" rx="2.6" ry="2.78"/>
<ellipse cx="268.3" cy="352.1" rx="2.6" ry="2.78"/>
<ellipse cx="265.4" cy="332.2" rx="2.6" ry="2.78"/>
<ellipse cx="274.1" cy="329.9" rx="2.6" ry="2.78"/>
<ellipse cx="269.6" cy="350.5" rx="2.6" ry="2.78"/>
<ellipse cx="277.8" cy="341.5" rx="2.6" ry="2.78"/>
<ellipse cx="266.9" cy="359.0" rx="2.6" ry="2.78"/>
<ellipse cx="268.6" cy="360.1" rx="2.6" ry="2.78"/>
<ellipse cx="267.1" cy="350.9" rx="2.6" ry="2.78"/>
<ellipse cx="268.6" cy="352.7" rx="2.6" ry="2.78"/>
<ellipse cx="278.7" cy="342.8" rx="2.6" ry="2.78"/>
<ellipse cx="276.7" cy="336.4" rx="2.6" ry="2.78"/>
<ellipse cx="263.9" cy="350.5" rx="2.6" ry="2.78"/>
<ellipse cx="275.6" cy="329.2" rx="2.6" ry="2.78"/>
<ellipse cx="268.9" cy="347.4" rx="2.6" ry="2.78"/>
<ellipse cx="274.9" cy="339.2" rx="2.6" ry="2.78"/>
<ellipse cx="264.1" cy="335.6" rx="2.6" ry="2.78"/>
<ellipse cx="274.0" cy="340.6" rx="2.6" ry="2.78"/>
<ellipse cx="268.5" cy="353.9" rx="2.6" ry="2.78"/>
<ellipse cx="269.6" cy="363.8" rx="2.6" ry="2.78"/>
<ellipse cx="275.1" cy="329.7" rx="2.6" ry="2.78"/>
<ellipse cx="268.6" cy="331.3" rx="2.6" ry="2.78"/>
<ellipse cx="268.6" cy="375.9" rx="2.6" ry="2.78"/>
<ellipse cx="275.0" cy="344.2" rx="2.6" ry="2.78"/>
<ellipse cx="276.8" cy="330.4" rx="2.6" ry="2.78"/>
<ellipse cx="259.3" cy="353.6" rx="2.6" ry="2.78"/>
<ellipse cx="273.2" cy="368.4" rx="2.6" ry="2.78"/>
<ellipse cx="267.2" cy="335.1" rx="2.6" ry="2.78"/>
<ellipse cx="270.2" cy="356.8" rx="2.6" ry="2.78"/>
<ellipse cx="263.9" cy="358.2" rx="2.6" ry="2.78"/>
<ellipse cx="265.2" cy="336.8" rx="2.6" ry="2.78"/>
<ellipse cx="263.5" cy="358.9" rx="2.6" ry="2.78"/>
<ellipse cx="268.7" cy="356.4" rx="2.6" ry="2.78"/>
<ellipse cx="268.3" cy="345.7" rx="2.6" ry="2.78"/>
<ellipse cx="269.3" cy="361.4" rx="2.6" ry="2.78"/>
<ellipse cx="271.3" cy="320.8" rx="2.6" ry="2.78"/>
<ellipse cx="276.3" cy="337.1" rx="2.6" ry="2.78"/>
<ellipse cx="266.5" cy="363.9" rx="2.6" ry="2.78"/>
<ellipse cx="278.8" cy="342.9" rx="2.6" ry="2.78"/>
<ellipse cx="269.7" cy="347.7" rx="2.6" ry="2.78"/>
<ellipse cx="269.0" cy="358.0" rx="2.6" ry="2.78"/>
<ellipse cx="267.1" cy="362.7" rx="2.6" ry="2.78"/>
<ellipse cx="265.5" cy="360.6" rx="2.6" ry="2.78"/>
<ellipse cx="276.3" cy="327.7" rx="2.6" ry="2.78"/>
<ellipse cx="278.8" cy="320.8" rx="2.6" ry="2.78"/>
<ellipse cx="269.1" cy="333.5" rx="2.6" ry="2.78"/>
<ellipse cx="264.6" cy="362.0" rx="2.6" ry="2.78"/>
<ellipse cx="268.5" cy="346.8" rx="2.6" ry="2.78"/>
<ellipse cx="273.2" cy="344.3" rx="2.6" ry="2.78"/>
<ellipse cx="269.8" cy="357.9" rx="2.6" ry="2.78"/>
<ellipse cx="266.3" cy="346.9" rx="2.6" ry="2.78"/>
<ellipse cx="277.6" cy="342.2" rx="2.6" ry="2.78"/>
<ellipse cx="267.3" cy="349.3" rx="2.6" ry="2.78"/>
<ellipse cx="273.8" cy="329.5" rx="2.6" ry="2.78"/>
<ellipse cx="278.5" cy="342.0" rx="2.6" ry="2.78"/>
<ellipse cx="267.7" cy="362.0" rx="2.6" ry="2.78"/>
<ellipse cx="274.4" cy="330.4" rx="2.6" ry="2.78"/>
<ellipse cx="272.6" cy="339.9" rx="2.6" ry="2.78"/>
<ellipse cx="264.6" cy="348.1" rx="2.6" ry="2.78"/>
<ellipse cx="272.6" cy="346.4" rx="2.6" ry="2.78"/>
<ellipse cx="267.4" cy="361.2" rx="2.6" ry="2.78"/>
<ellipse cx="267.6" cy="346.2" rx="2.6" ry="2.78"/>
<ellipse cx="273.1" cy="336.1" rx="2.6" ry="2.78"/>
<ellipse cx="276.9" cy="336.0" rx="2.6" ry="2.78"/>
<ellipse cx="276.6" cy="343.5" rx="2.6" ry="2.78"/>
<ellipse cx="266.7" cy="376.8" rx="2.6" ry="2.78"/>
<ellipse cx="271.3" cy="337.1" rx="2.6" ry="2.78"/>
<ellipse cx="265.9" cy="357.4" rx="2.6" ry="2.78"/>
<ellipse cx="276.6" cy="341.6" rx="2.6" ry="2.78"/>
<ellipse cx="265.3" cy="355.1" rx="2.6" ry="2.78"/>
<ellipse cx="266.9" cy="352.6" rx="2.6" ry="2.78"/>
<ellipse cx="274.4" cy="366.5" rx="2.6" ry="2.78"/>
<ellipse cx="271.3" cy="336.9" rx="2.6" ry="2.78"/>
</g>
<g fill="#dd8452" stroke="#fff" stroke-width="0.45">
<path d="M226.9 367.8l3.55 3.8 -3.55 3.8 -3.55 -3.8z"/>
<path d="M226.7 361.7l3.55 3.8 -3.55 3.8 -3.55 -3.8z"/>
<path d="M254.1 359.1l3.55 3.8 -3.55 3.8 -3.55 -3.8z"/>
<path d="M217.5 348.8l3.55 3.8 -3.55 3.8 -3.55 -3.8z"/>
<path d="M224.7 345.7l3.55 3.8 -3.55 3.8 -3.55 -3.8z"/>
<path d="M220.5 339.4l3.55 3.8 -3.55 3.8 -3.55 -3.8z"/>
<path d="M225.1 364.0l3.55 3.8 -3.55 3.8 -3.55 -3.8z"/>
<path d="M225.1 351.2l3.55 3.8 -3.55 3.8 -3.55 -3.8z"/>
<path d="M222.6 339.5l3.55 3.8 -3.55 3.8 -3.55 -3.8z"/>
<path d="M223.6 364.2l3.55 3.8 -3.55 3.8 -3.55 -3.8z"/>
<path d="M228.7 362.2l3.55 3.8 -3.55 3.8 -3.55 -3.8z"/>
<path d="M223.7 337.5l3.55 3.8 -3.55 3.8 -3.55 -3.8z"/>
<path d="M225.2 361.5l3.55 3.8 -3.55 3.8 -3.55 -3.8z"/>
<path d="M225.4 357.9l3.55 3.8 -3.55 3.8 -3.55 -3.8z"/>
<path d="M227.0 357.1l3.55 3.8 -3.55 3.8 -3.55 -3.8z"/>
<path d="M272.6 325.7l3.55 3.8 -3.55 3.8 -3.55 -3.8z"/>
<path d="M224.7 368.3l3.55 3.8 -3.55 3.8 -3.55 -3.8z"/>
<path d="M230.9 369.4l3.55 3.8 -3.55 3.8 -3.55 -3.8z"/>
<path d="M219.6 359.1l3.55 3.8 -3.55 3.8 -3.55 -3.8z"/>
<path d="M215.8 365.7l3.55 3.8 -3.55 3.8 -3.55 -3.8z"/>
<path d="M227.8 353.1l3.55 3.8 -3.55 3.8 -3.55 -3.8z"/>
<path d="M225.7 360.1l3.55 3.8 -3.55 3.8 -3.55 -3.8z"/>
<path d="M231.4 350.7l3.55 3.8 -3.55 3.8 -3.55 -3.8z"/>
<path d="M229.3 362.9l3.55 3.8 -3.55 3.8 -3.55 -3.8z"/>
<path d="M210.3 366.9l3.55 3.8 -3.55 3.8 -3.55 -3.8z"/>
<path d="M222.6 364.2l3.55 3.8 -3.55 3.8 -3.55 -3.8z"/>
<path d="M273.2 304.0l3.55 3.8 -3.55 3.8 -3.55 -3.8z"/>
<path d="M221.2 369.5l3.55 3.8 -3.55 3.8 -3.55 -3.8z"/>
<path d="M244.3 351.3l3.55 3.8 -3.55 3.8 -3.55 -3.8z"/>
<path d="M234.6 382.1l3.55 3.8 -3.55 3.8 -3.55 -3.8z"/>
<path d="M229.8 365.0l3.55 3.8 -3.55 3.8 -3.55 -3.8z"/>
<path d="M231.2 365.8l3.55 3.8 -3.55 3.8 -3.55 -3.8z"/>
<path d="M232.9 344.7l3.55 3.8 -3.55 3.8 -3.55 -3.8z"/>
<path d="M227.8 326.1l3.55 3.8 -3.55 3.8 -3.55 -3.8z"/>
<path d="M230.7 356.7l3.55 3.8 -3.55 3.8 -3.55 -3.8z"/>
<path d="M217.5 357.1l3.55 3.8 -3.55 3.8 -3.55 -3.8z"/>
<path d="M225.2 357.5l3.55 3.8 -3.55 3.8 -3.55 -3.8z"/>
<path d="M219.5 344.2l3.55 3.8 -3.55 3.8 -3.55 -3.8z"/>
<path d="M217.9 361.1l3.55 3.8 -3.55 3.8 -3.55 -3.8z"/>
<path d="M226.8 347.3l3.55 3.8 -3.55 3.8 -3.55 -3.8z"/>
<path d="M224.5 356.0l3.55 3.8 -3.55 3.8 -3.55 -3.8z"/>
<path d="M225.7 369.7l3.55 3.8 -3.55 3.8 -3.55 -3.8z"/>
<path d="M229.0 356.8l3.55 3.8 -3.55 3.8 -3.55 -3.8z"/>
<path d="M213.4 366.3l3.55 3.8 -3.55 3.8 -3.55 -3.8z"/>
<path d="M221.9 346.1l3.55 3.8 -3.55 3.8 -3.55 -3.8z"/>
<path d="M230.9 382.1l3.55 3.8 -3.55 3.8 -3.55 -3.8z"/>
<path d="M217.5 363.5l3.55 3.8 -3.55 3.8 -3.55 -3.8z"/>
<path d="M227.5 360.3l3.55 3.8 -3.55 3.8 -3.55 -3.8z"/>
<path d="M216.6 366.3l3.55 3.8 -3.55 3.8 -3.55 -3.8z"/>
<path d="M216.4 353.6l3.55 3.8 -3.55 3.8 -3.55 -3.8z"/>
<path d="M221.6 356.6l3.55 3.8 -3.55 3.8 -3.55 -3.8z"/>
<path d="M259.3 352.2l3.55 3.8 -3.55 3.8 -3.55 -3.8z"/>
<path d="M229.6 363.7l3.55 3.8 -3.55 3.8 -3.55 -3.8z"/>
<path d="M222.2 350.6l3.55 3.8 -3.55 3.8 -3.55 -3.8z"/>
<path d="M215.7 362.5l3.55 3.8 -3.55 3.8 -3.55 -3.8z"/>
<path d="M224.3 348.7l3.55 3.8 -3.55 3.8 -3.55 -3.8z"/>
<path d="M217.1 361.3l3.55 3.8 -3.55 3.8 -3.55 -3.8z"/>
<path d="M222.8 369.2l3.55 3.8 -3.55 3.8 -3.55 -3.8z"/>
<path d="M224.7 333.3l3.55 3.8 -3.55 3.8 -3.55 -3.8z"/>
<path d="M230.9 357.0l3.55 3.8 -3.55 3.8 -3.55 -3.8z"/>
<path d="M219.6 371.4l3.55 3.8 -3.55 3.8 -3.55 -3.8z"/>
<path d="M229.7 354.8l3.55 3.8 -3.55 3.8 -3.55 -3.8z"/>
<path d="M233.6 374.7l3.55 3.8 -3.55 3.8 -3.55 -3.8z"/>
<path d="M246.9 373.9l3.55 3.8 -3.55 3.8 -3.55 -3.8z"/>
<path d="M218.3 361.2l3.55 3.8 -3.55 3.8 -3.55 -3.8z"/>
<path d="M244.5 428.0l3.55 3.8 -3.55 3.8 -3.55 -3.8z"/>
<path d="M227.8 376.6l3.55 3.8 -3.55 3.8 -3.55 -3.8z"/>
<path d="M225.6 349.5l3.55 3.8 -3.55 3.8 -3.55 -3.8z"/>
<path d="M231.3 368.2l3.55 3.8 -3.55 3.8 -3.55 -3.8z"/>
<path d="M229.6 358.6l3.55 3.8 -3.55 3.8 -3.55 -3.8z"/>
<path d="M267.1 365.9l3.55 3.8 -3.55 3.8 -3.55 -3.8z"/>
<path d="M232.9 363.2l3.55 3.8 -3.55 3.8 -3.55 -3.8z"/>
<path d="M221.6 364.7l3.55 3.8 -3.55 3.8 -3.55 -3.8z"/>
<path d="M237.1 356.0l3.55 3.8 -3.55 3.8 -3.55 -3.8z"/>
<path d="M227.0 365.2l3.55 3.8 -3.55 3.8 -3.55 -3.8z"/>
<path d="M233.5 361.9l3.55 3.8 -3.55 3.8 -3.55 -3.8z"/>
<path d="M224.9 339.2l3.55 3.8 -3.55 3.8 -3.55 -3.8z"/>
<path d="M220.6 354.6l3.55 3.8 -3.55 3.8 -3.55 -3.8z"/>
<path d="M269.5 321.0l3.55 3.8 -3.55 3.8 -3.55 -3.8z"/>
<path d="M253.9 359.5l3.55 3.8 -3.55 3.8 -3.55 -3.8z"/>
<path d="M227.1 356.3l3.55 3.8 -3.55 3.8 -3.55 -3.8z"/>
<path d="M220.1 361.0l3.55 3.8 -3.55 3.8 -3.55 -3.8z"/>
<path d="M219.3 339.9l3.55 3.8 -3.55 3.8 -3.55 -3.8z"/>
<path d="M227.5 349.9l3.55 3.8 -3.55 3.8 -3.55 -3.8z"/>
<path d="M221.5 361.1l3.55 3.8 -3.55 3.8 -3.55 -3.8z"/>
<path d="M221.4 361.3l3.55 3.8 -3.55 3.8 -3.55 -3.8z"/>
<path d="M263.4 353.0l3.55 3.8 -3.55 3.8 -3.55 -3.8z"/>
<path d="M227.0 354.9l3.55 3.8 -3.55 3.8 -3.55 -3.8z"/>
<path d="M227.8 365.3l3.55 3.8 -3.55 3.8 -3.55 -3.8z"/>
<path d="M230.9 367.9l3.55 3.8 -3.55 3.8 -3.55 -3.8z"/>
<path d="M226.4 364.6l3.55 3.8 -3.55 3.8 -3.55 -3.8z"/>
<path d="M226.8 355.0l3.55 3.8 -3.55 3.8 -3.55 -3.8z"/>
<path d="M225.0 368.5l3.55 3.8 -3.55 3.8 -3.55 -3.8z"/>
<path d="M220.6 345.0l3.55 3.8 -3.55 3.8 -3.55 -3.8z"/>
<path d="M221.9 365.2l3.55 3.8 -3.55 3.8 -3.55 -3.8z"/>
<path d="M211.3 354.6l3.55 3.8 -3.55 3.8 -3.55 -3.8z"/>
<path d="M228.8 350.8l3.55 3.8 -3.55 3.8 -3.55 -3.8z"/>
<path d="M225.0 354.9l3.55 3.8 -3.55 3.8 -3.55 -3.8z"/>
<path d="M224.6 366.9l3.55 3.8 -3.55 3.8 -3.55 -3.8z"/>
<path d="M227.8 341.6l3.55 3.8 -3.55 3.8 -3.55 -3.8z"/>
</g>
<g fill="#55a868" stroke="#fff" stroke-width="0.45">
<path d="M281.8 376.4l1.22 1.32 1.22 -1.32 1.22 1.32 -1.22 1.32 1.22 1.32 -1.22 1.32 -1.22 -1.32 -1.22 1.32 -1.22 -1.32 1.22 -1.32 -1.22 -1.32z"/>
<path d="M281.4 349.4l1.22 1.32 1.22 -1.32 1.22 1.32 -1.22 1.32 1.22 1.32 -1.22 1.32 -1.22 -1.32 -1.22 1.32 -1.22 -1.32 1.22 -1.32 -1.22 -1.32z"/>
<path d="M262.7 343.5l1.22 1.32 1.22 -1.32 1.22 1.32 -1.22 1.32 1.22 1.32 -1.22 1.32 -1.22 -1.32 -1.22 1.32 -1.22 -1.32 1.22 -1.32 -1.22 -1.32z"/>
<path d="M268.3 343.5l1.22 1.32 1.22 -1.32 1.22 1.32 -1.22 1.32 1.22 1.32 -1.22 1.32 -1.22 -1.32 -1.22 1.32 -1.22 -1.32 1.22 -1.32 -1.22 -1.32z"/>
<path d="M279.4 338.9l1.22 1.32 1.22 -1.32 1.22 1.32 -1.22 1.32 1.22 1.32 -1.22 1.32 -1.22 -1.32 -1.22 1.32 -1.22 -1.32 1.22 -1.32 -1.22 -1.32z"/>
<path d="M291.5 304.6l1.22 1.32 1.22 -1.32 1.22 1.32 -1.22 1.32 1.22 1.32 -1.22 1.32 -1.22 -1.32 -1.22 1.32 -1.22 -1.32 1.22 -1.32 -1.22 -1.32z"/>
<path d="M280.3 359.3l1.22 1.32 1.22 -1.32 1.22 1.32 -1.22 1.32 1.22 1.32 -1.22 1.32 -1.22 -1.32 -1.22 1.32 -1.22 -1.32 1.22 -1.32 -1.22 -1.32z"/>
<path d="M298.6 325.2l1.22 1.32 1.22 -1.32 1.22 1.32 -1.22 1.32 1.22 1.32 -1.22 1.32 -1.22 -1.32 -1.22 1.32 -1.22 -1.32 1.22 -1.32 -1.22 -1.32z"/>
<path d="M277.4 324.6l1.22 1.32 1.22 -1.32 1.22 1.32 -1.22 1.32 1.22 1.32 -1.22 1.32 -1.22 -1.32 -1.22 1.32 -1.22 -1.32 1.22 -1.32 -1.22 -1.32z"/>
<path d="M284.0 326.8l1.22 1.32 1.22 -1.32 1.22 1.32 -1.22 1.32 1.22 1.32 -1.22 1.32 -1.22 -1.32 -1.22 1.32 -1.22 -1.32 1.22 -1.32 -1.22 -1.32z"/>
<path d="M283.1 353.7l1.22 1.32 1.22 -1.32 1.22 1.32 -1.22 1.32 1.22 1.32 -1.22 1.32 -1.22 -1.32 -1.22 1.32 -1.22 -1.32 1.22 -1.32 -1.22 -1.32z"/>
<path d="M289.6 345.4l1.22 1.32 1.22 -1.32 1.22 1.32 -1.22 1.32 1.22 1.32 -1.22 1.32 -1.22 -1.32 -1.22 1.32 -1.22 -1.32 1.22 -1.32 -1.22 -1.32z"/>
<path d="M293.3 344.8l1.22 1.32 1.22 -1.32 1.22 1.32 -1.22 1.32 1.22 1.32 -1.22 1.32 -1.22 -1.32 -1.22 1.32 -1.22 -1.32 1.22 -1.32 -1.22 -1.32z"/>
<path d="M296.4 321.5l1.22 1.32 1.22 -1.32 1.22 1.32 -1.22 1.32 1.22 1.32 -1.22 1.32 -1.22 -1.32 -1.22 1.32 -1.22 -1.32 1.22 -1.32 -1.22 -1.32z"/>
<path d="M303.5 312.9l1.22 1.32 1.22 -1.32 1.22 1.32 -1.22 1.32 1.22 1.32 -1.22 1.32 -1.22 -1.32 -1.22 1.32 -1.22 -1.32 1.22 -1.32 -1.22 -1.32z"/>
<path d="M302.6 340.8l1.22 1.32 1.22 -1.32 1.22 1.32 -1.22 1.32 1.22 1.32 -1.22 1.32 -1.22 -1.32 -1.22 1.32 -1.22 -1.32 1.22 -1.32 -1.22 -1.32z"/>
<path d="M285.4 336.9l1.22 1.32 1.22 -1.32 1.22 1.32 -1.22 1.32 1.22 1.32 -1.22 1.32 -1.22 -1.32 -1.22 1.32 -1.22 -1.32 1.22 -1.32 -1.22 -1.32z"/>
<path d="M276.6 358.4l1.22 1.32 1.22 -1.32 1.22 1.32 -1.22 1.32 1.22 1.32 -1.22 1.32 -1.22 -1.32 -1.22 1.32 -1.22 -1.32 1.22 -1.32 -1.22 -1.32z"/>
<path d="M282.2 308.8l1.22 1.32 1.22 -1.32 1.22 1.32 -1.22 1.32 1.22 1.32 -1.22 1.32 -1.22 -1.32 -1.22 1.32 -1.22 -1.32 1.22 -1.32 -1.22 -1.32z"/>
<path d="M281.0 354.2l1.22 1.32 1.22 -1.32 1.22 1.32 -1.22 1.32 1.22 1.32 -1.22 1.32 -1.22 -1.32 -1.22 1.32 -1.22 -1.32 1.22 -1.32 -1.22 -1.32z"/>
<path d="M280.3 312.9l1.22 1.32 1.22 -1.32 1.22 1.32 -1.22 1.32 1.22 1.32 -1.22 1.32 -1.22 -1.32 -1.22 1.32 -1.22 -1.32 1.22 -1.32 -1.22 -1.32z"/>
<path d="M270.4 348.9l1.22 1.32 1.22 -1.32 1.22 1.32 -1.22 1.32 1.22 1.32 -1.22 1.32 -1.22 -1.32 -1.22 1.32 -1.22 -1.32 1.22 -1.32 -1.22 -1.32z"/>
<path d="M313.4 308.3l1.22 1.32 1.22 -1.32 1.22 1.32 -1.22 1.32 1.22 1.32 -1.22 1.32 -1.22 -1.32 -1.22 1.32 -1.22 -1.32 1.22 -1.32 -1.22 -1.32z"/>
<path d="M314.7 326.3l1.22 1.32 1.22 -1.32 1.22 1.32 -1.22 1.32 1.22 1.32 -1.22 1.32 -1.22 -1.32 -1.22 1.32 -1.22 -1.32 1.22 -1.32 -1.22 -1.32z"/>
<path d="M282.2 349.1l1.22 1.32 1.22 -1.32 1.22 1.32 -1.22 1.32 1.22 1.32 -1.22 1.32 -1.22 -1.32 -1.22 1.32 -1.22 -1.32 1.22 -1.32 -1.22 -1.32z"/>
<path d="M276.8 340.6l1.22 1.32 1.22 -1.32 1.22 1.32 -1.22 1.32 1.22 1.32 -1.22 1.32 -1.22 -1.32 -1.22 1.32 -1.22 -1.32 1.22 -1.32 -1.22 -1.32z"/>
<path d="M298.0 326.8l1.22 1.32 1.22 -1.32 1.22 1.32 -1.22 1.32 1.22 1.32 -1.22 1.32 -1.22 -1.32 -1.22 1.32 -1.22 -1.32 1.22 -1.32 -1.22 -1.32z"/>
<path d="M299.8 314.4l1.22 1.32 1.22 -1.32 1.22 1.32 -1.22 1.32 1.22 1.32 -1.22 1.32 -1.22 -1.32 -1.22 1.32 -1.22 -1.32 1.22 -1.32 -1.22 -1.32z"/>
<path d="M269.2 338.0l1.22 1.32 1.22 -1.32 1.22 1.32 -1.22 1.32 1.22 1.32 -1.22 1.32 -1.22 -1.32 -1.22 1.32 -1.22 -1.32 1.22 -1.32 -1.22 -1.32z"/>
<path d="M296.7 346.0l1.22 1.32 1.22 -1.32 1.22 1.32 -1.22 1.32 1.22 1.32 -1.22 1.32 -1.22 -1.32 -1.22 1.32 -1.22 -1.32 1.22 -1.32 -1.22 -1.32z"/>
<path d="M267.1 343.2l1.22 1.32 1.22 -1.32 1.22 1.32 -1.22 1.32 1.22 1.32 -1.22 1.32 -1.22 -1.32 -1.22 1.32 -1.22 -1.32 1.22 -1.32 -1.22 -1.32z"/>
<path d="M284.9 331.2l1.22 1.32 1.22 -1.32 1.22 1.32 -1.22 1.32 1.22 1.32 -1.22 1.32 -1.22 -1.32 -1.22 1.32 -1.22 -1.32 1.22 -1.32 -1.22 -1.32z"/>
<path d="M276.9 383.4l1.22 1.32 1.22 -1.32 1.22 1.32 -1.22 1.32 1.22 1.32 -1.22 1.32 -1.22 -1.32 -1.22 1.32 -1.22 -1.32 1.22 -1.32 -1.22 -1.32z"/>
<path d="M302.1 329.9l1.22 1.32 1.22 -1.32 1.22 1.32 -1.22 1.32 1.22 1.32 -1.22 1.32 -1.22 -1.32 -1.22 1.32 -1.22 -1.32 1.22 -1.32 -1.22 -1.32z"/>
<path d="M325.2 318.9l1.22 1.32 1.22 -1.32 1.22 1.32 -1.22 1.32 1.22 1.32 -1.22 1.32 -1.22 -1.32 -1.22 1.32 -1.22 -1.32 1.22 -1.32 -1.22 -1.32z"/>
<path d="M286.8 330.5l1.22 1.32 1.22 -1.32 1.22 1.32 -1.22 1.32 1.22 1.32 -1.22 1.32 -1.22 -1.32 -1.22 1.32 -1.22 -1.32 1.22 -1.32 -1.22 -1.32z"/>
<path d="M273.6 346.3l1.22 1.32 1.22 -1.32 1.22 1.32 -1.22 1.32 1.22 1.32 -1.22 1.32 -1.22 -1.32 -1.22 1.32 -1.22 -1.32 1.22 -1.32 -1.22 -1.32z"/>
<path d="M283.2 334.3l1.22 1.32 1.22 -1.32 1.22 1.32 -1.22 1.32 1.22 1.32 -1.22 1.32 -1.22 -1.32 -1.22 1.32 -1.22 -1.32 1.22 -1.32 -1.22 -1.32z"/>
<path d="M271.0 358.4l1.22 1.32 1.22 -1.32 1.22 1.32 -1.22 1.32 1.22 1.32 -1.22 1.32 -1.22 -1.32 -1.22 1.32 -1.22 -1.32 1.22 -1.32 -1.22 -1.32z"/>
<path d="M267.5 403.0l1.22 1.32 1.22 -1.32 1.22 1.32 -1.22 1.32 1.22 1.32 -1.22 1.32 -1.22 -1.32 -1.22 1.32 -1.22 -1.32 1.22 -1.32 -1.22 -1.32z"/>
<path d="M280.9 329.1l1.22 1.32 1.22 -1.32 1.22 1.32 -1.22 1.32 1.22 1.32 -1.22 1.32 -1.22 -1.32 -1.22 1.32 -1.22 -1.32 1.22 -1.32 -1.22 -1.32z"/>
<path d="M282.0 376.8l1.22 1.32 1.22 -1.32 1.22 1.32 -1.22 1.32 1.22 1.32 -1.22 1.32 -1.22 -1.32 -1.22 1.32 -1.22 -1.32 1.22 -1.32 -1.22 -1.32z"/>
<path d="M288.7 325.0l1.22 1.32 1.22 -1.32 1.22 1.32 -1.22 1.32 1.22 1.32 -1.22 1.32 -1.22 -1.32 -1.22 1.32 -1.22 -1.32 1.22 -1.32 -1.22 -1.32z"/>
<path d="M283.1 363.9l1.22 1.32 1.22 -1.32 1.22 1.32 -1.22 1.32 1.22 1.32 -1.22 1.32 -1.22 -1.32 -1.22 1.32 -1.22 -1.32 1.22 -1.32 -1.22 -1.32z"/>
<path d="M278.5 343.5l1.22 1.32 1.22 -1.32 1.22 1.32 -1.22 1.32 1.22 1.32 -1.22 1.32 -1.22 -1.32 -1.22 1.32 -1.22 -1.32 1.22 -1.32 -1.22 -1.32z"/>
<path d="M293.3 327.8l1.22 1.32 1.22 -1.32 1.22 1.32 -1.22 1.32 1.22 1.32 -1.22 1.32 -1.22 -1.32 -1.22 1.32 -1.22 -1.32 1.22 -1.32 -1.22 -1.32z"/>
<path d="M288.7 338.9l1.22 1.32 1.22 -1.32 1.22 1.32 -1.22 1.32 1.22 1.32 -1.22 1.32 -1.22 -1.32 -1.22 1.32 -1.22 -1.32 1.22 -1.32 -1.22 -1.32z"/>
<path d="M272.9 331.5l1.22 1.32 1.22 -1.32 1.22 1.32 -1.22 1.32 1.22 1.32 -1.22 1.32 -1.22 -1.32 -1.22 1.32 -1.22 -1.32 1.22 -1.32 -1.22 -1.32z"/>
<path d="M288.7 319.4l1.22 1.32 1.22 -1.32 1.22 1.32 -1.22 1.32 1.22 1.32 -1.22 1.32 -1.22 -1.32 -1.22 1.32 -1.22 -1.32 1.22 -1.32 -1.22 -1.32z"/>
<path d="M272.9 342.6l1.22 1.32 1.22 -1.32 1.22 1.32 -1.22 1.32 1.22 1.32 -1.22 1.32 -1.22 -1.32 -1.22 1.32 -1.22 -1.32 1.22 -1.32 -1.22 -1.32z"/>
<path d="M276.6 349.1l1.22 1.32 1.22 -1.32 1.22 1.32 -1.22 1.32 1.22 1.32 -1.22 1.32 -1.22 -1.32 -1.22 1.32 -1.22 -1.32 1.22 -1.32 -1.22 -1.32z"/>
<path d="M275.7 364.9l1.22 1.32 1.22 -1.32 1.22 1.32 -1.22 1.32 1.22 1.32 -1.22 1.32 -1.22 -1.32 -1.22 1.32 -1.22 -1.32 1.22 -1.32 -1.22 -1.32z"/>
<path d="M298.9 306.4l1.22 1.32 1.22 -1.32 1.22 1.32 -1.22 1.32 1.22 1.32 -1.22 1.32 -1.22 -1.32 -1.22 1.32 -1.22 -1.32 1.22 -1.32 -1.22 -1.32z"/>
<path d="M278.5 353.7l1.22 1.32 1.22 -1.32 1.22 1.32 -1.22 1.32 1.22 1.32 -1.22 1.32 -1.22 -1.32 -1.22 1.32 -1.22 -1.32 1.22 -1.32 -1.22 -1.32z"/>
<path d="M255.3 340.8l1.22 1.32 1.22 -1.32 1.22 1.32 -1.22 1.32 1.22 1.32 -1.22 1.32 -1.22 -1.32 -1.22 1.32 -1.22 -1.32 1.22 -1.32 -1.22 -1.32z"/>
<path d="M281.9 327.8l1.22 1.32 1.22 -1.32 1.22 1.32 -1.22 1.32 1.22 1.32 -1.22 1.32 -1.22 -1.32 -1.22 1.32 -1.22 -1.32 1.22 -1.32 -1.22 -1.32z"/>
<path d="M271.0 348.2l1.22 1.32 1.22 -1.32 1.22 1.32 -1.22 1.32 1.22 1.32 -1.22 1.32 -1.22 -1.32 -1.22 1.32 -1.22 -1.32 1.22 -1.32 -1.22 -1.32z"/>
<path d="M290.1 342.9l1.22 1.32 1.22 -1.32 1.22 1.32 -1.22 1.32 1.22 1.32 -1.22 1.32 -1.22 -1.32 -1.22 1.32 -1.22 -1.32 1.22 -1.32 -1.22 -1.32z"/>
<path d="M285.9 309.6l1.22 1.32 1.22 -1.32 1.22 1.32 -1.22 1.32 1.22 1.32 -1.22 1.32 -1.22 -1.32 -1.22 1.32 -1.22 -1.32 1.22 -1.32 -1.22 -1.32z"/>
<path d="M277.5 331.5l1.22 1.32 1.22 -1.32 1.22 1.32 -1.22 1.32 1.22 1.32 -1.22 1.32 -1.22 -1.32 -1.22 1.32 -1.22 -1.32 1.22 -1.32 -1.22 -1.32z"/>
<path d="M276.6 382.5l1.22 1.32 1.22 -1.32 1.22 1.32 -1.22 1.32 1.22 1.32 -1.22 1.32 -1.22 -1.32 -1.22 1.32 -1.22 -1.32 1.22 -1.32 -1.22 -1.32z"/>
<path d="M303.5 321.3l1.22 1.32 1.22 -1.32 1.22 1.32 -1.22 1.32 1.22 1.32 -1.22 1.32 -1.22 -1.32 -1.22 1.32 -1.22 -1.32 1.22 -1.32 -1.22 -1.32z"/>
<path d="M301.7 303.3l1.22 1.32 1.22 -1.32 1.22 1.32 -1.22 1.32 1.22 1.32 -1.22 1.32 -1.22 -1.32 -1.22 1.32 -1.22 -1.32 1.22 -1.32 -1.22 -1.32z"/>
<path d="M284.0 343.5l1.22 1.32 1.22 -1.32 1.22 1.32 -1.22 1.32 1.22 1.32 -1.22 1.32 -1.22 -1.32 -1.22 1.32 -1.22 -1.32 1.22 -1.32 -1.22 -1.32z"/>
<path d="M284.2 353.9l1.22 1.32 1.22 -1.32 1.22 1.32 -1.22 1.32 1.22 1.32 -1.22 1.32 -1.22 -1.32 -1.22 1.32 -1.22 -1.32 1.22 -1.32 -1.22 -1.32z"/>
<path d="M267.3 351.9l1.22 1.32 1.22 -1.32 1.22 1.32 -1.22 1.32 1.22 1.32 -1.22 1.32 -1.22 -1.32 -1.22 1.32 -1.22 -1.32 1.22 -1.32 -1.22 -1.32z"/>
<path d="M276.6 330.3l1.22 1.32 1.22 -1.32 1.22 1.32 -1.22 1.32 1.22 1.32 -1.22 1.32 -1.22 -1.32 -1.22 1.32 -1.22 -1.32 1.22 -1.32 -1.22 -1.32z"/>
<path d="M308.2 308.8l1.22 1.32 1.22 -1.32 1.22 1.32 -1.22 1.32 1.22 1.32 -1.22 1.32 -1.22 -1.32 -1.22 1.32 -1.22 -1.32 1.22 -1.32 -1.22 -1.32z"/>
<path d="M289.1 327.8l1.22 1.32 1.22 -1.32 1.22 1.32 -1.22 1.32 1.22 1.32 -1.22 1.32 -1.22 -1.32 -1.22 1.32 -1.22 -1.32 1.22 -1.32 -1.22 -1.32z"/>
<path d="M286.9 319.6l1.22 1.32 1.22 -1.32 1.22 1.32 -1.22 1.32 1.22 1.32 -1.22 1.32 -1.22 -1.32 -1.22 1.32 -1.22 -1.32 1.22 -1.32 -1.22 -1.32z"/>
<path d="M274.8 336.1l1.22 1.32 1.22 -1.32 1.22 1.32 -1.22 1.32 1.22 1.32 -1.22 1.32 -1.22 -1.32 -1.22 1.32 -1.22 -1.32 1.22 -1.32 -1.22 -1.32z"/>
<path d="M292.4 338.0l1.22 1.32 1.22 -1.32 1.22 1.32 -1.22 1.32 1.22 1.32 -1.22 1.32 -1.22 -1.32 -1.22 1.32 -1.22 -1.32 1.22 -1.32 -1.22 -1.32z"/>
<path d="M272.9 352.8l1.22 1.32 1.22 -1.32 1.22 1.32 -1.22 1.32 1.22 1.32 -1.22 1.32 -1.22 -1.32 -1.22 1.32 -1.22 -1.32 1.22 -1.32 -1.22 -1.32z"/>
<path d="M317.8 317.6l1.22 1.32 1.22 -1.32 1.22 1.32 -1.22 1.32 1.22 1.32 -1.22 1.32 -1.22 -1.32 -1.22 1.32 -1.22 -1.32 1.22 -1.32 -1.22 -1.32z"/>
<path d="M294.3 347.9l1.22 1.32 1.22 -1.32 1.22 1.32 -1.22 1.32 1.22 1.32 -1.22 1.32 -1.22 -1.32 -1.22 1.32 -1.22 -1.32 1.22 -1.32 -1.22 -1.32z"/>
<path d="M281.1 337.2l1.22 1.32 1.22 -1.32 1.22 1.32 -1.22 1.32 1.22 1.32 -1.22 1.32 -1.22 -1.32 -1.22 1.32 -1.22 -1.32 1.22 -1.32 -1.22 -1.32z"/>
<path d="M284.6 328.9l1.22 1.32 1.22 -1.32 1.22 1.32 -1.22 1.32 1.22 1.32 -1.22 1.32 -1.22 -1.32 -1.22 1.32 -1.22 -1.32 1.22 -1.32 -1.22 -1.32z"/>
<path d="M283.7 355.5l1.22 1.32 1.22 -1.32 1.22 1.32 -1.22 1.32 1.22 1.32 -1.22 1.32 -1.22 -1.32 -1.22 1.32 -1.22 -1.32 1.22 -1.32 -1.22 -1.32z"/>
<path d="M279.2 335.7l1.22 1.32 1.22 -1.32 1.22 1.32 -1.22 1.32 1.22 1.32 -1.22 1.32 -1.22 -1.32 -1.22 1.32 -1.22 -1.32 1.22 -1.32 -1.22 -1.32z"/>
<path d="M277.2 364.0l1.22 1.32 1.22 -1.32 1.22 1.32 -1.22 1.32 1.22 1.32 -1.22 1.32 -1.22 -1.32 -1.22 1.32 -1.22 -1.32 1.22 -1.32 -1.22 -1.32z"/>
<path d="M295.1 345.0l1.22 1.32 1.22 -1.32 1.22 1.32 -1.22 1.32 1.22 1.32 -1.22 1.32 -1.22 -1.32 -1.22 1.32 -1.22 -1.32 1.22 -1.32 -1.22 -1.32z"/>
<path d="M291.5 331.5l1.22 1.32 1.22 -1.32 1.22 1.32 -1.22 1.32 1.22 1.32 -1.22 1.32 -1.22 -1.32 -1.22 1.32 -1.22 -1.32 1.22 -1.32 -1.22 -1.32z"/>
<path d="M296.0 320.7l1.22 1.32 1.22 -1.32 1.22 1.32 -1.22 1.32 1.22 1.32 -1.22 1.32 -1.22 -1.32 -1.22 1.32 -1.22 -1.32 1.22 -1.32 -1.22 -1.32z"/>
<path d="M282.8 332.3l1.22 1.32 1.22 -1.32 1.22 1.32 -1.22 1.32 1.22 1.32 -1.22 1.32 -1.22 -1.32 -1.22 1.32 -1.22 -1.32 1.22 -1.32 -1.22 -1.32z"/>
<path d="M302.6 324.1l1.22 1.32 1.22 -1.32 1.22 1.32 -1.22 1.32 1.22 1.32 -1.22 1.32 -1.22 -1.32 -1.22 1.32 -1.22 -1.32 1.22 -1.32 -1.22 -1.32z"/>
<path d="M294.2 320.3l1.22 1.32 1.22 -1.32 1.22 1.32 -1.22 1.32 1.22 1.32 -1.22 1.32 -1.22 -1.32 -1.22 1.32 -1.22 -1.32 1.22 -1.32 -1.22 -1.32z"/>
<path d="M280.1 316.9l1.22 1.32 1.22 -1.32 1.22 1.32 -1.22 1.32 1.22 1.32 -1.22 1.32 -1.22 -1.32 -1.22 1.32 -1.22 -1.32 1.22 -1.32 -1.22 -1.32z"/>
<path d="M275.9 349.3l1.22 1.32 1.22 -1.32 1.22 1.32 -1.22 1.32 1.22 1.32 -1.22 1.32 -1.22 -1.32 -1.22 1.32 -1.22 -1.32 1.22 -1.32 -1.22 -1.32z"/>
<path d="M284.0 338.0l1.22 1.32 1.22 -1.32 1.22 1.32 -1.22 1.32 1.22 1.32 -1.22 1.32 -1.22 -1.32 -1.22 1.32 -1.22 -1.32 1.22 -1.32 -1.22 -1.32z"/>
<path d="M286.8 315.1l1.22 1.32 1.22 -1.32 1.22 1.32 -1.22 1.32 1.22 1.32 -1.22 1.32 -1.22 -1.32 -1.22 1.32 -1.22 -1.32 1.22 -1.32 -1.22 -1.32z"/>
<path d="M279.3 355.8l1.22 1.32 1.22 -1.32 1.22 1.32 -1.22 1.32 1.22 1.32 -1.22 1.32 -1.22 -1.32 -1.22 1.32 -1.22 -1.32 1.22 -1.32 -1.22 -1.32z"/>
<path d="M268.6 340.7l1.22 1.32 1.22 -1.32 1.22 1.32 -1.22 1.32 1.22 1.32 -1.22 1.32 -1.22 -1.32 -1.22 1.32 -1.22 -1.32 1.22 -1.32 -1.22 -1.32z"/>
<path d="M274.5 339.3l1.22 1.32 1.22 -1.32 1.22 1.32 -1.22 1.32 1.22 1.32 -1.22 1.32 -1.22 -1.32 -1.22 1.32 -1.22 -1.32 1.22 -1.32 -1.22 -1.32z"/>
<path d="M281.4 342.6l1.22 1.32 1.22 -1.32 1.22 1.32 -1.22 1.32 1.22 1.32 -1.22 1.32 -1.22 -1.32 -1.22 1.32 -1.22 -1.32 1.22 -1.32 -1.22 -1.32z"/>
<path d="M278.5 324.1l1.22 1.32 1.22 -1.32 1.22 1.32 -1.22 1.32 1.22 1.32 -1.22 1.32 -1.22 -1.32 -1.22 1.32 -1.22 -1.32 1.22 -1.32 -1.22 -1.32z"/>
<path d="M276.4 393.4l1.22 1.32 1.22 -1.32 1.22 1.32 -1.22 1.32 1.22 1.32 -1.22 1.32 -1.22 -1.32 -1.22 1.32 -1.22 -1.32 1.22 -1.32 -1.22 -1.32z"/>
<path d="M298.9 319.4l1.22 1.32 1.22 -1.32 1.22 1.32 -1.22 1.32 1.22 1.32 -1.22 1.32 -1.22 -1.32 -1.22 1.32 -1.22 -1.32 1.22 -1.32 -1.22 -1.32z"/>
<path d="M270.6 356.2l1.22 1.32 1.22 -1.32 1.22 1.32 -1.22 1.32 1.22 1.32 -1.22 1.32 -1.22 -1.32 -1.22 1.32 -1.22 -1.32 1.22 -1.32 -1.22 -1.32z"/>
<path d="M270.1 363.9l1.22 1.32 1.22 -1.32 1.22 1.32 -1.22 1.32 1.22 1.32 -1.22 1.32 -1.22 -1.32 -1.22 1.32 -1.22 -1.32 1.22 -1.32 -1.22 -1.32z"/>
<path d="M282.2 331.5l1.22 1.32 1.22 -1.32 1.22 1.32 -1.22 1.32 1.22 1.32 -1.22 1.32 -1.22 -1.32 -1.22 1.32 -1.22 -1.32 1.22 -1.32 -1.22 -1.32z"/>
</g>
<g fill="#4c72b0" stroke="#fff" stroke-width="0.45">
<ellipse cx="267.3" cy="57.2" rx="2.6" ry="2.78"/>
<ellipse cx="277.1" cy="59.4" rx="2.6" ry="2.78"/>
<ellipse cx="275.3" cy="69.3" rx="2.6" ry="2.78"/>
<ellipse cx="274.6" cy="69.8" rx="2.6" ry="2.78"/>
<ellipse cx="280.9" cy="53.2" rx="2.6" ry="2.78"/>
<ellipse cx="268.1" cy="64.7" rx="2.6" ry="2.78"/>
<ellipse cx="273.7" cy="55.6" rx="2.6" ry="2.78"/>
<ellipse cx="268.6" cy="62.2" rx="2.6" ry="2.78"/>
<ellipse cx="261.3" cy="61.5" rx="2.6" ry="2.78"/>
<ellipse cx="269.0" cy="52.7" rx="2.6" ry="2.78"/>
<ellipse cx="281.8" cy="59.8" rx="2.6" ry="2.78"/>
<ellipse cx="264.7" cy="66.3" rx="2.6" ry="2.78"/>
<ellipse cx="257.1" cy="60.2" rx="2.6" ry="2.78"/>
<ellipse cx="273.5" cy="48.9" rx="2.6" ry="2.78"/>
<ellipse cx="262.2" cy="63.4" rx="2.6" ry="2.78"/>
<ellipse cx="270.8" cy="65.1" rx="2.6" ry="2.78"/>
<ellipse cx="280.4" cy="56.4" rx="2.6" ry="2.78"/>
<ellipse cx="264.0" cy="59.8" rx="2.6" ry="2.78"/>
<ellipse cx="267.1" cy="65.0" rx="2.6" ry="2.78"/>
<ellipse cx="275.0" cy="61.7" rx="2.6" ry="2.78"/>
<ellipse cx="267.1" cy="64.9" rx="2.6" ry="2.78"/>
<ellipse cx="271.7" cy="65.0" rx="2.6" ry="2.78"/>
<ellipse cx="274.1" cy="65.8" rx="2.6" ry="2.78"/>
<ellipse cx="264.3" cy="61.1" rx="2.6" ry="2.78"/>
<ellipse cx="271.1" cy="67.8" rx="2.6" ry="2.78"/>
<ellipse cx="262.7" cy="67.1" rx="2.6" ry="2.78"/>
<ellipse cx="276.0" cy="69.4" rx="2.6" ry="2.78"/>
<ellipse cx="281.3" cy="57.9" rx="2.6" ry="2.78"/>
<ellipse cx="272.0" cy="60.7" rx="2.6" ry="2.78"/>
<ellipse cx="278.7" cy="56.7" rx="2.6" ry="2.78"/>
<ellipse cx="281.0" cy="56.5" rx="2.6" ry="2.78"/>
<ellipse cx="269.9" cy="52.9" rx="2.6" ry="2.78"/>
<ellipse cx="276.2" cy="69.0" rx="2.6" ry="2.78"/>
<ellipse cx="278.6" cy="56.5" rx="2.6" ry="2.78"/>
<ellipse cx="271.9" cy="62.6" rx="2.6" ry="2.78"/>
<ellipse cx="275.3" cy="64.1" rx="2.6" ry="2.78"/>
<ellipse cx="282.2" cy="54.4" rx="2.6" ry="2.78"/>
<ellipse cx="264.9" cy="67.3" rx="2.6" ry="2.78"/>
<ellipse cx="280.1" cy="57.2" rx="2.6" ry="2.78"/>
<ellipse cx="275.0" cy="52.4" rx="2.6" ry="2.78"/>
<ellipse cx="273.3" cy="72.8" rx="2.6" ry="2.78"/>
<ellipse cx="285.2" cy="67.3" rx="2.6" ry="2.78"/>
<ellipse cx="275.8" cy="49.5" rx="2.6" ry="2.78"/>
<ellipse cx="280.8" cy="48.1" rx="2.6" ry="2.78"/>
<ellipse cx="269.9" cy="67.1" rx="2.6" ry="2.78"/>
<ellipse cx="273.0" cy="49.7" rx="2.6" ry="2.78"/>
<ellipse cx="279.6" cy="59.2" rx="2.6" ry="2.78"/>
<ellipse cx="276.0" cy="69.3" rx="2.6" ry="2.78"/>
<ellipse cx="268.6" cy="60.3" rx="2.6" ry="2.78"/>
<ellipse cx="265.1" cy="63.8" rx="2.6" ry="2.78"/>
<ellipse cx="275.5" cy="65.3" rx="2.6" ry="2.78"/>
<ellipse cx="283.8" cy="60.8" rx="2.6" ry="2.78"/>
<ellipse cx="282.1" cy="54.4" rx="2.6" ry="2.78"/>
<ellipse cx="271.1" cy="56.9" rx="2.6" ry="2.78"/>
<ellipse cx="279.7" cy="51.6" rx="2.6" ry="2.78"/>
<ellipse cx="264.7" cy="68.5" rx="2.6" ry="2.78"/>
<ellipse cx="267.8" cy="56.4" rx="2.6" ry="2.78"/>
<ellipse cx="278.5" cy="56.6" rx="2.6" ry="2.78"/>
<ellipse cx="278.4" cy="59.4" rx="2.6" ry="2.78"/>
<ellipse cx="259.8" cy="59.8" rx="2.6" ry="2.78"/>
<ellipse cx="275.0" cy="53.4" rx="2.6" ry="2.78"/>
<ellipse cx="265.2" cy="50.1" rx="2.6" ry="2.78"/>
<ellipse cx="259.7" cy="61.6" rx="2.6" ry="2.78"/>
<ellipse cx="275.2" cy="52.4" rx="2.6" ry="2.78"/>
<ellipse cx="263.9" cy="60.7" rx="2.6" ry="2.78"/>
<ellipse cx="268.9" cy="54.9" rx="2.6" ry="2.78"/>
<ellipse cx="261.7" cy="65.3" rx="2.6" ry="2.78"/>
<ellipse cx="265.4" cy="62.9" rx="2.6" ry="2.78"/>
<ellipse cx="265.3" cy="59.0" rx="2.6" ry="2.78"/>
<ellipse cx="262.2" cy="67.8" rx="2.6" ry="2.78"/>
<ellipse cx="272.0" cy="55.5" rx="2.6" ry="2.78"/>
<ellipse cx="275.5" cy="57.1" rx="2.6" ry="2.78"/>
<ellipse cx="280.5" cy="54.0" rx="2.6" ry="2.78"/>
<ellipse cx="274.8" cy="56.1" rx="2.6" ry="2.78"/>
<ellipse cx="280.7" cy="52.9" rx="2.6" ry="2.78"/>
<ellipse cx="277.5" cy="58.2" rx="2.6" ry="2.78"/>
<ellipse cx="276.2" cy="54.7" rx="2.6" ry="2.78"/>
<ellipse cx="272.2" cy="50.1" rx="2.6" ry="2.78"/>
<ellipse cx="265.4" cy="65.6" rx="2.6" ry="2.78"/>
<ellipse cx="280.3" cy="53.5" rx="2.6" ry="2.78"/>
<ellipse cx="278.7" cy="54.5" rx="2.6" ry="2.78"/>
<ellipse cx="278.1" cy="61.7" rx="2.6" ry="2.78"/>
<ellipse cx="268.6" cy="52.4" rx="2.6" ry="2.78"/>
<ellipse cx="270.4" cy="53.4" rx="2.6" ry="2.78"/>
<ellipse cx="283.7" cy="58.5" rx="2.6" ry="2.78"/>
<ellipse cx="260.9" cy="62.7" rx="2.6" ry="2.78"/>
<ellipse cx="271.9" cy="66.9" rx="2.6" ry="2.78"/>
<ellipse cx="271.3" cy="54.4" rx="2.6" ry="2.78"/>
<ellipse cx="276.1" cy="58.0" rx="2.6" ry="2.78"/>
<ellipse cx="277.3" cy="60.9" rx="2.6" ry="2.78"/>
<ellipse cx="269.3" cy="58.4" rx="2.6" ry="2.78"/>
<ellipse cx="265.9" cy="61.4" rx="2.6" ry="2.78"/>
<ellipse cx="267.7" cy="56.0" rx="2.6" ry="2.78"/>
<ellipse cx="275.1" cy="50.6" rx="2.6" ry="2.78"/>
<ellipse cx="270.6" cy="60.6" rx="2.6" ry="2.78"/>
<ellipse cx="275.9" cy="65.3" rx="2.6" ry="2.78"/>
<ellipse cx="271.9" cy="61.4" rx="2.6" ry="2.78"/>
<ellipse cx="281.3" cy="54.2" rx="2.6" ry="2.78"/>
<ellipse cx="270.2" cy="60.1" rx="2.6" ry="2.78"/>
<ellipse cx="264.1" cy="59.4" rx="2.6" ry="2.78"/>
</g>
<g fill="#dd8452" stroke="#fff" stroke-width="0.45">
<path d="M230.5 13.2l3.55 3.8 -3.55 3.8 -3.55 -3.8z"/>
<path d="M230.8 14.3l3.55 3.8 -3.55 3.8 -3.55 -3.8z"/>
<path d="M233.9 12.6l3.55 3.8 -3.55 3.8 -3.55 -3.8z"/>
<path d="M239.3 7.8l3.55 3.8 -3.55 3.8 -3.55 -3.8z"/>
<path d="M229.3 13.7l3.55 3.8 -3.55 3.8 -3.55 -3.8z"/>
<path d="M228.4 13.4l3.55 3.8 -3.55 3.8 -3.55 -3.8z"/>
<path d="M223.1 11.9l3.55 3.8 -3.55 3.8 -3.55 -3.8z"/>
<path d="M227.3 9.8l3.55 3.8 -3.55 3.8 -3.55 -3.8z"/>
<path d="M227.9 13.3l3.55 3.8 -3.55 3.8 -3.55 -3.8z"/>
<path d="M226.8 16.6l3.55 3.8 -3.55 3.8 -3.55 -3.8z"/>
<path d="M222.7 14.8l3.55 3.8 -3.55 3.8 -3.55 -3.8z"/>
<path d="M212.9 11.9l3.55 3.8 -3.55 3.8 -3.55 -3.8z"/>
<path d="M228.7 13.2l3.55 3.8 -3.55 3.8 -3.55 -3.8z"/>
<path d="M238.7 8.4l3.55 3.8 -3.55 3.8 -3.55 -3.8z"/>
<path d="M237.2 8.4l3.55 3.8 -3.55 3.8 -3.55 -3.8z"/>
<path d="M272.5 8.9l3.55 3.8 -3.55 3.8 -3.55 -3.8z"/>
<path d="M227.3 15.3l3.55 3.8 -3.55 3.8 -3.55 -3.8z"/>
<path d="M217.5 15.3l3.55 3.8 -3.55 3.8 -3.55 -3.8z"/>
<path d="M223.0 15.1l3.55 3.8 -3.55 3.8 -3.55 -3.8z"/>
<path d="M237.7 15.2l3.55 3.8 -3.55 3.8 -3.55 -3.8z"/>
<path d="M235.1 13.9l3.55 3.8 -3.55 3.8 -3.55 -3.8z"/>
<path d="M247.1 9.6l3.55 3.8 -3.55 3.8 -3.55 -3.8z"/>
<path d="M238.7 15.8l3.55 3.8 -3.55 3.8 -3.55 -3.8z"/>
<path d="M219.9 13.1l3.55 3.8 -3.55 3.8 -3.55 -3.8z"/>
<path d="M286.0 11.9l3.55 3.8 -3.55 3.8 -3.55 -3.8z"/>
<path d="M229.3 9.9l3.55 3.8 -3.55 3.8 -3.55 -3.8z"/>
<path d="M226.9 11.8l3.55 3.8 -3.55 3.8 -3.55 -3.8z"/>
<path d="M225.6 13.1l3.55 3.8 -3.55 3.8 -3.55 -3.8z"/>
<path d="M230.8 10.0l3.55 3.8 -3.55 3.8 -3.55 -3.8z"/>
<path d="M223.8 18.5l3.55 3.8 -3.55 3.8 -3.55 -3.8z"/>
<path d="M226.5 7.8l3.55 3.8 -3.55 3.8 -3.55 -3.8z"/>
<path d="M232.6 17.6l3.55 3.8 -3.55 3.8 -3.55 -3.8z"/>
<path d="M230.2 14.3l3.55 3.8 -3.55 3.8 -3.55 -3.8z"/>
<path d="M226.4 9.2l3.55 3.8 -3.55 3.8 -3.55 -3.8z"/>
<path d="M263.0 13.1l3.55 3.8 -3.55 3.8 -3.55 -3.8z"/>
<path d="M231.4 13.8l3.55 3.8 -3.55 3.8 -3.55 -3.8z"/>
<path d="M231.2 14.8l3.55 3.8 -3.55 3.8 -3.55 -3.8z"/>
<path d="M244.7 13.6l3.55 3.8 -3.55 3.8 -3.55 -3.8z"/>
<path d="M222.0 12.5l3.55 3.8 -3.55 3.8 -3.55 -3.8z"/>
<path d="M237.3 13.8l3.55 3.8 -3.55 3.8 -3.55 -3.8z"/>
<path d="M227.4 13.1l3.55 3.8 -3.55 3.8 -3.55 -3.8z"/>
<path d="M222.6 12.8l3.55 3.8 -3.55 3.8 -3.55 -3.8z"/>
<path d="M231.4 10.8l3.55 3.8 -3.55 3.8 -3.55 -3.8z"/>
<path d="M225.9 14.0l3.55 3.8 -3.55 3.8 -3.55 -3.8z"/>
<path d="M228.7 11.9l3.55 3.8 -3.55 3.8 -3.55 -3.8z"/>
<path d="M230.1 10.7l3.55 3.8 -3.55 3.8 -3.55 -3.8z"/>
<path d="M223.8 15.5l3.55 3.8 -3.55 3.8 -3.55 -3.8z"/>
<path d="M231.6 13.2l3.55 3.8 -3.55 3.8 -3.55 -3.8z"/>
<path d="M255.6 13.1l3.55 3.8 -3.55 3.8 -3.55 -3.8z"/>
<path d="M226.1 13.0l3.55 3.8 -3.55 3.8 -3.55 -3.8z"/>
<path d="M267.5 13.1l3.55 3.8 -3.55 3.8 -3.55 -3.8z"/>
<path d="M226.8 11.9l3.55 3.8 -3.55 3.8 -3.55 -3.8z"/>
<path d="M230.6 16.6l3.55 3.8 -3.55 3.8 -3.55 -3.8z"/>
<path d="M228.3 10.0l3.55 3.8 -3.55 3.8 -3.55 -3.8z"/>
<path d="M224.4 14.2l3.55 3.8 -3.55 3.8 -3.55 -3.8z"/>
<path d="M232.5 14.9l3.55 3.8 -3.55 3.8 -3.55 -3.8z"/>
<path d="M227.8 20.2l3.55 3.8 -3.55 3.8 -3.55 -3.8z"/>
<path d="M235.7 15.5l3.55 3.8 -3.55 3.8 -3.55 -3.8z"/>
<path d="M248.7 11.9l3.55 3.8 -3.55 3.8 -3.55 -3.8z"/>
<path d="M224.9 7.7l3.55 3.8 -3.55 3.8 -3.55 -3.8z"/>
<path d="M231.8 19.0l3.55 3.8 -3.55 3.8 -3.55 -3.8z"/>
<path d="M232.9 11.1l3.55 3.8 -3.55 3.8 -3.55 -3.8z"/>
<path d="M239.3 8.0l3.55 3.8 -3.55 3.8 -3.55 -3.8z"/>
<path d="M220.3 14.0l3.55 3.8 -3.55 3.8 -3.55 -3.8z"/>
<path d="M229.6 14.7l3.55 3.8 -3.55 3.8 -3.55 -3.8z"/>
<path d="M269.5 10.3l3.55 3.8 -3.55 3.8 -3.55 -3.8z"/>
<path d="M228.2 12.2l3.55 3.8 -3.55 3.8 -3.55 -3.8z"/>
<path d="M227.7 19.9l3.55 3.8 -3.55 3.8 -3.55 -3.8z"/>
<path d="M219.9 8.9l3.55 3.8 -3.55 3.8 -3.55 -3.8z"/>
<path d="M225.9 15.8l3.55 3.8 -3.55 3.8 -3.55 -3.8z"/>
<path d="M234.8 10.8l3.55 3.8 -3.55 3.8 -3.55 -3.8z"/>
<path d="M229.0 13.9l3.55 3.8 -3.55 3.8 -3.55 -3.8z"/>
<path d="M224.4 15.7l3.55 3.8 -3.55 3.8 -3.55 -3.8z"/>
<path d="M222.6 16.4l3.55 3.8 -3.55 3.8 -3.55 -3.8z"/>
<path d="M224.4 16.5l3.55 3.8 -3.55 3.8 -3.55 -3.8z"/>
<path d="M224.4 13.4l3.55 3.8 -3.55 3.8 -3.55 -3.8z"/>
<path d="M261.6 8.9l3.55 3.8 -3.55 3.8 -3.55 -3.8z"/>
<path d="M229.8 8.4l3.55 3.8 -3.55 3.8 -3.55 -3.8z"/>
<path d="M223.0 15.2l3.55 3.8 -3.55 3.8 -3.55 -3.8z"/>
<path d="M274.1 10.3l3.55 3.8 -3.55 3.8 -3.55 -3.8z"/>
<path d="M223.3 13.5l3.55 3.8 -3.55 3.8 -3.55 -3.8z"/>
<path d="M228.3 17.0l3.55 3.8 -3.55 3.8 -3.55 -3.8z"/>
<path d="M236.8 7.4l3.55 3.8 -3.55 3.8 -3.55 -3.8z"/>
<path d="M224.9 11.6l3.55 3.8 -3.55 3.8 -3.55 -3.8z"/>
<path d="M228.1 13.3l3.55 3.8 -3.55 3.8 -3.55 -3.8z"/>
<path d="M211.3 10.3l3.55 3.8 -3.55 3.8 -3.55 -3.8z"/>
<path d="M238.2 14.1l3.55 3.8 -3.55 3.8 -3.55 -3.8z"/>
<path d="M229.7 16.1l3.55 3.8 -3.55 3.8 -3.55 -3.8z"/>
<path d="M225.8 7.3l3.55 3.8 -3.55 3.8 -3.55 -3.8z"/>
<path d="M234.7 16.2l3.55 3.8 -3.55 3.8 -3.55 -3.8z"/>
<path d="M228.4 13.4l3.55 3.8 -3.55 3.8 -3.55 -3.8z"/>
<path d="M229.8 13.5l3.55 3.8 -3.55 3.8 -3.55 -3.8z"/>
<path d="M223.2 8.8l3.55 3.8 -3.55 3.8 -3.55 -3.8z"/>
<path d="M223.6 12.6l3.55 3.8 -3.55 3.8 -3.55 -3.8z"/>
<path d="M222.8 10.8l3.55 3.8 -3.55 3.8 -3.55 -3.8z"/>
<path d="M232.0 11.2l3.55 3.8 -3.55 3.8 -3.55 -3.8z"/>
<path d="M228.3 12.7l3.55 3.8 -3.55 3.8 -3.55 -3.8z"/>
<path d="M224.1 12.9l3.55 3.8 -3.55 3.8 -3.55 -3.8z"/>
<path d="M228.0 9.6l3.55 3.8 -3.55 3.8 -3.55 -3.8z"/>
<path d="M225.7 13.0l3.55 3.8 -3.55 3.8 -3.55 -3.8z"/>
</g>
<g fill="#55a868" stroke="#fff" stroke-width="0.45">
<path d="M304.0 79.9l1.22 1.32 1.22 -1.32 1.22 1.32 -1.22 1.32 1.22 1.32 -1.22 1.32 -1.22 -1.32 -1.22 1.32 -1.22 -1.32 1.22 -1.32 -1.22 -1.32z"/>
<path d="M272.8 108.1l1.22 1.32 1.22 -1.32 1.22 1.32 -1.22 1.32 1.22 1.32 -1.22 1.32 -1.22 -1.32 -1.22 1.32 -1.22 -1.32 1.22 -1.32 -1.22 -1.32z"/>
<path d="M269.9 104.1l1.22 1.32 1.22 -1.32 1.22 1.32 -1.22 1.32 1.22 1.32 -1.22 1.32 -1.22 -1.32 -1.22 1.32 -1.22 -1.32 1.22 -1.32 -1.22 -1.32z"/>
<path d="M302.0 89.7l1.22 1.32 1.22 -1.32 1.22 1.32 -1.22 1.32 1.22 1.32 -1.22 1.32 -1.22 -1.32 -1.22 1.32 -1.22 -1.32 1.22 -1.32 -1.22 -1.32z"/>
<path d="M280.3 81.3l1.22 1.32 1.22 -1.32 1.22 1.32 -1.22 1.32 1.22 1.32 -1.22 1.32 -1.22 -1.32 -1.22 1.32 -1.22 -1.32 1.22 -1.32 -1.22 -1.32z"/>
<path d="M299.7 89.0l1.22 1.32 1.22 -1.32 1.22 1.32 -1.22 1.32 1.22 1.32 -1.22 1.32 -1.22 -1.32 -1.22 1.32 -1.22 -1.32 1.22 -1.32 -1.22 -1.32z"/>
<path d="M290.4 75.2l1.22 1.32 1.22 -1.32 1.22 1.32 -1.22 1.32 1.22 1.32 -1.22 1.32 -1.22 -1.32 -1.22 1.32 -1.22 -1.32 1.22 -1.32 -1.22 -1.32z"/>
<path d="M277.6 66.8l1.22 1.32 1.22 -1.32 1.22 1.32 -1.22 1.32 1.22 1.32 -1.22 1.32 -1.22 -1.32 -1.22 1.32 -1.22 -1.32 1.22 -1.32 -1.22 -1.32z"/>
<path d="M299.7 75.7l1.22 1.32 1.22 -1.32 1.22 1.32 -1.22 1.32 1.22 1.32 -1.22 1.32 -1.22 -1.32 -1.22 1.32 -1.22 -1.32 1.22 -1.32 -1.22 -1.32z"/>
<path d="M295.0 98.0l1.22 1.32 1.22 -1.32 1.22 1.32 -1.22 1.32 1.22 1.32 -1.22 1.32 -1.22 -1.32 -1.22 1.32 -1.22 -1.32 1.22 -1.32 -1.22 -1.32z"/>
<path d="M296.0 64.2l1.22 1.32 1.22 -1.32 1.22 1.32 -1.22 1.32 1.22 1.32 -1.22 1.32 -1.22 -1.32 -1.22 1.32 -1.22 -1.32 1.22 -1.32 -1.22 -1.32z"/>
<path d="M280.1 112.1l1.22 1.32 1.22 -1.32 1.22 1.32 -1.22 1.32 1.22 1.32 -1.22 1.32 -1.22 -1.32 -1.22 1.32 -1.22 -1.32 1.22 -1.32 -1.22 -1.32z"/>
<path d="M302.8 120.2l1.22 1.32 1.22 -1.32 1.22 1.32 -1.22 1.32 1.22 1.32 -1.22 1.32 -1.22 -1.32 -1.22 1.32 -1.22 -1.32 1.22 -1.32 -1.22 -1.32z"/>
<path d="M298.5 72.4l1.22 1.32 1.22 -1.32 1.22 1.32 -1.22 1.32 1.22 1.32 -1.22 1.32 -1.22 -1.32 -1.22 1.32 -1.22 -1.32 1.22 -1.32 -1.22 -1.32z"/>
<path d="M275.9 71.8l1.22 1.32 1.22 -1.32 1.22 1.32 -1.22 1.32 1.22 1.32 -1.22 1.32 -1.22 -1.32 -1.22 1.32 -1.22 -1.32 1.22 -1.32 -1.22 -1.32z"/>
<path d="M285.0 78.9l1.22 1.32 1.22 -1.32 1.22 1.32 -1.22 1.32 1.22 1.32 -1.22 1.32 -1.22 -1.32 -1.22 1.32 -1.22 -1.32 1.22 -1.32 -1.22 -1.32z"/>
<path d="M295.8 64.7l1.22 1.32 1.22 -1.32 1.22 1.32 -1.22 1.32 1.22 1.32 -1.22 1.32 -1.22 -1.32 -1.22 1.32 -1.22 -1.32 1.22 -1.32 -1.22 -1.32z"/>
<path d="M279.7 95.0l1.22 1.32 1.22 -1.32 1.22 1.32 -1.22 1.32 1.22 1.32 -1.22 1.32 -1.22 -1.32 -1.22 1.32 -1.22 -1.32 1.22 -1.32 -1.22 -1.32z"/>
<path d="M292.1 79.9l1.22 1.32 1.22 -1.32 1.22 1.32 -1.22 1.32 1.22 1.32 -1.22 1.32 -1.22 -1.32 -1.22 1.32 -1.22 -1.32 1.22 -1.32 -1.22 -1.32z"/>
<path d="M276.2 104.1l1.22 1.32 1.22 -1.32 1.22 1.32 -1.22 1.32 1.22 1.32 -1.22 1.32 -1.22 -1.32 -1.22 1.32 -1.22 -1.32 1.22 -1.32 -1.22 -1.32z"/>
<path d="M289.7 58.2l1.22 1.32 1.22 -1.32 1.22 1.32 -1.22 1.32 1.22 1.32 -1.22 1.32 -1.22 -1.32 -1.22 1.32 -1.22 -1.32 1.22 -1.32 -1.22 -1.32z"/>
<path d="M287.5 71.9l1.22 1.32 1.22 -1.32 1.22 1.32 -1.22 1.32 1.22 1.32 -1.22 1.32 -1.22 -1.32 -1.22 1.32 -1.22 -1.32 1.22 -1.32 -1.22 -1.32z"/>
<path d="M288.4 91.2l1.22 1.32 1.22 -1.32 1.22 1.32 -1.22 1.32 1.22 1.32 -1.22 1.32 -1.22 -1.32 -1.22 1.32 -1.22 -1.32 1.22 -1.32 -1.22 -1.32z"/>
<path d="M300.9 68.0l1.22 1.32 1.22 -1.32 1.22 1.32 -1.22 1.32 1.22 1.32 -1.22 1.32 -1.22 -1.32 -1.22 1.32 -1.22 -1.32 1.22 -1.32 -1.22 -1.32z"/>
<path d="M286.2 76.8l1.22 1.32 1.22 -1.32 1.22 1.32 -1.22 1.32 1.22 1.32 -1.22 1.32 -1.22 -1.32 -1.22 1.32 -1.22 -1.32 1.22 -1.32 -1.22 -1.32z"/>
<path d="M303.1 65.8l1.22 1.32 1.22 -1.32 1.22 1.32 -1.22 1.32 1.22 1.32 -1.22 1.32 -1.22 -1.32 -1.22 1.32 -1.22 -1.32 1.22 -1.32 -1.22 -1.32z"/>
<path d="M273.3 90.0l1.22 1.32 1.22 -1.32 1.22 1.32 -1.22 1.32 1.22 1.32 -1.22 1.32 -1.22 -1.32 -1.22 1.32 -1.22 -1.32 1.22 -1.32 -1.22 -1.32z"/>
<path d="M280.4 87.7l1.22 1.32 1.22 -1.32 1.22 1.32 -1.22 1.32 1.22 1.32 -1.22 1.32 -1.22 -1.32 -1.22 1.32 -1.22 -1.32 1.22 -1.32 -1.22 -1.32z"/>
<path d="M295.0 72.2l1.22 1.32 1.22 -1.32 1.22 1.32 -1.22 1.32 1.22 1.32 -1.22 1.32 -1.22 -1.32 -1.22 1.32 -1.22 -1.32 1.22 -1.32 -1.22 -1.32z"/>
<path d="M289.8 114.5l1.22 1.32 1.22 -1.32 1.22 1.32 -1.22 1.32 1.22 1.32 -1.22 1.32 -1.22 -1.32 -1.22 1.32 -1.22 -1.32 1.22 -1.32 -1.22 -1.32z"/>
<path d="M277.6 61.8l1.22 1.32 1.22 -1.32 1.22 1.32 -1.22 1.32 1.22 1.32 -1.22 1.32 -1.22 -1.32 -1.22 1.32 -1.22 -1.32 1.22 -1.32 -1.22 -1.32z"/>
<path d="M288.7 91.6l1.22 1.32 1.22 -1.32 1.22 1.32 -1.22 1.32 1.22 1.32 -1.22 1.32 -1.22 -1.32 -1.22 1.32 -1.22 -1.32 1.22 -1.32 -1.22 -1.32z"/>
<path d="M284.1 108.5l1.22 1.32 1.22 -1.32 1.22 1.32 -1.22 1.32 1.22 1.32 -1.22 1.32 -1.22 -1.32 -1.22 1.32 -1.22 -1.32 1.22 -1.32 -1.22 -1.32z"/>
<path d="M282.4 81.4l1.22 1.32 1.22 -1.32 1.22 1.32 -1.22 1.32 1.22 1.32 -1.22 1.32 -1.22 -1.32 -1.22 1.32 -1.22 -1.32 1.22 -1.32 -1.22 -1.32z"/>
<path d="M282.7 114.1l1.22 1.32 1.22 -1.32 1.22 1.32 -1.22 1.32 1.22 1.32 -1.22 1.32 -1.22 -1.32 -1.22 1.32 -1.22 -1.32 1.22 -1.32 -1.22 -1.32z"/>
<path d="M287.0 81.9l1.22 1.32 1.22 -1.32 1.22 1.32 -1.22 1.32 1.22 1.32 -1.22 1.32 -1.22 -1.32 -1.22 1.32 -1.22 -1.32 1.22 -1.32 -1.22 -1.32z"/>
<path d="M285.2 92.0l1.22 1.32 1.22 -1.32 1.22 1.32 -1.22 1.32 1.22 1.32 -1.22 1.32 -1.22 -1.32 -1.22 1.32 -1.22 -1.32 1.22 -1.32 -1.22 -1.32z"/>
<path d="M292.9 57.7l1.22 1.32 1.22 -1.32 1.22 1.32 -1.22 1.32 1.22 1.32 -1.22 1.32 -1.22 -1.32 -1.22 1.32 -1.22 -1.32 1.22 -1.32 -1.22 -1.32z"/>
<path d="M278.9 97.0l1.22 1.32 1.22 -1.32 1.22 1.32 -1.22 1.32 1.22 1.32 -1.22 1.32 -1.22 -1.32 -1.22 1.32 -1.22 -1.32 1.22 -1.32 -1.22 -1.32z"/>
<path d="M284.4 78.9l1.22 1.32 1.22 -1.32 1.22 1.32 -1.22 1.32 1.22 1.32 -1.22 1.32 -1.22 -1.32 -1.22 1.32 -1.22 -1.32 1.22 -1.32 -1.22 -1.32z"/>
<path d="M282.1 61.3l1.22 1.32 1.22 -1.32 1.22 1.32 -1.22 1.32 1.22 1.32 -1.22 1.32 -1.22 -1.32 -1.22 1.32 -1.22 -1.32 1.22 -1.32 -1.22 -1.32z"/>
<path d="M273.4 78.0l1.22 1.32 1.22 -1.32 1.22 1.32 -1.22 1.32 1.22 1.32 -1.22 1.32 -1.22 -1.32 -1.22 1.32 -1.22 -1.32 1.22 -1.32 -1.22 -1.32z"/>
<path d="M304.3 100.4l1.22 1.32 1.22 -1.32 1.22 1.32 -1.22 1.32 1.22 1.32 -1.22 1.32 -1.22 -1.32 -1.22 1.32 -1.22 -1.32 1.22 -1.32 -1.22 -1.32z"/>
<path d="M271.1 82.9l1.22 1.32 1.22 -1.32 1.22 1.32 -1.22 1.32 1.22 1.32 -1.22 1.32 -1.22 -1.32 -1.22 1.32 -1.22 -1.32 1.22 -1.32 -1.22 -1.32z"/>
<path d="M292.1 68.8l1.22 1.32 1.22 -1.32 1.22 1.32 -1.22 1.32 1.22 1.32 -1.22 1.32 -1.22 -1.32 -1.22 1.32 -1.22 -1.32 1.22 -1.32 -1.22 -1.32z"/>
<path d="M275.9 82.9l1.22 1.32 1.22 -1.32 1.22 1.32 -1.22 1.32 1.22 1.32 -1.22 1.32 -1.22 -1.32 -1.22 1.32 -1.22 -1.32 1.22 -1.32 -1.22 -1.32z"/>
<path d="M288.5 83.7l1.22 1.32 1.22 -1.32 1.22 1.32 -1.22 1.32 1.22 1.32 -1.22 1.32 -1.22 -1.32 -1.22 1.32 -1.22 -1.32 1.22 -1.32 -1.22 -1.32z"/>
<path d="M290.9 65.8l1.22 1.32 1.22 -1.32 1.22 1.32 -1.22 1.32 1.22 1.32 -1.22 1.32 -1.22 -1.32 -1.22 1.32 -1.22 -1.32 1.22 -1.32 -1.22 -1.32z"/>
<path d="M281.0 90.0l1.22 1.32 1.22 -1.32 1.22 1.32 -1.22 1.32 1.22 1.32 -1.22 1.32 -1.22 -1.32 -1.22 1.32 -1.22 -1.32 1.22 -1.32 -1.22 -1.32z"/>
<path d="M275.0 77.9l1.22 1.32 1.22 -1.32 1.22 1.32 -1.22 1.32 1.22 1.32 -1.22 1.32 -1.22 -1.32 -1.22 1.32 -1.22 -1.32 1.22 -1.32 -1.22 -1.32z"/>
<path d="M271.6 74.9l1.22 1.32 1.22 -1.32 1.22 1.32 -1.22 1.32 1.22 1.32 -1.22 1.32 -1.22 -1.32 -1.22 1.32 -1.22 -1.32 1.22 -1.32 -1.22 -1.32z"/>
<path d="M293.1 58.0l1.22 1.32 1.22 -1.32 1.22 1.32 -1.22 1.32 1.22 1.32 -1.22 1.32 -1.22 -1.32 -1.22 1.32 -1.22 -1.32 1.22 -1.32 -1.22 -1.32z"/>
<path d="M291.9 71.8l1.22 1.32 1.22 -1.32 1.22 1.32 -1.22 1.32 1.22 1.32 -1.22 1.32 -1.22 -1.32 -1.22 1.32 -1.22 -1.32 1.22 -1.32 -1.22 -1.32z"/>
<path d="M313.7 100.2l1.22 1.32 1.22 -1.32 1.22 1.32 -1.22 1.32 1.22 1.32 -1.22 1.32 -1.22 -1.32 -1.22 1.32 -1.22 -1.32 1.22 -1.32 -1.22 -1.32z"/>
<path d="M272.5 120.2l1.22 1.32 1.22 -1.32 1.22 1.32 -1.22 1.32 1.22 1.32 -1.22 1.32 -1.22 -1.32 -1.22 1.32 -1.22 -1.32 1.22 -1.32 -1.22 -1.32z"/>
<path d="M288.7 135.3l1.22 1.32 1.22 -1.32 1.22 1.32 -1.22 1.32 1.22 1.32 -1.22 1.32 -1.22 -1.32 -1.22 1.32 -1.22 -1.32 1.22 -1.32 -1.22 -1.32z"/>
<path d="M272.5 95.0l1.22 1.32 1.22 -1.32 1.22 1.32 -1.22 1.32 1.22 1.32 -1.22 1.32 -1.22 -1.32 -1.22 1.32 -1.22 -1.32 1.22 -1.32 -1.22 -1.32z"/>
<path d="M269.4 78.9l1.22 1.32 1.22 -1.32 1.22 1.32 -1.22 1.32 1.22 1.32 -1.22 1.32 -1.22 -1.32 -1.22 1.32 -1.22 -1.32 1.22 -1.32 -1.22 -1.32z"/>
<path d="M283.8 70.7l1.22 1.32 1.22 -1.32 1.22 1.32 -1.22 1.32 1.22 1.32 -1.22 1.32 -1.22 -1.32 -1.22 1.32 -1.22 -1.32 1.22 -1.32 -1.22 -1.32z"/>
<path d="M287.8 70.0l1.22 1.32 1.22 -1.32 1.22 1.32 -1.22 1.32 1.22 1.32 -1.22 1.32 -1.22 -1.32 -1.22 1.32 -1.22 -1.32 1.22 -1.32 -1.22 -1.32z"/>
<path d="M292.1 97.6l1.22 1.32 1.22 -1.32 1.22 1.32 -1.22 1.32 1.22 1.32 -1.22 1.32 -1.22 -1.32 -1.22 1.32 -1.22 -1.32 1.22 -1.32 -1.22 -1.32z"/>
<path d="M285.1 69.4l1.22 1.32 1.22 -1.32 1.22 1.32 -1.22 1.32 1.22 1.32 -1.22 1.32 -1.22 -1.32 -1.22 1.32 -1.22 -1.32 1.22 -1.32 -1.22 -1.32z"/>
<path d="M300.6 67.8l1.22 1.32 1.22 -1.32 1.22 1.32 -1.22 1.32 1.22 1.32 -1.22 1.32 -1.22 -1.32 -1.22 1.32 -1.22 -1.32 1.22 -1.32 -1.22 -1.32z"/>
<path d="M289.2 57.7l1.22 1.32 1.22 -1.32 1.22 1.32 -1.22 1.32 1.22 1.32 -1.22 1.32 -1.22 -1.32 -1.22 1.32 -1.22 -1.32 1.22 -1.32 -1.22 -1.32z"/>
<path d="M279.6 71.4l1.22 1.32 1.22 -1.32 1.22 1.32 -1.22 1.32 1.22 1.32 -1.22 1.32 -1.22 -1.32 -1.22 1.32 -1.22 -1.32 1.22 -1.32 -1.22 -1.32z"/>
<path d="M291.2 69.4l1.22 1.32 1.22 -1.32 1.22 1.32 -1.22 1.32 1.22 1.32 -1.22 1.32 -1.22 -1.32 -1.22 1.32 -1.22 -1.32 1.22 -1.32 -1.22 -1.32z"/>
<path d="M298.4 132.2l1.22 1.32 1.22 -1.32 1.22 1.32 -1.22 1.32 1.22 1.32 -1.22 1.32 -1.22 -1.32 -1.22 1.32 -1.22 -1.32 1.22 -1.32 -1.22 -1.32z"/>
<path d="M315.1 88.3l1.22 1.32 1.22 -1.32 1.22 1.32 -1.22 1.32 1.22 1.32 -1.22 1.32 -1.22 -1.32 -1.22 1.32 -1.22 -1.32 1.22 -1.32 -1.22 -1.32z"/>
<path d="M279.3 75.9l1.22 1.32 1.22 -1.32 1.22 1.32 -1.22 1.32 1.22 1.32 -1.22 1.32 -1.22 -1.32 -1.22 1.32 -1.22 -1.32 1.22 -1.32 -1.22 -1.32z"/>
<path d="M263.6 77.9l1.22 1.32 1.22 -1.32 1.22 1.32 -1.22 1.32 1.22 1.32 -1.22 1.32 -1.22 -1.32 -1.22 1.32 -1.22 -1.32 1.22 -1.32 -1.22 -1.32z"/>
<path d="M303.4 66.3l1.22 1.32 1.22 -1.32 1.22 1.32 -1.22 1.32 1.22 1.32 -1.22 1.32 -1.22 -1.32 -1.22 1.32 -1.22 -1.32 1.22 -1.32 -1.22 -1.32z"/>
<path d="M288.7 97.6l1.22 1.32 1.22 -1.32 1.22 1.32 -1.22 1.32 1.22 1.32 -1.22 1.32 -1.22 -1.32 -1.22 1.32 -1.22 -1.32 1.22 -1.32 -1.22 -1.32z"/>
<path d="M291.7 122.2l1.22 1.32 1.22 -1.32 1.22 1.32 -1.22 1.32 1.22 1.32 -1.22 1.32 -1.22 -1.32 -1.22 1.32 -1.22 -1.32 1.22 -1.32 -1.22 -1.32z"/>
<path d="M275.9 91.0l1.22 1.32 1.22 -1.32 1.22 1.32 -1.22 1.32 1.22 1.32 -1.22 1.32 -1.22 -1.32 -1.22 1.32 -1.22 -1.32 1.22 -1.32 -1.22 -1.32z"/>
<path d="M287.9 86.3l1.22 1.32 1.22 -1.32 1.22 1.32 -1.22 1.32 1.22 1.32 -1.22 1.32 -1.22 -1.32 -1.22 1.32 -1.22 -1.32 1.22 -1.32 -1.22 -1.32z"/>
<path d="M282.7 82.9l1.22 1.32 1.22 -1.32 1.22 1.32 -1.22 1.32 1.22 1.32 -1.22 1.32 -1.22 -1.32 -1.22 1.32 -1.22 -1.32 1.22 -1.32 -1.22 -1.32z"/>
<path d="M318.0 73.0l1.22 1.32 1.22 -1.32 1.22 1.32 -1.22 1.32 1.22 1.32 -1.22 1.32 -1.22 -1.32 -1.22 1.32 -1.22 -1.32 1.22 -1.32 -1.22 -1.32z"/>
<path d="M300.5 78.2l1.22 1.32 1.22 -1.32 1.22 1.32 -1.22 1.32 1.22 1.32 -1.22 1.32 -1.22 -1.32 -1.22 1.32 -1.22 -1.32 1.22 -1.32 -1.22 -1.32z"/>
<path d="M303.1 90.0l1.22 1.32 1.22 -1.32 1.22 1.32 -1.22 1.32 1.22 1.32 -1.22 1.32 -1.22 -1.32 -1.22 1.32 -1.22 -1.32 1.22 -1.32 -1.22 -1.32z"/>
<path d="M284.4 118.1l1.22 1.32 1.22 -1.32 1.22 1.32 -1.22 1.32 1.22 1.32 -1.22 1.32 -1.22 -1.32 -1.22 1.32 -1.22 -1.32 1.22 -1.32 -1.22 -1.32z"/>
<path d="M288.1 69.8l1.22 1.32 1.22 -1.32 1.22 1.32 -1.22 1.32 1.22 1.32 -1.22 1.32 -1.22 -1.32 -1.22 1.32 -1.22 -1.32 1.22 -1.32 -1.22 -1.32z"/>
<path d="M313.4 113.1l1.22 1.32 1.22 -1.32 1.22 1.32 -1.22 1.32 1.22 1.32 -1.22 1.32 -1.22 -1.32 -1.22 1.32 -1.22 -1.32 1.22 -1.32 -1.22 -1.32z"/>
<path d="M285.7 77.5l1.22 1.32 1.22 -1.32 1.22 1.32 -1.22 1.32 1.22 1.32 -1.22 1.32 -1.22 -1.32 -1.22 1.32 -1.22 -1.32 1.22 -1.32 -1.22 -1.32z"/>
<path d="M282.7 67.8l1.22 1.32 1.22 -1.32 1.22 1.32 -1.22 1.32 1.22 1.32 -1.22 1.32 -1.22 -1.32 -1.22 1.32 -1.22 -1.32 1.22 -1.32 -1.22 -1.32z"/>
<path d="M275.0 85.9l1.22 1.32 1.22 -1.32 1.22 1.32 -1.22 1.32 1.22 1.32 -1.22 1.32 -1.22 -1.32 -1.22 1.32 -1.22 -1.32 1.22 -1.32 -1.22 -1.32z"/>
<path d="M304.3 97.6l1.22 1.32 1.22 -1.32 1.22 1.32 -1.22 1.32 1.22 1.32 -1.22 1.32 -1.22 -1.32 -1.22 1.32 -1.22 -1.32 1.22 -1.32 -1.22 -1.32z"/>
<path d="M294.3 80.3l1.22 1.32 1.22 -1.32 1.22 1.32 -1.22 1.32 1.22 1.32 -1.22 1.32 -1.22 -1.32 -1.22 1.32 -1.22 -1.32 1.22 -1.32 -1.22 -1.32z"/>
<path d="M280.9 64.1l1.22 1.32 1.22 -1.32 1.22 1.32 -1.22 1.32 1.22 1.32 -1.22 1.32 -1.22 -1.32 -1.22 1.32 -1.22 -1.32 1.22 -1.32 -1.22 -1.32z"/>
<path d="M287.0 89.0l1.22 1.32 1.22 -1.32 1.22 1.32 -1.22 1.32 1.22 1.32 -1.22 1.32 -1.22 -1.32 -1.22 1.32 -1.22 -1.32 1.22 -1.32 -1.22 -1.32z"/>
<path d="M309.4 77.3l1.22 1.32 1.22 -1.32 1.22 1.32 -1.22 1.32 1.22 1.32 -1.22 1.32 -1.22 -1.32 -1.22 1.32 -1.22 -1.32 1.22 -1.32 -1.22 -1.32z"/>
<path d="M285.5 71.3l1.22 1.32 1.22 -1.32 1.22 1.32 -1.22 1.32 1.22 1.32 -1.22 1.32 -1.22 -1.32 -1.22 1.32 -1.22 -1.32 1.22 -1.32 -1.22 -1.32z"/>
<path d="M304.5 84.3l1.22 1.32 1.22 -1.32 1.22 1.32 -1.22 1.32 1.22 1.32 -1.22 1.32 -1.22 -1.32 -1.22 1.32 -1.22 -1.32 1.22 -1.32 -1.22 -1.32z"/>
<path d="M325.8 84.9l1.22 1.32 1.22 -1.32 1.22 1.32 -1.22 1.32 1.22 1.32 -1.22 1.32 -1.22 -1.32 -1.22 1.32 -1.22 -1.32 1.22 -1.32 -1.22 -1.32z"/>
<path d="M292.1 102.0l1.22 1.32 1.22 -1.32 1.22 1.32 -1.22 1.32 1.22 1.32 -1.22 1.32 -1.22 -1.32 -1.22 1.32 -1.22 -1.32 1.22 -1.32 -1.22 -1.32z"/>
<path d="M301.8 77.3l1.22 1.32 1.22 -1.32 1.22 1.32 -1.22 1.32 1.22 1.32 -1.22 1.32 -1.22 -1.32 -1.22 1.32 -1.22 -1.32 1.22 -1.32 -1.22 -1.32z"/>
<path d="M281.8 61.8l1.22 1.32 1.22 -1.32 1.22 1.32 -1.22 1.32 1.22 1.32 -1.22 1.32 -1.22 -1.32 -1.22 1.32 -1.22 -1.32 1.22 -1.32 -1.22 -1.32z"/>
<path d="M279.3 79.9l1.22 1.32 1.22 -1.32 1.22 1.32 -1.22 1.32 1.22 1.32 -1.22 1.32 -1.22 -1.32 -1.22 1.32 -1.22 -1.32 1.22 -1.32 -1.22 -1.32z"/>
<path d="M266.0 71.8l1.22 1.32 1.22 -1.32 1.22 1.32 -1.22 1.32 1.22 1.32 -1.22 1.32 -1.22 -1.32 -1.22 1.32 -1.22 -1.32 1.22 -1.32 -1.22 -1.32z"/>
<path d="M290.4 65.8l1.22 1.32 1.22 -1.32 1.22 1.32 -1.22 1.32 1.22 1.32 -1.22 1.32 -1.22 -1.32 -1.22 1.32 -1.22 -1.32 1.22 -1.32 -1.22 -1.32z"/>
<path d="M256.3 96.4l1.22 1.32 1.22 -1.32 1.22 1.32 -1.22 1.32 1.22 1.32 -1.22 1.32 -1.22 -1.32 -1.22 1.32 -1.22 -1.32 1.22 -1.32 -1.22 -1.32z"/>
</g>
<g fill="#4c72b0" stroke="#fff" stroke-width="0.45">
<ellipse cx="439.6" cy="57.4" rx="2.6" ry="2.78"/>
<ellipse cx="445.7" cy="67.3" rx="2.6" ry="2.78"/>
<ellipse cx="428.3" cy="64.1" rx="2.6" ry="2.78"/>
<ellipse cx="422.4" cy="55.9" rx="2.6" ry="2.78"/>
<ellipse cx="460.1" cy="67.7" rx="2.6" ry="2.78"/>
<ellipse cx="431.1" cy="58.2" rx="2.6" ry="2.78"/>
<ellipse cx="436.1" cy="57.8" rx="2.6" ry="2.78"/>
<ellipse cx="425.1" cy="62.1" rx="2.6" ry="2.78"/>
<ellipse cx="423.3" cy="68.7" rx="2.6" ry="2.78"/>
<ellipse cx="445.6" cy="54.9" rx="2.6" ry="2.78"/>
<ellipse cx="422.0" cy="54.2" rx="2.6" ry="2.78"/>
<ellipse cx="431.4" cy="59.5" rx="2.6" ry="2.78"/>
<ellipse cx="434.4" cy="65.3" rx="2.6" ry="2.78"/>
<ellipse cx="440.3" cy="57.9" rx="2.6" ry="2.78"/>
<ellipse cx="423.6" cy="64.6" rx="2.6" ry="2.78"/>
<ellipse cx="448.3" cy="55.6" rx="2.6" ry="2.78"/>
<ellipse cx="432.3" cy="65.0" rx="2.6" ry="2.78"/>
<ellipse cx="423.7" cy="62.3" rx="2.6" ry="2.78"/>
<ellipse cx="434.4" cy="54.4" rx="2.6" ry="2.78"/>
<ellipse cx="422.3" cy="59.4" rx="2.6" ry="2.78"/>
<ellipse cx="437.0" cy="66.7" rx="2.6" ry="2.78"/>
<ellipse cx="409.5" cy="58.8" rx="2.6" ry="2.78"/>
<ellipse cx="423.7" cy="65.8" rx="2.6" ry="2.78"/>
<ellipse cx="424.9" cy="66.4" rx="2.6" ry="2.78"/>
<ellipse cx="425.9" cy="66.7" rx="2.6" ry="2.78"/>
<ellipse cx="421.9" cy="67.7" rx="2.6" ry="2.78"/>
<ellipse cx="433.7" cy="55.6" rx="2.6" ry="2.78"/>
<ellipse cx="427.4" cy="59.7" rx="2.6" ry="2.78"/>
<ellipse cx="460.1" cy="64.7" rx="2.6" ry="2.78"/>
<ellipse cx="418.5" cy="62.3" rx="2.6" ry="2.78"/>
<ellipse cx="437.0" cy="54.8" rx="2.6" ry="2.78"/>
<ellipse cx="418.0" cy="63.4" rx="2.6" ry="2.78"/>
<ellipse cx="436.8" cy="58.2" rx="2.6" ry="2.78"/>
<ellipse cx="423.1" cy="64.8" rx="2.6" ry="2.78"/>
<ellipse cx="426.8" cy="64.9" rx="2.6" ry="2.78"/>
<ellipse cx="442.8" cy="68.4" rx="2.6" ry="2.78"/>
<ellipse cx="435.1" cy="55.1" rx="2.6" ry="2.78"/>
<ellipse cx="421.7" cy="55.6" rx="2.6" ry="2.78"/>
<ellipse cx="446.4" cy="64.4" rx="2.6" ry="2.78"/>
<ellipse cx="468.7" cy="58.4" rx="2.6" ry="2.78"/>
<ellipse cx="428.2" cy="67.9" rx="2.6" ry="2.78"/>
<ellipse cx="431.0" cy="59.5" rx="2.6" ry="2.78"/>
<ellipse cx="419.0" cy="67.7" rx="2.6" ry="2.78"/>
<ellipse cx="435.2" cy="58.6" rx="2.6" ry="2.78"/>
<ellipse cx="416.6" cy="61.0" rx="2.6" ry="2.78"/>
<ellipse cx="428.8" cy="56.0" rx="2.6" ry="2.78"/>
<ellipse cx="411.0" cy="63.4" rx="2.6" ry="2.78"/>
<ellipse cx="443.6" cy="66.4" rx="2.6" ry="2.78"/>
<ellipse cx="422.1" cy="62.0" rx="2.6" ry="2.78"/>
<ellipse cx="419.8" cy="66.6" rx="2.6" ry="2.78"/>
<ellipse cx="442.5" cy="59.7" rx="2.6" ry="2.78"/>
<ellipse cx="426.1" cy="67.3" rx="2.6" ry="2.78"/>
<ellipse cx="439.2" cy="60.9" rx="2.6" ry="2.78"/>
<ellipse cx="423.6" cy="62.8" rx="2.6" ry="2.78"/>
<ellipse cx="438.7" cy="59.1" rx="2.6" ry="2.78"/>
<ellipse cx="441.5" cy="60.1" rx="2.6" ry="2.78"/>
<ellipse cx="420.7" cy="66.1" rx="2.6" ry="2.78"/>
<ellipse cx="421.5" cy="55.6" rx="2.6" ry="2.78"/>
<ellipse cx="420.0" cy="67.2" rx="2.6" ry="2.78"/>
<ellipse cx="429.0" cy="67.3" rx="2.6" ry="2.78"/>
<ellipse cx="424.4" cy="66.6" rx="2.6" ry="2.78"/>
<ellipse cx="433.9" cy="65.6" rx="2.6" ry="2.78"/>
<ellipse cx="443.9" cy="67.7" rx="2.6" ry="2.78"/>
<ellipse cx="419.7" cy="68.9" rx="2.6" ry="2.78"/>
<ellipse cx="437.2" cy="64.3" rx="2.6" ry="2.78"/>
<ellipse cx="423.0" cy="61.1" rx="2.6" ry="2.78"/>
<ellipse cx="443.4" cy="67.5" rx="2.6" ry="2.78"/>
<ellipse cx="419.0" cy="63.5" rx="2.6" ry="2.78"/>
<ellipse cx="431.6" cy="58.3" rx="2.6" ry="2.78"/>
<ellipse cx="423.3" cy="68.0" rx="2.6" ry="2.78"/>
<ellipse cx="442.7" cy="65.3" rx="2.6" ry="2.78"/>
<ellipse cx="447.4" cy="55.9" rx="2.6" ry="2.78"/>
<ellipse cx="429.4" cy="57.2" rx="2.6" ry="2.78"/>
<ellipse cx="431.7" cy="63.1" rx="2.6" ry="2.78"/>
<ellipse cx="419.7" cy="66.9" rx="2.6" ry="2.78"/>
<ellipse cx="420.6" cy="69.6" rx="2.6" ry="2.78"/>
<ellipse cx="425.7" cy="72.0" rx="2.6" ry="2.78"/>
<ellipse cx="437.7" cy="50.1" rx="2.6" ry="2.78"/>
<ellipse cx="436.9" cy="58.6" rx="2.6" ry="2.78"/>
<ellipse cx="421.2" cy="64.6" rx="2.6" ry="2.78"/>
<ellipse cx="453.0" cy="53.3" rx="2.6" ry="2.78"/>
<ellipse cx="435.6" cy="55.1" rx="2.6" ry="2.78"/>
<ellipse cx="408.7" cy="62.8" rx="2.6" ry="2.78"/>
<ellipse cx="427.7" cy="57.2" rx="2.6" ry="2.78"/>
<ellipse cx="417.0" cy="61.1" rx="2.6" ry="2.78"/>
<ellipse cx="421.0" cy="56.9" rx="2.6" ry="2.78"/>
<ellipse cx="438.3" cy="65.8" rx="2.6" ry="2.78"/>
<ellipse cx="432.7" cy="64.7" rx="2.6" ry="2.78"/>
<ellipse cx="446.1" cy="68.5" rx="2.6" ry="2.78"/>
<ellipse cx="456.7" cy="50.9" rx="2.6" ry="2.78"/>
<ellipse cx="427.0" cy="48.6" rx="2.6" ry="2.78"/>
<ellipse cx="459.6" cy="67.3" rx="2.6" ry="2.78"/>
<ellipse cx="417.0" cy="68.1" rx="2.6" ry="2.78"/>
<ellipse cx="435.0" cy="61.9" rx="2.6" ry="2.78"/>
<ellipse cx="420.6" cy="60.7" rx="2.6" ry="2.78"/>
<ellipse cx="423.8" cy="62.2" rx="2.6" ry="2.78"/>
<ellipse cx="437.2" cy="57.9" rx="2.6" ry="2.78"/>
<ellipse cx="459.6" cy="64.2" rx="2.6" ry="2.78"/>
<ellipse cx="438.8" cy="69.1" rx="2.6" ry="2.78"/>
<ellipse cx="442.3" cy="61.9" rx="2.6" ry="2.78"/>
</g>
<g fill="#dd8452" stroke="#fff" stroke-width="0.45">
<path d="M427.4 9.8l3.55 3.8 -3.55 3.8 -3.55 -3.8z"/>
<path d="M399.9 11.1l3.55 3.8 -3.55 3.8 -3.55 -3.8z"/>
<path d="M427.8 11.6l3.55 3.8 -3.55 3.8 -3.55 -3.8z"/>
<path d="M439.7 10.3l3.55 3.8 -3.55 3.8 -3.55 -3.8z"/>
<path d="M416.4 16.6l3.55 3.8 -3.55 3.8 -3.55 -3.8z"/>
<path d="M410.0 13.1l3.55 3.8 -3.55 3.8 -3.55 -3.8z"/>
<path d="M433.7 11.9l3.55 3.8 -3.55 3.8 -3.55 -3.8z"/>
<path d="M419.7 7.5l3.55 3.8 -3.55 3.8 -3.55 -3.8z"/>
<path d="M413.9 18.3l3.55 3.8 -3.55 3.8 -3.55 -3.8z"/>
<path d="M415.1 18.9l3.55 3.8 -3.55 3.8 -3.55 -3.8z"/>
<path d="M428.4 15.0l3.55 3.8 -3.55 3.8 -3.55 -3.8z"/>
<path d="M419.4 8.8l3.55 3.8 -3.55 3.8 -3.55 -3.8z"/>
<path d="M426.5 10.3l3.55 3.8 -3.55 3.8 -3.55 -3.8z"/>
<path d="M419.2 11.8l3.55 3.8 -3.55 3.8 -3.55 -3.8z"/>
<path d="M420.4 6.4l3.55 3.8 -3.55 3.8 -3.55 -3.8z"/>
<path d="M417.6 15.4l3.55 3.8 -3.55 3.8 -3.55 -3.8z"/>
<path d="M424.2 15.2l3.55 3.8 -3.55 3.8 -3.55 -3.8z"/>
<path d="M415.9 12.2l3.55 3.8 -3.55 3.8 -3.55 -3.8z"/>
<path d="M422.4 14.2l3.55 3.8 -3.55 3.8 -3.55 -3.8z"/>
<path d="M416.1 14.0l3.55 3.8 -3.55 3.8 -3.55 -3.8z"/>
<path d="M426.5 12.5l3.55 3.8 -3.55 3.8 -3.55 -3.8z"/>
<path d="M452.3 9.5l3.55 3.8 -3.55 3.8 -3.55 -3.8z"/>
<path d="M417.7 16.6l3.55 3.8 -3.55 3.8 -3.55 -3.8z"/>
<path d="M418.1 15.3l3.55 3.8 -3.55 3.8 -3.55 -3.8z"/>
<path d="M419.9 17.1l3.55 3.8 -3.55 3.8 -3.55 -3.8z"/>
<path d="M421.1 14.7l3.55 3.8 -3.55 3.8 -3.55 -3.8z"/>
<path d="M423.4 17.7l3.55 3.8 -3.55 3.8 -3.55 -3.8z"/>
<path d="M422.7 11.4l3.55 3.8 -3.55 3.8 -3.55 -3.8z"/>
<path d="M414.2 15.3l3.55 3.8 -3.55 3.8 -3.55 -3.8z"/>
<path d="M421.2 19.2l3.55 3.8 -3.55 3.8 -3.55 -3.8z"/>
<path d="M437.0 8.7l3.55 3.8 -3.55 3.8 -3.55 -3.8z"/>
<path d="M472.7 10.6l3.55 3.8 -3.55 3.8 -3.55 -3.8z"/>
<path d="M423.7 14.9l3.55 3.8 -3.55 3.8 -3.55 -3.8z"/>
<path d="M431.0 8.0l3.55 3.8 -3.55 3.8 -3.55 -3.8z"/>
<path d="M435.0 17.4l3.55 3.8 -3.55 3.8 -3.55 -3.8z"/>
<path d="M422.0 6.7l3.55 3.8 -3.55 3.8 -3.55 -3.8z"/>
<path d="M413.8 15.0l3.55 3.8 -3.55 3.8 -3.55 -3.8z"/>
<path d="M407.5 10.2l3.55 3.8 -3.55 3.8 -3.55 -3.8z"/>
<path d="M424.1 12.1l3.55 3.8 -3.55 3.8 -3.55 -3.8z"/>
<path d="M428.1 12.5l3.55 3.8 -3.55 3.8 -3.55 -3.8z"/>
<path d="M432.1 16.6l3.55 3.8 -3.55 3.8 -3.55 -3.8z"/>
<path d="M412.2 10.9l3.55 3.8 -3.55 3.8 -3.55 -3.8z"/>
<path d="M423.8 13.4l3.55 3.8 -3.55 3.8 -3.55 -3.8z"/>
<path d="M415.8 14.6l3.55 3.8 -3.55 3.8 -3.55 -3.8z"/>
<path d="M418.8 17.6l3.55 3.8 -3.55 3.8 -3.55 -3.8z"/>
<path d="M415.2 15.5l3.55 3.8 -3.55 3.8 -3.55 -3.8z"/>
<path d="M415.1 12.0l3.55 3.8 -3.55 3.8 -3.55 -3.8z"/>
<path d="M417.4 15.7l3.55 3.8 -3.55 3.8 -3.55 -3.8z"/>
<path d="M417.4 14.1l3.55 3.8 -3.55 3.8 -3.55 -3.8z"/>
<path d="M420.6 13.0l3.55 3.8 -3.55 3.8 -3.55 -3.8z"/>
<path d="M417.0 10.4l3.55 3.8 -3.55 3.8 -3.55 -3.8z"/>
<path d="M422.4 11.7l3.55 3.8 -3.55 3.8 -3.55 -3.8z"/>
<path d="M409.8 14.7l3.55 3.8 -3.55 3.8 -3.55 -3.8z"/>
<path d="M421.2 12.0l3.55 3.8 -3.55 3.8 -3.55 -3.8z"/>
<path d="M417.0 11.6l3.55 3.8 -3.55 3.8 -3.55 -3.8z"/>
<path d="M435.9 13.2l3.55 3.8 -3.55 3.8 -3.55 -3.8z"/>
<path d="M431.1 11.9l3.55 3.8 -3.55 3.8 -3.55 -3.8z"/>
<path d="M416.4 12.2l3.55 3.8 -3.55 3.8 -3.55 -3.8z"/>
<path d="M427.0 11.1l3.55 3.8 -3.55 3.8 -3.55 -3.8z"/>
<path d="M427.3 12.2l3.55 3.8 -3.55 3.8 -3.55 -3.8z"/>
<path d="M416.0 14.1l3.55 3.8 -3.55 3.8 -3.55 -3.8z"/>
<path d="M421.0 10.3l3.55 3.8 -3.55 3.8 -3.55 -3.8z"/>
<path d="M454.3 12.7l3.55 3.8 -3.55 3.8 -3.55 -3.8z"/>
<path d="M418.8 12.4l3.55 3.8 -3.55 3.8 -3.55 -3.8z"/>
<path d="M425.0 14.9l3.55 3.8 -3.55 3.8 -3.55 -3.8z"/>
<path d="M422.4 12.8l3.55 3.8 -3.55 3.8 -3.55 -3.8z"/>
<path d="M425.9 12.4l3.55 3.8 -3.55 3.8 -3.55 -3.8z"/>
<path d="M431.2 11.7l3.55 3.8 -3.55 3.8 -3.55 -3.8z"/>
<path d="M418.2 12.9l3.55 3.8 -3.55 3.8 -3.55 -3.8z"/>
<path d="M435.0 11.3l3.55 3.8 -3.55 3.8 -3.55 -3.8z"/>
<path d="M457.0 10.6l3.55 3.8 -3.55 3.8 -3.55 -3.8z"/>
<path d="M357.5 13.5l3.55 3.8 -3.55 3.8 -3.55 -3.8z"/>
<path d="M417.7 11.9l3.55 3.8 -3.55 3.8 -3.55 -3.8z"/>
<path d="M415.6 13.6l3.55 3.8 -3.55 3.8 -3.55 -3.8z"/>
<path d="M417.0 20.5l3.55 3.8 -3.55 3.8 -3.55 -3.8z"/>
<path d="M425.0 7.2l3.55 3.8 -3.55 3.8 -3.55 -3.8z"/>
<path d="M418.9 11.1l3.55 3.8 -3.55 3.8 -3.55 -3.8z"/>
<path d="M416.3 12.0l3.55 3.8 -3.55 3.8 -3.55 -3.8z"/>
<path d="M416.4 8.0l3.55 3.8 -3.55 3.8 -3.55 -3.8z"/>
<path d="M443.7 11.1l3.55 3.8 -3.55 3.8 -3.55 -3.8z"/>
<path d="M426.1 10.9l3.55 3.8 -3.55 3.8 -3.55 -3.8z"/>
<path d="M421.7 18.9l3.55 3.8 -3.55 3.8 -3.55 -3.8z"/>
<path d="M427.2 8.9l3.55 3.8 -3.55 3.8 -3.55 -3.8z"/>
<path d="M413.6 12.0l3.55 3.8 -3.55 3.8 -3.55 -3.8z"/>
<path d="M417.4 9.4l3.55 3.8 -3.55 3.8 -3.55 -3.8z"/>
<path d="M436.8 7.5l3.55 3.8 -3.55 3.8 -3.55 -3.8z"/>
<path d="M428.2 8.1l3.55 3.8 -3.55 3.8 -3.55 -3.8z"/>
<path d="M413.6 19.2l3.55 3.8 -3.55 3.8 -3.55 -3.8z"/>
<path d="M412.8 7.6l3.55 3.8 -3.55 3.8 -3.55 -3.8z"/>
<path d="M418.6 11.6l3.55 3.8 -3.55 3.8 -3.55 -3.8z"/>
<path d="M447.0 14.2l3.55 3.8 -3.55 3.8 -3.55 -3.8z"/>
<path d="M428.8 14.7l3.55 3.8 -3.55 3.8 -3.55 -3.8z"/>
<path d="M417.6 12.8l3.55 3.8 -3.55 3.8 -3.55 -3.8z"/>
<path d="M422.7 8.0l3.55 3.8 -3.55 3.8 -3.55 -3.8z"/>
<path d="M428.7 14.7l3.55 3.8 -3.55 3.8 -3.55 -3.8z"/>
<path d="M421.0 12.9l3.55 3.8 -3.55 3.8 -3.55 -3.8z"/>
<path d="M413.9 13.4l3.55 3.8 -3.55 3.8 -3.55 -3.8z"/>
<path d="M415.6 10.7l3.55 3.8 -3.55 3.8 -3.55 -3.8z"/>
<path d="M417.4 15.6l3.55 3.8 -3.55 3.8 -3.55 -3.8z"/>
<path d="M428.0 13.6l3.55 3.8 -3.55 3.8 -3.55 -3.8z"/>
</g>
<g fill="#55a868" stroke="#fff" stroke-width="0.45">
<path d="M467.8 113.4l1.22 1.32 1.22 -1.32 1.22 1.32 -1.22 1.32 1.22 1.32 -1.22 1.32 -1.22 -1.32 -1.22 1.32 -1.22 -1.32 1.22 -1.32 -1.22 -1.32z"/>
<path d="M399.8 62.5l1.22 1.32 1.22 -1.32 1.22 1.32 -1.22 1.32 1.22 1.32 -1.22 1.32 -1.22 -1.32 -1.22 1.32 -1.22 -1.32 1.22 -1.32 -1.22 -1.32z"/>
<path d="M389.6 81.9l1.22 1.32 1.22 -1.32 1.22 1.32 -1.22 1.32 1.22 1.32 -1.22 1.32 -1.22 -1.32 -1.22 1.32 -1.22 -1.32 1.22 -1.32 -1.22 -1.32z"/>
<path d="M426.4 68.1l1.22 1.32 1.22 -1.32 1.22 1.32 -1.22 1.32 1.22 1.32 -1.22 1.32 -1.22 -1.32 -1.22 1.32 -1.22 -1.32 1.22 -1.32 -1.22 -1.32z"/>
<path d="M459.8 73.1l1.22 1.32 1.22 -1.32 1.22 1.32 -1.22 1.32 1.22 1.32 -1.22 1.32 -1.22 -1.32 -1.22 1.32 -1.22 -1.32 1.22 -1.32 -1.22 -1.32z"/>
<path d="M455.5 83.2l1.22 1.32 1.22 -1.32 1.22 1.32 -1.22 1.32 1.22 1.32 -1.22 1.32 -1.22 -1.32 -1.22 1.32 -1.22 -1.32 1.22 -1.32 -1.22 -1.32z"/>
<path d="M463.2 99.3l1.22 1.32 1.22 -1.32 1.22 1.32 -1.22 1.32 1.22 1.32 -1.22 1.32 -1.22 -1.32 -1.22 1.32 -1.22 -1.32 1.22 -1.32 -1.22 -1.32z"/>
<path d="M432.3 84.7l1.22 1.32 1.22 -1.32 1.22 1.32 -1.22 1.32 1.22 1.32 -1.22 1.32 -1.22 -1.32 -1.22 1.32 -1.22 -1.32 1.22 -1.32 -1.22 -1.32z"/>
<path d="M429.8 70.1l1.22 1.32 1.22 -1.32 1.22 1.32 -1.22 1.32 1.22 1.32 -1.22 1.32 -1.22 -1.32 -1.22 1.32 -1.22 -1.32 1.22 -1.32 -1.22 -1.32z"/>
<path d="M472.3 102.3l1.22 1.32 1.22 -1.32 1.22 1.32 -1.22 1.32 1.22 1.32 -1.22 1.32 -1.22 -1.32 -1.22 1.32 -1.22 -1.32 1.22 -1.32 -1.22 -1.32z"/>
<path d="M422.1 78.2l1.22 1.32 1.22 -1.32 1.22 1.32 -1.22 1.32 1.22 1.32 -1.22 1.32 -1.22 -1.32 -1.22 1.32 -1.22 -1.32 1.22 -1.32 -1.22 -1.32z"/>
<path d="M425.5 78.2l1.22 1.32 1.22 -1.32 1.22 1.32 -1.22 1.32 1.22 1.32 -1.22 1.32 -1.22 -1.32 -1.22 1.32 -1.22 -1.32 1.22 -1.32 -1.22 -1.32z"/>
<path d="M458.1 66.1l1.22 1.32 1.22 -1.32 1.22 1.32 -1.22 1.32 1.22 1.32 -1.22 1.32 -1.22 -1.32 -1.22 1.32 -1.22 -1.32 1.22 -1.32 -1.22 -1.32z"/>
<path d="M447.8 132.1l1.22 1.32 1.22 -1.32 1.22 1.32 -1.22 1.32 1.22 1.32 -1.22 1.32 -1.22 -1.32 -1.22 1.32 -1.22 -1.32 1.22 -1.32 -1.22 -1.32z"/>
<path d="M416.5 72.5l1.22 1.32 1.22 -1.32 1.22 1.32 -1.22 1.32 1.22 1.32 -1.22 1.32 -1.22 -1.32 -1.22 1.32 -1.22 -1.32 1.22 -1.32 -1.22 -1.32z"/>
<path d="M434.1 96.3l1.22 1.32 1.22 -1.32 1.22 1.32 -1.22 1.32 1.22 1.32 -1.22 1.32 -1.22 -1.32 -1.22 1.32 -1.22 -1.32 1.22 -1.32 -1.22 -1.32z"/>
<path d="M428.9 88.7l1.22 1.32 1.22 -1.32 1.22 1.32 -1.22 1.32 1.22 1.32 -1.22 1.32 -1.22 -1.32 -1.22 1.32 -1.22 -1.32 1.22 -1.32 -1.22 -1.32z"/>
<path d="M452.9 68.1l1.22 1.32 1.22 -1.32 1.22 1.32 -1.22 1.32 1.22 1.32 -1.22 1.32 -1.22 -1.32 -1.22 1.32 -1.22 -1.32 1.22 -1.32 -1.22 -1.32z"/>
<path d="M423.8 87.2l1.22 1.32 1.22 -1.32 1.22 1.32 -1.22 1.32 1.22 1.32 -1.22 1.32 -1.22 -1.32 -1.22 1.32 -1.22 -1.32 1.22 -1.32 -1.22 -1.32z"/>
<path d="M441.8 118.4l1.22 1.32 1.22 -1.32 1.22 1.32 -1.22 1.32 1.22 1.32 -1.22 1.32 -1.22 -1.32 -1.22 1.32 -1.22 -1.32 1.22 -1.32 -1.22 -1.32z"/>
<path d="M470.1 68.1l1.22 1.32 1.22 -1.32 1.22 1.32 -1.22 1.32 1.22 1.32 -1.22 1.32 -1.22 -1.32 -1.22 1.32 -1.22 -1.32 1.22 -1.32 -1.22 -1.32z"/>
<path d="M381.1 79.0l1.22 1.32 1.22 -1.32 1.22 1.32 -1.22 1.32 1.22 1.32 -1.22 1.32 -1.22 -1.32 -1.22 1.32 -1.22 -1.32 1.22 -1.32 -1.22 -1.32z"/>
<path d="M429.9 67.6l1.22 1.32 1.22 -1.32 1.22 1.32 -1.22 1.32 1.22 1.32 -1.22 1.32 -1.22 -1.32 -1.22 1.32 -1.22 -1.32 1.22 -1.32 -1.22 -1.32z"/>
<path d="M441.6 80.6l1.22 1.32 1.22 -1.32 1.22 1.32 -1.22 1.32 1.22 1.32 -1.22 1.32 -1.22 -1.32 -1.22 1.32 -1.22 -1.32 1.22 -1.32 -1.22 -1.32z"/>
<path d="M428.6 85.5l1.22 1.32 1.22 -1.32 1.22 1.32 -1.22 1.32 1.22 1.32 -1.22 1.32 -1.22 -1.32 -1.22 1.32 -1.22 -1.32 1.22 -1.32 -1.22 -1.32z"/>
<path d="M443.8 71.0l1.22 1.32 1.22 -1.32 1.22 1.32 -1.22 1.32 1.22 1.32 -1.22 1.32 -1.22 -1.32 -1.22 1.32 -1.22 -1.32 1.22 -1.32 -1.22 -1.32z"/>
<path d="M435.9 84.3l1.22 1.32 1.22 -1.32 1.22 1.32 -1.22 1.32 1.22 1.32 -1.22 1.32 -1.22 -1.32 -1.22 1.32 -1.22 -1.32 1.22 -1.32 -1.22 -1.32z"/>
<path d="M440.9 97.3l1.22 1.32 1.22 -1.32 1.22 1.32 -1.22 1.32 1.22 1.32 -1.22 1.32 -1.22 -1.32 -1.22 1.32 -1.22 -1.32 1.22 -1.32 -1.22 -1.32z"/>
<path d="M416.1 72.5l1.22 1.32 1.22 -1.32 1.22 1.32 -1.22 1.32 1.22 1.32 -1.22 1.32 -1.22 -1.32 -1.22 1.32 -1.22 -1.32 1.22 -1.32 -1.22 -1.32z"/>
<path d="M447.3 102.9l1.22 1.32 1.22 -1.32 1.22 1.32 -1.22 1.32 1.22 1.32 -1.22 1.32 -1.22 -1.32 -1.22 1.32 -1.22 -1.32 1.22 -1.32 -1.22 -1.32z"/>
<path d="M405.5 82.2l1.22 1.32 1.22 -1.32 1.22 1.32 -1.22 1.32 1.22 1.32 -1.22 1.32 -1.22 -1.32 -1.22 1.32 -1.22 -1.32 1.22 -1.32 -1.22 -1.32z"/>
<path d="M434.9 81.2l1.22 1.32 1.22 -1.32 1.22 1.32 -1.22 1.32 1.22 1.32 -1.22 1.32 -1.22 -1.32 -1.22 1.32 -1.22 -1.32 1.22 -1.32 -1.22 -1.32z"/>
<path d="M448.7 88.9l1.22 1.32 1.22 -1.32 1.22 1.32 -1.22 1.32 1.22 1.32 -1.22 1.32 -1.22 -1.32 -1.22 1.32 -1.22 -1.32 1.22 -1.32 -1.22 -1.32z"/>
<path d="M443.5 94.6l1.22 1.32 1.22 -1.32 1.22 1.32 -1.22 1.32 1.22 1.32 -1.22 1.32 -1.22 -1.32 -1.22 1.32 -1.22 -1.32 1.22 -1.32 -1.22 -1.32z"/>
<path d="M455.5 87.3l1.22 1.32 1.22 -1.32 1.22 1.32 -1.22 1.32 1.22 1.32 -1.22 1.32 -1.22 -1.32 -1.22 1.32 -1.22 -1.32 1.22 -1.32 -1.22 -1.32z"/>
<path d="M422.8 92.2l1.22 1.32 1.22 -1.32 1.22 1.32 -1.22 1.32 1.22 1.32 -1.22 1.32 -1.22 -1.32 -1.22 1.32 -1.22 -1.32 1.22 -1.32 -1.22 -1.32z"/>
<path d="M464.0 114.4l1.22 1.32 1.22 -1.32 1.22 1.32 -1.22 1.32 1.22 1.32 -1.22 1.32 -1.22 -1.32 -1.22 1.32 -1.22 -1.32 1.22 -1.32 -1.22 -1.32z"/>
<path d="M416.2 72.3l1.22 1.32 1.22 -1.32 1.22 1.32 -1.22 1.32 1.22 1.32 -1.22 1.32 -1.22 -1.32 -1.22 1.32 -1.22 -1.32 1.22 -1.32 -1.22 -1.32z"/>
<path d="M472.9 80.6l1.22 1.32 1.22 -1.32 1.22 1.32 -1.22 1.32 1.22 1.32 -1.22 1.32 -1.22 -1.32 -1.22 1.32 -1.22 -1.32 1.22 -1.32 -1.22 -1.32z"/>
<path d="M468.3 100.3l1.22 1.32 1.22 -1.32 1.22 1.32 -1.22 1.32 1.22 1.32 -1.22 1.32 -1.22 -1.32 -1.22 1.32 -1.22 -1.32 1.22 -1.32 -1.22 -1.32z"/>
<path d="M463.3 83.4l1.22 1.32 1.22 -1.32 1.22 1.32 -1.22 1.32 1.22 1.32 -1.22 1.32 -1.22 -1.32 -1.22 1.32 -1.22 -1.32 1.22 -1.32 -1.22 -1.32z"/>
<path d="M447.1 58.4l1.22 1.32 1.22 -1.32 1.22 1.32 -1.22 1.32 1.22 1.32 -1.22 1.32 -1.22 -1.32 -1.22 1.32 -1.22 -1.32 1.22 -1.32 -1.22 -1.32z"/>
<path d="M434.9 77.2l1.22 1.32 1.22 -1.32 1.22 1.32 -1.22 1.32 1.22 1.32 -1.22 1.32 -1.22 -1.32 -1.22 1.32 -1.22 -1.32 1.22 -1.32 -1.22 -1.32z"/>
<path d="M417.3 109.4l1.22 1.32 1.22 -1.32 1.22 1.32 -1.22 1.32 1.22 1.32 -1.22 1.32 -1.22 -1.32 -1.22 1.32 -1.22 -1.32 1.22 -1.32 -1.22 -1.32z"/>
<path d="M438.2 100.8l1.22 1.32 1.22 -1.32 1.22 1.32 -1.22 1.32 1.22 1.32 -1.22 1.32 -1.22 -1.32 -1.22 1.32 -1.22 -1.32 1.22 -1.32 -1.22 -1.32z"/>
<path d="M420.4 90.3l1.22 1.32 1.22 -1.32 1.22 1.32 -1.22 1.32 1.22 1.32 -1.22 1.32 -1.22 -1.32 -1.22 1.32 -1.22 -1.32 1.22 -1.32 -1.22 -1.32z"/>
<path d="M440.1 72.1l1.22 1.32 1.22 -1.32 1.22 1.32 -1.22 1.32 1.22 1.32 -1.22 1.32 -1.22 -1.32 -1.22 1.32 -1.22 -1.32 1.22 -1.32 -1.22 -1.32z"/>
<path d="M417.3 104.4l1.22 1.32 1.22 -1.32 1.22 1.32 -1.22 1.32 1.22 1.32 -1.22 1.32 -1.22 -1.32 -1.22 1.32 -1.22 -1.32 1.22 -1.32 -1.22 -1.32z"/>
<path d="M467.8 77.2l1.22 1.32 1.22 -1.32 1.22 1.32 -1.22 1.32 1.22 1.32 -1.22 1.32 -1.22 -1.32 -1.22 1.32 -1.22 -1.32 1.22 -1.32 -1.22 -1.32z"/>
<path d="M426.4 84.2l1.22 1.32 1.22 -1.32 1.22 1.32 -1.22 1.32 1.22 1.32 -1.22 1.32 -1.22 -1.32 -1.22 1.32 -1.22 -1.32 1.22 -1.32 -1.22 -1.32z"/>
<path d="M441.4 80.6l1.22 1.32 1.22 -1.32 1.22 1.32 -1.22 1.32 1.22 1.32 -1.22 1.32 -1.22 -1.32 -1.22 1.32 -1.22 -1.32 1.22 -1.32 -1.22 -1.32z"/>
<path d="M458.1 85.2l1.22 1.32 1.22 -1.32 1.22 1.32 -1.22 1.32 1.22 1.32 -1.22 1.32 -1.22 -1.32 -1.22 1.32 -1.22 -1.32 1.22 -1.32 -1.22 -1.32z"/>
<path d="M457.2 78.2l1.22 1.32 1.22 -1.32 1.22 1.32 -1.22 1.32 1.22 1.32 -1.22 1.32 -1.22 -1.32 -1.22 1.32 -1.22 -1.32 1.22 -1.32 -1.22 -1.32z"/>
<path d="M426.9 84.5l1.22 1.32 1.22 -1.32 1.22 1.32 -1.22 1.32 1.22 1.32 -1.22 1.32 -1.22 -1.32 -1.22 1.32 -1.22 -1.32 1.22 -1.32 -1.22 -1.32z"/>
<path d="M449.5 64.1l1.22 1.32 1.22 -1.32 1.22 1.32 -1.22 1.32 1.22 1.32 -1.22 1.32 -1.22 -1.32 -1.22 1.32 -1.22 -1.32 1.22 -1.32 -1.22 -1.32z"/>
<path d="M435.7 89.1l1.22 1.32 1.22 -1.32 1.22 1.32 -1.22 1.32 1.22 1.32 -1.22 1.32 -1.22 -1.32 -1.22 1.32 -1.22 -1.32 1.22 -1.32 -1.22 -1.32z"/>
<path d="M446.9 72.1l1.22 1.32 1.22 -1.32 1.22 1.32 -1.22 1.32 1.22 1.32 -1.22 1.32 -1.22 -1.32 -1.22 1.32 -1.22 -1.32 1.22 -1.32 -1.22 -1.32z"/>
<path d="M433.6 114.8l1.22 1.32 1.22 -1.32 1.22 1.32 -1.22 1.32 1.22 1.32 -1.22 1.32 -1.22 -1.32 -1.22 1.32 -1.22 -1.32 1.22 -1.32 -1.22 -1.32z"/>
<path d="M437.0 91.3l1.22 1.32 1.22 -1.32 1.22 1.32 -1.22 1.32 1.22 1.32 -1.22 1.32 -1.22 -1.32 -1.22 1.32 -1.22 -1.32 1.22 -1.32 -1.22 -1.32z"/>
<path d="M446.1 86.2l1.22 1.32 1.22 -1.32 1.22 1.32 -1.22 1.32 1.22 1.32 -1.22 1.32 -1.22 -1.32 -1.22 1.32 -1.22 -1.32 1.22 -1.32 -1.22 -1.32z"/>
<path d="M447.3 122.9l1.22 1.32 1.22 -1.32 1.22 1.32 -1.22 1.32 1.22 1.32 -1.22 1.32 -1.22 -1.32 -1.22 1.32 -1.22 -1.32 1.22 -1.32 -1.22 -1.32z"/>
<path d="M452.1 73.1l1.22 1.32 1.22 -1.32 1.22 1.32 -1.22 1.32 1.22 1.32 -1.22 1.32 -1.22 -1.32 -1.22 1.32 -1.22 -1.32 1.22 -1.32 -1.22 -1.32z"/>
<path d="M455.8 58.4l1.22 1.32 1.22 -1.32 1.22 1.32 -1.22 1.32 1.22 1.32 -1.22 1.32 -1.22 -1.32 -1.22 1.32 -1.22 -1.32 1.22 -1.32 -1.22 -1.32z"/>
<path d="M431.5 92.3l1.22 1.32 1.22 -1.32 1.22 1.32 -1.22 1.32 1.22 1.32 -1.22 1.32 -1.22 -1.32 -1.22 1.32 -1.22 -1.32 1.22 -1.32 -1.22 -1.32z"/>
<path d="M431.5 78.2l1.22 1.32 1.22 -1.32 1.22 1.32 -1.22 1.32 1.22 1.32 -1.22 1.32 -1.22 -1.32 -1.22 1.32 -1.22 -1.32 1.22 -1.32 -1.22 -1.32z"/>
<path d="M451.2 89.3l1.22 1.32 1.22 -1.32 1.22 1.32 -1.22 1.32 1.22 1.32 -1.22 1.32 -1.22 -1.32 -1.22 1.32 -1.22 -1.32 1.22 -1.32 -1.22 -1.32z"/>
<path d="M427.7 89.3l1.22 1.32 1.22 -1.32 1.22 1.32 -1.22 1.32 1.22 1.32 -1.22 1.32 -1.22 -1.32 -1.22 1.32 -1.22 -1.32 1.22 -1.32 -1.22 -1.32z"/>
<path d="M440.1 91.9l1.22 1.32 1.22 -1.32 1.22 1.32 -1.22 1.32 1.22 1.32 -1.22 1.32 -1.22 -1.32 -1.22 1.32 -1.22 -1.32 1.22 -1.32 -1.22 -1.32z"/>
<path d="M446.1 58.0l1.22 1.32 1.22 -1.32 1.22 1.32 -1.22 1.32 1.22 1.32 -1.22 1.32 -1.22 -1.32 -1.22 1.32 -1.22 -1.32 1.22 -1.32 -1.22 -1.32z"/>
<path d="M456.3 101.3l1.22 1.32 1.22 -1.32 1.22 1.32 -1.22 1.32 1.22 1.32 -1.22 1.32 -1.22 -1.32 -1.22 1.32 -1.22 -1.32 1.22 -1.32 -1.22 -1.32z"/>
<path d="M447.8 79.2l1.22 1.32 1.22 -1.32 1.22 1.32 -1.22 1.32 1.22 1.32 -1.22 1.32 -1.22 -1.32 -1.22 1.32 -1.22 -1.32 1.22 -1.32 -1.22 -1.32z"/>
<path d="M434.9 69.7l1.22 1.32 1.22 -1.32 1.22 1.32 -1.22 1.32 1.22 1.32 -1.22 1.32 -1.22 -1.32 -1.22 1.32 -1.22 -1.32 1.22 -1.32 -1.22 -1.32z"/>
<path d="M456.0 87.2l1.22 1.32 1.22 -1.32 1.22 1.32 -1.22 1.32 1.22 1.32 -1.22 1.32 -1.22 -1.32 -1.22 1.32 -1.22 -1.32 1.22 -1.32 -1.22 -1.32z"/>
<path d="M446.0 85.0l1.22 1.32 1.22 -1.32 1.22 1.32 -1.22 1.32 1.22 1.32 -1.22 1.32 -1.22 -1.32 -1.22 1.32 -1.22 -1.32 1.22 -1.32 -1.22 -1.32z"/>
<path d="M436.3 120.5l1.22 1.32 1.22 -1.32 1.22 1.32 -1.22 1.32 1.22 1.32 -1.22 1.32 -1.22 -1.32 -1.22 1.32 -1.22 -1.32 1.22 -1.32 -1.22 -1.32z"/>
<path d="M456.3 114.4l1.22 1.32 1.22 -1.32 1.22 1.32 -1.22 1.32 1.22 1.32 -1.22 1.32 -1.22 -1.32 -1.22 1.32 -1.22 -1.32 1.22 -1.32 -1.22 -1.32z"/>
<path d="M452.1 82.2l1.22 1.32 1.22 -1.32 1.22 1.32 -1.22 1.32 1.22 1.32 -1.22 1.32 -1.22 -1.32 -1.22 1.32 -1.22 -1.32 1.22 -1.32 -1.22 -1.32z"/>
<path d="M456.3 97.3l1.22 1.32 1.22 -1.32 1.22 1.32 -1.22 1.32 1.22 1.32 -1.22 1.32 -1.22 -1.32 -1.22 1.32 -1.22 -1.32 1.22 -1.32 -1.22 -1.32z"/>
<path d="M452.6 79.8l1.22 1.32 1.22 -1.32 1.22 1.32 -1.22 1.32 1.22 1.32 -1.22 1.32 -1.22 -1.32 -1.22 1.32 -1.22 -1.32 1.22 -1.32 -1.22 -1.32z"/>
<path d="M460.8 77.5l1.22 1.32 1.22 -1.32 1.22 1.32 -1.22 1.32 1.22 1.32 -1.22 1.32 -1.22 -1.32 -1.22 1.32 -1.22 -1.32 1.22 -1.32 -1.22 -1.32z"/>
<path d="M470.9 89.9l1.22 1.32 1.22 -1.32 1.22 1.32 -1.22 1.32 1.22 1.32 -1.22 1.32 -1.22 -1.32 -1.22 1.32 -1.22 -1.32 1.22 -1.32 -1.22 -1.32z"/>
<path d="M435.8 80.2l1.22 1.32 1.22 -1.32 1.22 1.32 -1.22 1.32 1.22 1.32 -1.22 1.32 -1.22 -1.32 -1.22 1.32 -1.22 -1.32 1.22 -1.32 -1.22 -1.32z"/>
<path d="M455.5 58.5l1.22 1.32 1.22 -1.32 1.22 1.32 -1.22 1.32 1.22 1.32 -1.22 1.32 -1.22 -1.32 -1.22 1.32 -1.22 -1.32 1.22 -1.32 -1.22 -1.32z"/>
<path d="M452.4 120.5l1.22 1.32 1.22 -1.32 1.22 1.32 -1.22 1.32 1.22 1.32 -1.22 1.32 -1.22 -1.32 -1.22 1.32 -1.22 -1.32 1.22 -1.32 -1.22 -1.32z"/>
<path d="M430.4 66.0l1.22 1.32 1.22 -1.32 1.22 1.32 -1.22 1.32 1.22 1.32 -1.22 1.32 -1.22 -1.32 -1.22 1.32 -1.22 -1.32 1.22 -1.32 -1.22 -1.32z"/>
<path d="M461.6 81.2l1.22 1.32 1.22 -1.32 1.22 1.32 -1.22 1.32 1.22 1.32 -1.22 1.32 -1.22 -1.32 -1.22 1.32 -1.22 -1.32 1.22 -1.32 -1.22 -1.32z"/>
<path d="M450.3 98.3l1.22 1.32 1.22 -1.32 1.22 1.32 -1.22 1.32 1.22 1.32 -1.22 1.32 -1.22 -1.32 -1.22 1.32 -1.22 -1.32 1.22 -1.32 -1.22 -1.32z"/>
<path d="M427.5 79.5l1.22 1.32 1.22 -1.32 1.22 1.32 -1.22 1.32 1.22 1.32 -1.22 1.32 -1.22 -1.32 -1.22 1.32 -1.22 -1.32 1.22 -1.32 -1.22 -1.32z"/>
<path d="M467.5 81.8l1.22 1.32 1.22 -1.32 1.22 1.32 -1.22 1.32 1.22 1.32 -1.22 1.32 -1.22 -1.32 -1.22 1.32 -1.22 -1.32 1.22 -1.32 -1.22 -1.32z"/>
<path d="M446.1 94.3l1.22 1.32 1.22 -1.32 1.22 1.32 -1.22 1.32 1.22 1.32 -1.22 1.32 -1.22 -1.32 -1.22 1.32 -1.22 -1.32 1.22 -1.32 -1.22 -1.32z"/>
<path d="M446.0 73.2l1.22 1.32 1.22 -1.32 1.22 1.32 -1.22 1.32 1.22 1.32 -1.22 1.32 -1.22 -1.32 -1.22 1.32 -1.22 -1.32 1.22 -1.32 -1.22 -1.32z"/>
<path d="M431.8 68.6l1.22 1.32 1.22 -1.32 1.22 1.32 -1.22 1.32 1.22 1.32 -1.22 1.32 -1.22 -1.32 -1.22 1.32 -1.22 -1.32 1.22 -1.32 -1.22 -1.32z"/>
<path d="M470.0 68.1l1.22 1.32 1.22 -1.32 1.22 1.32 -1.22 1.32 1.22 1.32 -1.22 1.32 -1.22 -1.32 -1.22 1.32 -1.22 -1.32 1.22 -1.32 -1.22 -1.32z"/>
<path d="M437.5 97.3l1.22 1.32 1.22 -1.32 1.22 1.32 -1.22 1.32 1.22 1.32 -1.22 1.32 -1.22 -1.32 -1.22 1.32 -1.22 -1.32 1.22 -1.32 -1.22 -1.32z"/>
<path d="M435.8 108.4l1.22 1.32 1.22 -1.32 1.22 1.32 -1.22 1.32 1.22 1.32 -1.22 1.32 -1.22 -1.32 -1.22 1.32 -1.22 -1.32 1.22 -1.32 -1.22 -1.32z"/>
<path d="M431.5 67.1l1.22 1.32 1.22 -1.32 1.22 1.32 -1.22 1.32 1.22 1.32 -1.22 1.32 -1.22 -1.32 -1.22 1.32 -1.22 -1.32 1.22 -1.32 -1.22 -1.32z"/>
<path d="M423.0 78.3l1.22 1.32 1.22 -1.32 1.22 1.32 -1.22 1.32 1.22 1.32 -1.22 1.32 -1.22 -1.32 -1.22 1.32 -1.22 -1.32 1.22 -1.32 -1.22 -1.32z"/>
<path d="M448.3 104.4l1.22 1.32 1.22 -1.32 1.22 1.32 -1.22 1.32 1.22 1.32 -1.22 1.32 -1.22 -1.32 -1.22 1.32 -1.22 -1.32 1.22 -1.32 -1.22 -1.32z"/>
<path d="M463.2 80.2l1.22 1.32 1.22 -1.32 1.22 1.32 -1.22 1.32 1.22 1.32 -1.22 1.32 -1.22 -1.32 -1.22 1.32 -1.22 -1.32 1.22 -1.32 -1.22 -1.32z"/>
<path d="M453.4 135.6l1.22 1.32 1.22 -1.32 1.22 1.32 -1.22 1.32 1.22 1.32 -1.22 1.32 -1.22 -1.32 -1.22 1.32 -1.22 -1.32 1.22 -1.32 -1.22 -1.32z"/>
</g>
<g fill="#4c72b0" stroke="#fff" stroke-width="0.45">
<ellipse cx="421.8" cy="223.1" rx="2.6" ry="2.78"/>
<ellipse cx="422.3" cy="220.9" rx="2.6" ry="2.78"/>
<ellipse cx="422.6" cy="223.5" rx="2.6" ry="2.78"/>
<ellipse cx="438.1" cy="217.2" rx="2.6" ry="2.78"/>
<ellipse cx="429.1" cy="221.4" rx="2.6" ry="2.78"/>
<ellipse cx="430.4" cy="222.2" rx="2.6" ry="2.78"/>
<ellipse cx="437.6" cy="217.6" rx="2.6" ry="2.78"/>
<ellipse cx="450.9" cy="215.9" rx="2.6" ry="2.78"/>
<ellipse cx="434.6" cy="226.5" rx="2.6" ry="2.78"/>
<ellipse cx="451.6" cy="215.1" rx="2.6" ry="2.78"/>
<ellipse cx="415.9" cy="217.2" rx="2.6" ry="2.78"/>
<ellipse cx="438.3" cy="215.2" rx="2.6" ry="2.78"/>
<ellipse cx="446.6" cy="223.7" rx="2.6" ry="2.78"/>
<ellipse cx="433.5" cy="223.6" rx="2.6" ry="2.78"/>
<ellipse cx="420.1" cy="225.3" rx="2.6" ry="2.78"/>
<ellipse cx="429.2" cy="222.2" rx="2.6" ry="2.78"/>
<ellipse cx="431.0" cy="222.4" rx="2.6" ry="2.78"/>
<ellipse cx="428.2" cy="225.8" rx="2.6" ry="2.78"/>
<ellipse cx="423.1" cy="225.5" rx="2.6" ry="2.78"/>
<ellipse cx="432.0" cy="223.8" rx="2.6" ry="2.78"/>
<ellipse cx="445.8" cy="213.1" rx="2.6" ry="2.78"/>
<ellipse cx="435.8" cy="222.3" rx="2.6" ry="2.78"/>
<ellipse cx="440.5" cy="218.9" rx="2.6" ry="2.78"/>
<ellipse cx="423.6" cy="209.1" rx="2.6" ry="2.78"/>
<ellipse cx="417.7" cy="215.9" rx="2.6" ry="2.78"/>
<ellipse cx="420.7" cy="225.8" rx="2.6" ry="2.78"/>
<ellipse cx="441.5" cy="216.3" rx="2.6" ry="2.78"/>
<ellipse cx="436.6" cy="220.5" rx="2.6" ry="2.78"/>
<ellipse cx="422.3" cy="221.4" rx="2.6" ry="2.78"/>
<ellipse cx="435.8" cy="224.7" rx="2.6" ry="2.78"/>
<ellipse cx="424.7" cy="227.7" rx="2.6" ry="2.78"/>
<ellipse cx="442.2" cy="217.8" rx="2.6" ry="2.78"/>
<ellipse cx="444.8" cy="219.2" rx="2.6" ry="2.78"/>
<ellipse cx="445.7" cy="217.3" rx="2.6" ry="2.78"/>
<ellipse cx="408.2" cy="224.2" rx="2.6" ry="2.78"/>
<ellipse cx="434.7" cy="235.4" rx="2.6" ry="2.78"/>
<ellipse cx="432.4" cy="227.3" rx="2.6" ry="2.78"/>
<ellipse cx="425.0" cy="225.5" rx="2.6" ry="2.78"/>
<ellipse cx="450.1" cy="222.2" rx="2.6" ry="2.78"/>
<ellipse cx="429.6" cy="232.3" rx="2.6" ry="2.78"/>
<ellipse cx="443.1" cy="212.9" rx="2.6" ry="2.78"/>
<ellipse cx="440.7" cy="212.1" rx="2.6" ry="2.78"/>
<ellipse cx="434.5" cy="223.5" rx="2.6" ry="2.78"/>
<ellipse cx="445.1" cy="225.9" rx="2.6" ry="2.78"/>
<ellipse cx="409.0" cy="222.2" rx="2.6" ry="2.78"/>
<ellipse cx="444.8" cy="213.8" rx="2.6" ry="2.78"/>
<ellipse cx="425.5" cy="221.8" rx="2.6" ry="2.78"/>
<ellipse cx="420.1" cy="224.4" rx="2.6" ry="2.78"/>
<ellipse cx="452.7" cy="215.1" rx="2.6" ry="2.78"/>
<ellipse cx="452.0" cy="214.6" rx="2.6" ry="2.78"/>
<ellipse cx="436.8" cy="222.5" rx="2.6" ry="2.78"/>
<ellipse cx="439.4" cy="211.1" rx="2.6" ry="2.78"/>
<ellipse cx="445.4" cy="213.3" rx="2.6" ry="2.78"/>
<ellipse cx="425.3" cy="225.7" rx="2.6" ry="2.78"/>
<ellipse cx="424.6" cy="224.1" rx="2.6" ry="2.78"/>
<ellipse cx="459.9" cy="219.2" rx="2.6" ry="2.78"/>
<ellipse cx="423.6" cy="222.2" rx="2.6" ry="2.78"/>
<ellipse cx="427.0" cy="222.0" rx="2.6" ry="2.78"/>
<ellipse cx="451.0" cy="213.2" rx="2.6" ry="2.78"/>
<ellipse cx="436.2" cy="217.8" rx="2.6" ry="2.78"/>
<ellipse cx="432.1" cy="226.3" rx="2.6" ry="2.78"/>
<ellipse cx="451.8" cy="216.5" rx="2.6" ry="2.78"/>
<ellipse cx="449.3" cy="225.6" rx="2.6" ry="2.78"/>
<ellipse cx="447.5" cy="223.2" rx="2.6" ry="2.78"/>
<ellipse cx="430.4" cy="208.1" rx="2.6" ry="2.78"/>
<ellipse cx="438.9" cy="213.5" rx="2.6" ry="2.78"/>
<ellipse cx="451.9" cy="212.7" rx="2.6" ry="2.78"/>
<ellipse cx="424.2" cy="223.5" rx="2.6" ry="2.78"/>
<ellipse cx="425.6" cy="220.9" rx="2.6" ry="2.78"/>
<ellipse cx="432.0" cy="226.7" rx="2.6" ry="2.78"/>
<ellipse cx="440.2" cy="211.4" rx="2.6" ry="2.78"/>
<ellipse cx="426.0" cy="225.1" rx="2.6" ry="2.78"/>
<ellipse cx="442.9" cy="215.3" rx="2.6" ry="2.78"/>
<ellipse cx="449.0" cy="220.7" rx="2.6" ry="2.78"/>
<ellipse cx="440.1" cy="212.3" rx="2.6" ry="2.78"/>
<ellipse cx="446.1" cy="227.0" rx="2.6" ry="2.78"/>
<ellipse cx="451.4" cy="216.2" rx="2.6" ry="2.78"/>
<ellipse cx="432.1" cy="224.6" rx="2.6" ry="2.78"/>
<ellipse cx="421.1" cy="223.2" rx="2.6" ry="2.78"/>
<ellipse cx="447.2" cy="221.9" rx="2.6" ry="2.78"/>
<ellipse cx="435.0" cy="221.0" rx="2.6" ry="2.78"/>
<ellipse cx="445.0" cy="219.2" rx="2.6" ry="2.78"/>
<ellipse cx="459.9" cy="211.1" rx="2.6" ry="2.78"/>
<ellipse cx="430.4" cy="224.0" rx="2.6" ry="2.78"/>
<ellipse cx="439.5" cy="211.1" rx="2.6" ry="2.78"/>
<ellipse cx="448.1" cy="221.6" rx="2.6" ry="2.78"/>
<ellipse cx="421.3" cy="225.6" rx="2.6" ry="2.78"/>
<ellipse cx="435.5" cy="223.0" rx="2.6" ry="2.78"/>
<ellipse cx="421.2" cy="223.8" rx="2.6" ry="2.78"/>
<ellipse cx="421.8" cy="226.5" rx="2.6" ry="2.78"/>
<ellipse cx="453.5" cy="213.8" rx="2.6" ry="2.78"/>
<ellipse cx="432.4" cy="221.1" rx="2.6" ry="2.78"/>
<ellipse cx="425.3" cy="227.3" rx="2.6" ry="2.78"/>
<ellipse cx="436.4" cy="223.2" rx="2.6" ry="2.78"/>
<ellipse cx="450.0" cy="213.9" rx="2.6" ry="2.78"/>
<ellipse cx="426.6" cy="220.4" rx="2.6" ry="2.78"/>
<ellipse cx="416.0" cy="219.8" rx="2.6" ry="2.78"/>
<ellipse cx="440.7" cy="213.5" rx="2.6" ry="2.78"/>
<ellipse cx="435.3" cy="221.9" rx="2.6" ry="2.78"/>
<ellipse cx="420.2" cy="221.1" rx="2.6" ry="2.78"/>
</g>
<g fill="#dd8452" stroke="#fff" stroke-width="0.45">
<path d="M413.0 263.8l3.55 3.8 -3.55 3.8 -3.55 -3.8z"/>
<path d="M456.1 217.4l3.55 3.8 -3.55 3.8 -3.55 -3.8z"/>
<path d="M414.8 275.9l3.55 3.8 -3.55 3.8 -3.55 -3.8z"/>
<path d="M419.2 269.7l3.55 3.8 -3.55 3.8 -3.55 -3.8z"/>
<path d="M421.4 260.9l3.55 3.8 -3.55 3.8 -3.55 -3.8z"/>
<path d="M422.8 274.0l3.55 3.8 -3.55 3.8 -3.55 -3.8z"/>
<path d="M425.0 260.7l3.55 3.8 -3.55 3.8 -3.55 -3.8z"/>
<path d="M444.7 266.2l3.55 3.8 -3.55 3.8 -3.55 -3.8z"/>
<path d="M430.5 274.0l3.55 3.8 -3.55 3.8 -3.55 -3.8z"/>
<path d="M438.7 272.1l3.55 3.8 -3.55 3.8 -3.55 -3.8z"/>
<path d="M411.2 265.1l3.55 3.8 -3.55 3.8 -3.55 -3.8z"/>
<path d="M411.7 268.3l3.55 3.8 -3.55 3.8 -3.55 -3.8z"/>
<path d="M411.5 259.4l3.55 3.8 -3.55 3.8 -3.55 -3.8z"/>
<path d="M414.3 278.5l3.55 3.8 -3.55 3.8 -3.55 -3.8z"/>
<path d="M423.8 266.4l3.55 3.8 -3.55 3.8 -3.55 -3.8z"/>
<path d="M424.8 263.9l3.55 3.8 -3.55 3.8 -3.55 -3.8z"/>
<path d="M437.1 262.8l3.55 3.8 -3.55 3.8 -3.55 -3.8z"/>
<path d="M416.9 274.0l3.55 3.8 -3.55 3.8 -3.55 -3.8z"/>
<path d="M423.3 269.5l3.55 3.8 -3.55 3.8 -3.55 -3.8z"/>
<path d="M406.6 256.5l3.55 3.8 -3.55 3.8 -3.55 -3.8z"/>
<path d="M407.3 242.0l3.55 3.8 -3.55 3.8 -3.55 -3.8z"/>
<path d="M413.8 281.9l3.55 3.8 -3.55 3.8 -3.55 -3.8z"/>
<path d="M429.8 265.2l3.55 3.8 -3.55 3.8 -3.55 -3.8z"/>
<path d="M434.8 271.8l3.55 3.8 -3.55 3.8 -3.55 -3.8z"/>
<path d="M423.5 263.6l3.55 3.8 -3.55 3.8 -3.55 -3.8z"/>
<path d="M424.9 265.9l3.55 3.8 -3.55 3.8 -3.55 -3.8z"/>
<path d="M451.4 262.8l3.55 3.8 -3.55 3.8 -3.55 -3.8z"/>
<path d="M424.9 263.6l3.55 3.8 -3.55 3.8 -3.55 -3.8z"/>
<path d="M451.8 214.0l3.55 3.8 -3.55 3.8 -3.55 -3.8z"/>
<path d="M428.2 244.9l3.55 3.8 -3.55 3.8 -3.55 -3.8z"/>
<path d="M423.2 259.7l3.55 3.8 -3.55 3.8 -3.55 -3.8z"/>
<path d="M422.8 263.6l3.55 3.8 -3.55 3.8 -3.55 -3.8z"/>
<path d="M427.3 228.5l3.55 3.8 -3.55 3.8 -3.55 -3.8z"/>
<path d="M418.1 261.8l3.55 3.8 -3.55 3.8 -3.55 -3.8z"/>
<path d="M412.6 259.0l3.55 3.8 -3.55 3.8 -3.55 -3.8z"/>
<path d="M357.4 244.6l3.55 3.8 -3.55 3.8 -3.55 -3.8z"/>
<path d="M433.3 266.2l3.55 3.8 -3.55 3.8 -3.55 -3.8z"/>
<path d="M416.5 265.7l3.55 3.8 -3.55 3.8 -3.55 -3.8z"/>
<path d="M431.9 263.9l3.55 3.8 -3.55 3.8 -3.55 -3.8z"/>
<path d="M418.8 265.6l3.55 3.8 -3.55 3.8 -3.55 -3.8z"/>
<path d="M404.8 262.8l3.55 3.8 -3.55 3.8 -3.55 -3.8z"/>
<path d="M428.3 265.7l3.55 3.8 -3.55 3.8 -3.55 -3.8z"/>
<path d="M420.6 234.3l3.55 3.8 -3.55 3.8 -3.55 -3.8z"/>
<path d="M439.1 270.7l3.55 3.8 -3.55 3.8 -3.55 -3.8z"/>
<path d="M414.7 220.0l3.55 3.8 -3.55 3.8 -3.55 -3.8z"/>
<path d="M428.9 268.9l3.55 3.8 -3.55 3.8 -3.55 -3.8z"/>
<path d="M418.9 274.5l3.55 3.8 -3.55 3.8 -3.55 -3.8z"/>
<path d="M415.3 263.7l3.55 3.8 -3.55 3.8 -3.55 -3.8z"/>
<path d="M416.7 260.8l3.55 3.8 -3.55 3.8 -3.55 -3.8z"/>
<path d="M415.3 262.8l3.55 3.8 -3.55 3.8 -3.55 -3.8z"/>
<path d="M422.9 259.4l3.55 3.8 -3.55 3.8 -3.55 -3.8z"/>
<path d="M421.0 234.2l3.55 3.8 -3.55 3.8 -3.55 -3.8z"/>
<path d="M434.0 270.6l3.55 3.8 -3.55 3.8 -3.55 -3.8z"/>
<path d="M423.8 252.7l3.55 3.8 -3.55 3.8 -3.55 -3.8z"/>
<path d="M425.2 280.7l3.55 3.8 -3.55 3.8 -3.55 -3.8z"/>
<path d="M426.5 262.8l3.55 3.8 -3.55 3.8 -3.55 -3.8z"/>
<path d="M416.2 268.4l3.55 3.8 -3.55 3.8 -3.55 -3.8z"/>
<path d="M428.6 261.7l3.55 3.8 -3.55 3.8 -3.55 -3.8z"/>
<path d="M417.9 276.0l3.55 3.8 -3.55 3.8 -3.55 -3.8z"/>
<path d="M412.3 265.8l3.55 3.8 -3.55 3.8 -3.55 -3.8z"/>
<path d="M419.0 269.8l3.55 3.8 -3.55 3.8 -3.55 -3.8z"/>
<path d="M430.6 266.6l3.55 3.8 -3.55 3.8 -3.55 -3.8z"/>
<path d="M433.0 269.2l3.55 3.8 -3.55 3.8 -3.55 -3.8z"/>
<path d="M409.6 271.8l3.55 3.8 -3.55 3.8 -3.55 -3.8z"/>
<path d="M415.3 269.2l3.55 3.8 -3.55 3.8 -3.55 -3.8z"/>
<path d="M417.2 257.2l3.55 3.8 -3.55 3.8 -3.55 -3.8z"/>
<path d="M419.2 273.6l3.55 3.8 -3.55 3.8 -3.55 -3.8z"/>
<path d="M428.8 258.9l3.55 3.8 -3.55 3.8 -3.55 -3.8z"/>
<path d="M426.1 275.2l3.55 3.8 -3.55 3.8 -3.55 -3.8z"/>
<path d="M419.3 271.1l3.55 3.8 -3.55 3.8 -3.55 -3.8z"/>
<path d="M422.1 265.4l3.55 3.8 -3.55 3.8 -3.55 -3.8z"/>
<path d="M415.5 260.6l3.55 3.8 -3.55 3.8 -3.55 -3.8z"/>
<path d="M425.2 270.6l3.55 3.8 -3.55 3.8 -3.55 -3.8z"/>
<path d="M415.9 269.5l3.55 3.8 -3.55 3.8 -3.55 -3.8z"/>
<path d="M420.0 265.0l3.55 3.8 -3.55 3.8 -3.55 -3.8z"/>
<path d="M418.4 256.5l3.55 3.8 -3.55 3.8 -3.55 -3.8z"/>
<path d="M471.9 213.4l3.55 3.8 -3.55 3.8 -3.55 -3.8z"/>
<path d="M416.3 267.4l3.55 3.8 -3.55 3.8 -3.55 -3.8z"/>
<path d="M439.0 268.4l3.55 3.8 -3.55 3.8 -3.55 -3.8z"/>
<path d="M440.9 267.3l3.55 3.8 -3.55 3.8 -3.55 -3.8z"/>
<path d="M426.7 224.1l3.55 3.8 -3.55 3.8 -3.55 -3.8z"/>
<path d="M399.7 255.4l3.55 3.8 -3.55 3.8 -3.55 -3.8z"/>
<path d="M415.9 264.3l3.55 3.8 -3.55 3.8 -3.55 -3.8z"/>
<path d="M439.4 265.9l3.55 3.8 -3.55 3.8 -3.55 -3.8z"/>
<path d="M399.7 259.4l3.55 3.8 -3.55 3.8 -3.55 -3.8z"/>
<path d="M411.4 270.0l3.55 3.8 -3.55 3.8 -3.55 -3.8z"/>
<path d="M417.4 261.2l3.55 3.8 -3.55 3.8 -3.55 -3.8z"/>
<path d="M429.5 263.1l3.55 3.8 -3.55 3.8 -3.55 -3.8z"/>
<path d="M412.9 259.4l3.55 3.8 -3.55 3.8 -3.55 -3.8z"/>
<path d="M419.0 273.1l3.55 3.8 -3.55 3.8 -3.55 -3.8z"/>
<path d="M434.3 257.2l3.55 3.8 -3.55 3.8 -3.55 -3.8z"/>
<path d="M412.4 266.2l3.55 3.8 -3.55 3.8 -3.55 -3.8z"/>
<path d="M414.8 259.1l3.55 3.8 -3.55 3.8 -3.55 -3.8z"/>
<path d="M421.0 271.8l3.55 3.8 -3.55 3.8 -3.55 -3.8z"/>
<path d="M423.1 261.5l3.55 3.8 -3.55 3.8 -3.55 -3.8z"/>
<path d="M414.3 275.0l3.55 3.8 -3.55 3.8 -3.55 -3.8z"/>
<path d="M418.6 264.0l3.55 3.8 -3.55 3.8 -3.55 -3.8z"/>
<path d="M413.8 266.3l3.55 3.8 -3.55 3.8 -3.55 -3.8z"/>
<path d="M422.4 265.6l3.55 3.8 -3.55 3.8 -3.55 -3.8z"/>
<path d="M419.9 263.1l3.55 3.8 -3.55 3.8 -3.55 -3.8z"/>
</g>
<g fill="#55a868" stroke="#fff" stroke-width="0.45">
<path d="M467.2 175.1l1.22 1.32 1.22 -1.32 1.22 1.32 -1.22 1.32 1.22 1.32 -1.22 1.32 -1.22 -1.32 -1.22 1.32 -1.22 -1.32 1.22 -1.32 -1.22 -1.32z"/>
<path d="M416.4 216.6l1.22 1.32 1.22 -1.32 1.22 1.32 -1.22 1.32 1.22 1.32 -1.22 1.32 -1.22 -1.32 -1.22 1.32 -1.22 -1.32 1.22 -1.32 -1.22 -1.32z"/>
<path d="M446.3 203.4l1.22 1.32 1.22 -1.32 1.22 1.32 -1.22 1.32 1.22 1.32 -1.22 1.32 -1.22 -1.32 -1.22 1.32 -1.22 -1.32 1.22 -1.32 -1.22 -1.32z"/>
<path d="M449.7 195.9l1.22 1.32 1.22 -1.32 1.22 1.32 -1.22 1.32 1.22 1.32 -1.22 1.32 -1.22 -1.32 -1.22 1.32 -1.22 -1.32 1.22 -1.32 -1.22 -1.32z"/>
<path d="M449.7 191.3l1.22 1.32 1.22 -1.32 1.22 1.32 -1.22 1.32 1.22 1.32 -1.22 1.32 -1.22 -1.32 -1.22 1.32 -1.22 -1.32 1.22 -1.32 -1.22 -1.32z"/>
<path d="M423.9 206.6l1.22 1.32 1.22 -1.32 1.22 1.32 -1.22 1.32 1.22 1.32 -1.22 1.32 -1.22 -1.32 -1.22 1.32 -1.22 -1.32 1.22 -1.32 -1.22 -1.32z"/>
<path d="M450.6 201.4l1.22 1.32 1.22 -1.32 1.22 1.32 -1.22 1.32 1.22 1.32 -1.22 1.32 -1.22 -1.32 -1.22 1.32 -1.22 -1.32 1.22 -1.32 -1.22 -1.32z"/>
<path d="M433.0 187.6l1.22 1.32 1.22 -1.32 1.22 1.32 -1.22 1.32 1.22 1.32 -1.22 1.32 -1.22 -1.32 -1.22 1.32 -1.22 -1.32 1.22 -1.32 -1.22 -1.32z"/>
<path d="M457.5 196.3l1.22 1.32 1.22 -1.32 1.22 1.32 -1.22 1.32 1.22 1.32 -1.22 1.32 -1.22 -1.32 -1.22 1.32 -1.22 -1.32 1.22 -1.32 -1.22 -1.32z"/>
<path d="M398.4 209.2l1.22 1.32 1.22 -1.32 1.22 1.32 -1.22 1.32 1.22 1.32 -1.22 1.32 -1.22 -1.32 -1.22 1.32 -1.22 -1.32 1.22 -1.32 -1.22 -1.32z"/>
<path d="M416.3 208.9l1.22 1.32 1.22 -1.32 1.22 1.32 -1.22 1.32 1.22 1.32 -1.22 1.32 -1.22 -1.32 -1.22 1.32 -1.22 -1.32 1.22 -1.32 -1.22 -1.32z"/>
<path d="M440.3 201.4l1.22 1.32 1.22 -1.32 1.22 1.32 -1.22 1.32 1.22 1.32 -1.22 1.32 -1.22 -1.32 -1.22 1.32 -1.22 -1.32 1.22 -1.32 -1.22 -1.32z"/>
<path d="M389.2 209.7l1.22 1.32 1.22 -1.32 1.22 1.32 -1.22 1.32 1.22 1.32 -1.22 1.32 -1.22 -1.32 -1.22 1.32 -1.22 -1.32 1.22 -1.32 -1.22 -1.32z"/>
<path d="M415.5 210.5l1.22 1.32 1.22 -1.32 1.22 1.32 -1.22 1.32 1.22 1.32 -1.22 1.32 -1.22 -1.32 -1.22 1.32 -1.22 -1.32 1.22 -1.32 -1.22 -1.32z"/>
<path d="M469.4 185.2l1.22 1.32 1.22 -1.32 1.22 1.32 -1.22 1.32 1.22 1.32 -1.22 1.32 -1.22 -1.32 -1.22 1.32 -1.22 -1.32 1.22 -1.32 -1.22 -1.32z"/>
<path d="M431.2 190.2l1.22 1.32 1.22 -1.32 1.22 1.32 -1.22 1.32 1.22 1.32 -1.22 1.32 -1.22 -1.32 -1.22 1.32 -1.22 -1.32 1.22 -1.32 -1.22 -1.32z"/>
<path d="M457.5 185.2l1.22 1.32 1.22 -1.32 1.22 1.32 -1.22 1.32 1.22 1.32 -1.22 1.32 -1.22 -1.32 -1.22 1.32 -1.22 -1.32 1.22 -1.32 -1.22 -1.32z"/>
<path d="M433.8 189.4l1.22 1.32 1.22 -1.32 1.22 1.32 -1.22 1.32 1.22 1.32 -1.22 1.32 -1.22 -1.32 -1.22 1.32 -1.22 -1.32 1.22 -1.32 -1.22 -1.32z"/>
<path d="M435.2 224.6l1.22 1.32 1.22 -1.32 1.22 1.32 -1.22 1.32 1.22 1.32 -1.22 1.32 -1.22 -1.32 -1.22 1.32 -1.22 -1.32 1.22 -1.32 -1.22 -1.32z"/>
<path d="M471.1 193.3l1.22 1.32 1.22 -1.32 1.22 1.32 -1.22 1.32 1.22 1.32 -1.22 1.32 -1.22 -1.32 -1.22 1.32 -1.22 -1.32 1.22 -1.32 -1.22 -1.32z"/>
<path d="M436.0 213.5l1.22 1.32 1.22 -1.32 1.22 1.32 -1.22 1.32 1.22 1.32 -1.22 1.32 -1.22 -1.32 -1.22 1.32 -1.22 -1.32 1.22 -1.32 -1.22 -1.32z"/>
<path d="M441.0 204.6l1.22 1.32 1.22 -1.32 1.22 1.32 -1.22 1.32 1.22 1.32 -1.22 1.32 -1.22 -1.32 -1.22 1.32 -1.22 -1.32 1.22 -1.32 -1.22 -1.32z"/>
<path d="M434.0 191.3l1.22 1.32 1.22 -1.32 1.22 1.32 -1.22 1.32 1.22 1.32 -1.22 1.32 -1.22 -1.32 -1.22 1.32 -1.22 -1.32 1.22 -1.32 -1.22 -1.32z"/>
<path d="M442.5 206.7l1.22 1.32 1.22 -1.32 1.22 1.32 -1.22 1.32 1.22 1.32 -1.22 1.32 -1.22 -1.32 -1.22 1.32 -1.22 -1.32 1.22 -1.32 -1.22 -1.32z"/>
<path d="M452.7 208.6l1.22 1.32 1.22 -1.32 1.22 1.32 -1.22 1.32 1.22 1.32 -1.22 1.32 -1.22 -1.32 -1.22 1.32 -1.22 -1.32 1.22 -1.32 -1.22 -1.32z"/>
<path d="M461.4 198.4l1.22 1.32 1.22 -1.32 1.22 1.32 -1.22 1.32 1.22 1.32 -1.22 1.32 -1.22 -1.32 -1.22 1.32 -1.22 -1.32 1.22 -1.32 -1.22 -1.32z"/>
<path d="M404.9 203.8l1.22 1.32 1.22 -1.32 1.22 1.32 -1.22 1.32 1.22 1.32 -1.22 1.32 -1.22 -1.32 -1.22 1.32 -1.22 -1.32 1.22 -1.32 -1.22 -1.32z"/>
<path d="M450.6 186.2l1.22 1.32 1.22 -1.32 1.22 1.32 -1.22 1.32 1.22 1.32 -1.22 1.32 -1.22 -1.32 -1.22 1.32 -1.22 -1.32 1.22 -1.32 -1.22 -1.32z"/>
<path d="M435.2 201.4l1.22 1.32 1.22 -1.32 1.22 1.32 -1.22 1.32 1.22 1.32 -1.22 1.32 -1.22 -1.32 -1.22 1.32 -1.22 -1.32 1.22 -1.32 -1.22 -1.32z"/>
<path d="M448.7 200.8l1.22 1.32 1.22 -1.32 1.22 1.32 -1.22 1.32 1.22 1.32 -1.22 1.32 -1.22 -1.32 -1.22 1.32 -1.22 -1.32 1.22 -1.32 -1.22 -1.32z"/>
<path d="M455.7 180.2l1.22 1.32 1.22 -1.32 1.22 1.32 -1.22 1.32 1.22 1.32 -1.22 1.32 -1.22 -1.32 -1.22 1.32 -1.22 -1.32 1.22 -1.32 -1.22 -1.32z"/>
<path d="M404.5 203.6l1.22 1.32 1.22 -1.32 1.22 1.32 -1.22 1.32 1.22 1.32 -1.22 1.32 -1.22 -1.32 -1.22 1.32 -1.22 -1.32 1.22 -1.32 -1.22 -1.32z"/>
<path d="M423.5 216.0l1.22 1.32 1.22 -1.32 1.22 1.32 -1.22 1.32 1.22 1.32 -1.22 1.32 -1.22 -1.32 -1.22 1.32 -1.22 -1.32 1.22 -1.32 -1.22 -1.32z"/>
<path d="M439.5 206.4l1.22 1.32 1.22 -1.32 1.22 1.32 -1.22 1.32 1.22 1.32 -1.22 1.32 -1.22 -1.32 -1.22 1.32 -1.22 -1.32 1.22 -1.32 -1.22 -1.32z"/>
<path d="M430.1 203.4l1.22 1.32 1.22 -1.32 1.22 1.32 -1.22 1.32 1.22 1.32 -1.22 1.32 -1.22 -1.32 -1.22 1.32 -1.22 -1.32 1.22 -1.32 -1.22 -1.32z"/>
<path d="M447.2 198.4l1.22 1.32 1.22 -1.32 1.22 1.32 -1.22 1.32 1.22 1.32 -1.22 1.32 -1.22 -1.32 -1.22 1.32 -1.22 -1.32 1.22 -1.32 -1.22 -1.32z"/>
<path d="M463.4 205.4l1.22 1.32 1.22 -1.32 1.22 1.32 -1.22 1.32 1.22 1.32 -1.22 1.32 -1.22 -1.32 -1.22 1.32 -1.22 -1.32 1.22 -1.32 -1.22 -1.32z"/>
<path d="M437.9 209.2l1.22 1.32 1.22 -1.32 1.22 1.32 -1.22 1.32 1.22 1.32 -1.22 1.32 -1.22 -1.32 -1.22 1.32 -1.22 -1.32 1.22 -1.32 -1.22 -1.32z"/>
<path d="M446.3 208.5l1.22 1.32 1.22 -1.32 1.22 1.32 -1.22 1.32 1.22 1.32 -1.22 1.32 -1.22 -1.32 -1.22 1.32 -1.22 -1.32 1.22 -1.32 -1.22 -1.32z"/>
<path d="M436.1 204.3l1.22 1.32 1.22 -1.32 1.22 1.32 -1.22 1.32 1.22 1.32 -1.22 1.32 -1.22 -1.32 -1.22 1.32 -1.22 -1.32 1.22 -1.32 -1.22 -1.32z"/>
<path d="M437.8 181.2l1.22 1.32 1.22 -1.32 1.22 1.32 -1.22 1.32 1.22 1.32 -1.22 1.32 -1.22 -1.32 -1.22 1.32 -1.22 -1.32 1.22 -1.32 -1.22 -1.32z"/>
<path d="M435.2 207.5l1.22 1.32 1.22 -1.32 1.22 1.32 -1.22 1.32 1.22 1.32 -1.22 1.32 -1.22 -1.32 -1.22 1.32 -1.22 -1.32 1.22 -1.32 -1.22 -1.32z"/>
<path d="M463.4 180.2l1.22 1.32 1.22 -1.32 1.22 1.32 -1.22 1.32 1.22 1.32 -1.22 1.32 -1.22 -1.32 -1.22 1.32 -1.22 -1.32 1.22 -1.32 -1.22 -1.32z"/>
<path d="M447.4 209.5l1.22 1.32 1.22 -1.32 1.22 1.32 -1.22 1.32 1.22 1.32 -1.22 1.32 -1.22 -1.32 -1.22 1.32 -1.22 -1.32 1.22 -1.32 -1.22 -1.32z"/>
<path d="M416.4 202.4l1.22 1.32 1.22 -1.32 1.22 1.32 -1.22 1.32 1.22 1.32 -1.22 1.32 -1.22 -1.32 -1.22 1.32 -1.22 -1.32 1.22 -1.32 -1.22 -1.32z"/>
<path d="M427.5 219.6l1.22 1.32 1.22 -1.32 1.22 1.32 -1.22 1.32 1.22 1.32 -1.22 1.32 -1.22 -1.32 -1.22 1.32 -1.22 -1.32 1.22 -1.32 -1.22 -1.32z"/>
<path d="M430.9 215.5l1.22 1.32 1.22 -1.32 1.22 1.32 -1.22 1.32 1.22 1.32 -1.22 1.32 -1.22 -1.32 -1.22 1.32 -1.22 -1.32 1.22 -1.32 -1.22 -1.32z"/>
<path d="M435.2 218.6l1.22 1.32 1.22 -1.32 1.22 1.32 -1.22 1.32 1.22 1.32 -1.22 1.32 -1.22 -1.32 -1.22 1.32 -1.22 -1.32 1.22 -1.32 -1.22 -1.32z"/>
<path d="M441.3 200.0l1.22 1.32 1.22 -1.32 1.22 1.32 -1.22 1.32 1.22 1.32 -1.22 1.32 -1.22 -1.32 -1.22 1.32 -1.22 -1.32 1.22 -1.32 -1.22 -1.32z"/>
<path d="M462.1 184.2l1.22 1.32 1.22 -1.32 1.22 1.32 -1.22 1.32 1.22 1.32 -1.22 1.32 -1.22 -1.32 -1.22 1.32 -1.22 -1.32 1.22 -1.32 -1.22 -1.32z"/>
<path d="M429.8 204.2l1.22 1.32 1.22 -1.32 1.22 1.32 -1.22 1.32 1.22 1.32 -1.22 1.32 -1.22 -1.32 -1.22 1.32 -1.22 -1.32 1.22 -1.32 -1.22 -1.32z"/>
<path d="M439.5 196.3l1.22 1.32 1.22 -1.32 1.22 1.32 -1.22 1.32 1.22 1.32 -1.22 1.32 -1.22 -1.32 -1.22 1.32 -1.22 -1.32 1.22 -1.32 -1.22 -1.32z"/>
<path d="M466.5 199.4l1.22 1.32 1.22 -1.32 1.22 1.32 -1.22 1.32 1.22 1.32 -1.22 1.32 -1.22 -1.32 -1.22 1.32 -1.22 -1.32 1.22 -1.32 -1.22 -1.32z"/>
<path d="M435.5 219.8l1.22 1.32 1.22 -1.32 1.22 1.32 -1.22 1.32 1.22 1.32 -1.22 1.32 -1.22 -1.32 -1.22 1.32 -1.22 -1.32 1.22 -1.32 -1.22 -1.32z"/>
<path d="M426.6 213.5l1.22 1.32 1.22 -1.32 1.22 1.32 -1.22 1.32 1.22 1.32 -1.22 1.32 -1.22 -1.32 -1.22 1.32 -1.22 -1.32 1.22 -1.32 -1.22 -1.32z"/>
<path d="M446.3 193.3l1.22 1.32 1.22 -1.32 1.22 1.32 -1.22 1.32 1.22 1.32 -1.22 1.32 -1.22 -1.32 -1.22 1.32 -1.22 -1.32 1.22 -1.32 -1.22 -1.32z"/>
<path d="M440.3 217.6l1.22 1.32 1.22 -1.32 1.22 1.32 -1.22 1.32 1.22 1.32 -1.22 1.32 -1.22 -1.32 -1.22 1.32 -1.22 -1.32 1.22 -1.32 -1.22 -1.32z"/>
<path d="M467.7 169.5l1.22 1.32 1.22 -1.32 1.22 1.32 -1.22 1.32 1.22 1.32 -1.22 1.32 -1.22 -1.32 -1.22 1.32 -1.22 -1.32 1.22 -1.32 -1.22 -1.32z"/>
<path d="M456.6 190.3l1.22 1.32 1.22 -1.32 1.22 1.32 -1.22 1.32 1.22 1.32 -1.22 1.32 -1.22 -1.32 -1.22 1.32 -1.22 -1.32 1.22 -1.32 -1.22 -1.32z"/>
<path d="M437.8 218.2l1.22 1.32 1.22 -1.32 1.22 1.32 -1.22 1.32 1.22 1.32 -1.22 1.32 -1.22 -1.32 -1.22 1.32 -1.22 -1.32 1.22 -1.32 -1.22 -1.32z"/>
<path d="M442.0 211.5l1.22 1.32 1.22 -1.32 1.22 1.32 -1.22 1.32 1.22 1.32 -1.22 1.32 -1.22 -1.32 -1.22 1.32 -1.22 -1.32 1.22 -1.32 -1.22 -1.32z"/>
<path d="M451.1 168.1l1.22 1.32 1.22 -1.32 1.22 1.32 -1.22 1.32 1.22 1.32 -1.22 1.32 -1.22 -1.32 -1.22 1.32 -1.22 -1.32 1.22 -1.32 -1.22 -1.32z"/>
<path d="M380.4 219.4l1.22 1.32 1.22 -1.32 1.22 1.32 -1.22 1.32 1.22 1.32 -1.22 1.32 -1.22 -1.32 -1.22 1.32 -1.22 -1.32 1.22 -1.32 -1.22 -1.32z"/>
<path d="M452.1 185.5l1.22 1.32 1.22 -1.32 1.22 1.32 -1.22 1.32 1.22 1.32 -1.22 1.32 -1.22 -1.32 -1.22 1.32 -1.22 -1.32 1.22 -1.32 -1.22 -1.32z"/>
<path d="M425.8 202.4l1.22 1.32 1.22 -1.32 1.22 1.32 -1.22 1.32 1.22 1.32 -1.22 1.32 -1.22 -1.32 -1.22 1.32 -1.22 -1.32 1.22 -1.32 -1.22 -1.32z"/>
<path d="M425.8 207.5l1.22 1.32 1.22 -1.32 1.22 1.32 -1.22 1.32 1.22 1.32 -1.22 1.32 -1.22 -1.32 -1.22 1.32 -1.22 -1.32 1.22 -1.32 -1.22 -1.32z"/>
<path d="M430.3 216.3l1.22 1.32 1.22 -1.32 1.22 1.32 -1.22 1.32 1.22 1.32 -1.22 1.32 -1.22 -1.32 -1.22 1.32 -1.22 -1.32 1.22 -1.32 -1.22 -1.32z"/>
<path d="M448.5 204.8l1.22 1.32 1.22 -1.32 1.22 1.32 -1.22 1.32 1.22 1.32 -1.22 1.32 -1.22 -1.32 -1.22 1.32 -1.22 -1.32 1.22 -1.32 -1.22 -1.32z"/>
<path d="M432.6 212.8l1.22 1.32 1.22 -1.32 1.22 1.32 -1.22 1.32 1.22 1.32 -1.22 1.32 -1.22 -1.32 -1.22 1.32 -1.22 -1.32 1.22 -1.32 -1.22 -1.32z"/>
<path d="M449.7 203.8l1.22 1.32 1.22 -1.32 1.22 1.32 -1.22 1.32 1.22 1.32 -1.22 1.32 -1.22 -1.32 -1.22 1.32 -1.22 -1.32 1.22 -1.32 -1.22 -1.32z"/>
<path d="M446.3 213.5l1.22 1.32 1.22 -1.32 1.22 1.32 -1.22 1.32 1.22 1.32 -1.22 1.32 -1.22 -1.32 -1.22 1.32 -1.22 -1.32 1.22 -1.32 -1.22 -1.32z"/>
<path d="M424.1 201.7l1.22 1.32 1.22 -1.32 1.22 1.32 -1.22 1.32 1.22 1.32 -1.22 1.32 -1.22 -1.32 -1.22 1.32 -1.22 -1.32 1.22 -1.32 -1.22 -1.32z"/>
<path d="M445.6 202.7l1.22 1.32 1.22 -1.32 1.22 1.32 -1.22 1.32 1.22 1.32 -1.22 1.32 -1.22 -1.32 -1.22 1.32 -1.22 -1.32 1.22 -1.32 -1.22 -1.32z"/>
<path d="M420.6 205.4l1.22 1.32 1.22 -1.32 1.22 1.32 -1.22 1.32 1.22 1.32 -1.22 1.32 -1.22 -1.32 -1.22 1.32 -1.22 -1.32 1.22 -1.32 -1.22 -1.32z"/>
<path d="M437.8 232.7l1.22 1.32 1.22 -1.32 1.22 1.32 -1.22 1.32 1.22 1.32 -1.22 1.32 -1.22 -1.32 -1.22 1.32 -1.22 -1.32 1.22 -1.32 -1.22 -1.32z"/>
<path d="M439.1 211.8l1.22 1.32 1.22 -1.32 1.22 1.32 -1.22 1.32 1.22 1.32 -1.22 1.32 -1.22 -1.32 -1.22 1.32 -1.22 -1.32 1.22 -1.32 -1.22 -1.32z"/>
<path d="M425.7 201.2l1.22 1.32 1.22 -1.32 1.22 1.32 -1.22 1.32 1.22 1.32 -1.22 1.32 -1.22 -1.32 -1.22 1.32 -1.22 -1.32 1.22 -1.32 -1.22 -1.32z"/>
<path d="M472.3 182.2l1.22 1.32 1.22 -1.32 1.22 1.32 -1.22 1.32 1.22 1.32 -1.22 1.32 -1.22 -1.32 -1.22 1.32 -1.22 -1.32 1.22 -1.32 -1.22 -1.32z"/>
<path d="M446.6 200.5l1.22 1.32 1.22 -1.32 1.22 1.32 -1.22 1.32 1.22 1.32 -1.22 1.32 -1.22 -1.32 -1.22 1.32 -1.22 -1.32 1.22 -1.32 -1.22 -1.32z"/>
<path d="M459.2 164.6l1.22 1.32 1.22 -1.32 1.22 1.32 -1.22 1.32 1.22 1.32 -1.22 1.32 -1.22 -1.32 -1.22 1.32 -1.22 -1.32 1.22 -1.32 -1.22 -1.32z"/>
<path d="M421.5 215.5l1.22 1.32 1.22 -1.32 1.22 1.32 -1.22 1.32 1.22 1.32 -1.22 1.32 -1.22 -1.32 -1.22 1.32 -1.22 -1.32 1.22 -1.32 -1.22 -1.32z"/>
<path d="M458.0 156.5l1.22 1.32 1.22 -1.32 1.22 1.32 -1.22 1.32 1.22 1.32 -1.22 1.32 -1.22 -1.32 -1.22 1.32 -1.22 -1.32 1.22 -1.32 -1.22 -1.32z"/>
<path d="M457.3 198.3l1.22 1.32 1.22 -1.32 1.22 1.32 -1.22 1.32 1.22 1.32 -1.22 1.32 -1.22 -1.32 -1.22 1.32 -1.22 -1.32 1.22 -1.32 -1.22 -1.32z"/>
<path d="M425.3 204.7l1.22 1.32 1.22 -1.32 1.22 1.32 -1.22 1.32 1.22 1.32 -1.22 1.32 -1.22 -1.32 -1.22 1.32 -1.22 -1.32 1.22 -1.32 -1.22 -1.32z"/>
<path d="M429.9 210.2l1.22 1.32 1.22 -1.32 1.22 1.32 -1.22 1.32 1.22 1.32 -1.22 1.32 -1.22 -1.32 -1.22 1.32 -1.22 -1.32 1.22 -1.32 -1.22 -1.32z"/>
<path d="M421.5 209.5l1.22 1.32 1.22 -1.32 1.22 1.32 -1.22 1.32 1.22 1.32 -1.22 1.32 -1.22 -1.32 -1.22 1.32 -1.22 -1.32 1.22 -1.32 -1.22 -1.32z"/>
<path d="M443.8 202.3l1.22 1.32 1.22 -1.32 1.22 1.32 -1.22 1.32 1.22 1.32 -1.22 1.32 -1.22 -1.32 -1.22 1.32 -1.22 -1.32 1.22 -1.32 -1.22 -1.32z"/>
<path d="M447.8 181.7l1.22 1.32 1.22 -1.32 1.22 1.32 -1.22 1.32 1.22 1.32 -1.22 1.32 -1.22 -1.32 -1.22 1.32 -1.22 -1.32 1.22 -1.32 -1.22 -1.32z"/>
<path d="M459.7 205.7l1.22 1.32 1.22 -1.32 1.22 1.32 -1.22 1.32 1.22 1.32 -1.22 1.32 -1.22 -1.32 -1.22 1.32 -1.22 -1.32 1.22 -1.32 -1.22 -1.32z"/>
<path d="M453.2 181.2l1.22 1.32 1.22 -1.32 1.22 1.32 -1.22 1.32 1.22 1.32 -1.22 1.32 -1.22 -1.32 -1.22 1.32 -1.22 -1.32 1.22 -1.32 -1.22 -1.32z"/>
<path d="M467.2 203.4l1.22 1.32 1.22 -1.32 1.22 1.32 -1.22 1.32 1.22 1.32 -1.22 1.32 -1.22 -1.32 -1.22 1.32 -1.22 -1.32 1.22 -1.32 -1.22 -1.32z"/>
<path d="M433.5 195.3l1.22 1.32 1.22 -1.32 1.22 1.32 -1.22 1.32 1.22 1.32 -1.22 1.32 -1.22 -1.32 -1.22 1.32 -1.22 -1.32 1.22 -1.32 -1.22 -1.32z"/>
<path d="M456.3 188.3l1.22 1.32 1.22 -1.32 1.22 1.32 -1.22 1.32 1.22 1.32 -1.22 1.32 -1.22 -1.32 -1.22 1.32 -1.22 -1.32 1.22 -1.32 -1.22 -1.32z"/>
<path d="M440.3 192.3l1.22 1.32 1.22 -1.32 1.22 1.32 -1.22 1.32 1.22 1.32 -1.22 1.32 -1.22 -1.32 -1.22 1.32 -1.22 -1.32 1.22 -1.32 -1.22 -1.32z"/>
<path d="M399.2 209.5l1.22 1.32 1.22 -1.32 1.22 1.32 -1.22 1.32 1.22 1.32 -1.22 1.32 -1.22 -1.32 -1.22 1.32 -1.22 -1.32 1.22 -1.32 -1.22 -1.32z"/>
<path d="M455.5 188.0l1.22 1.32 1.22 -1.32 1.22 1.32 -1.22 1.32 1.22 1.32 -1.22 1.32 -1.22 -1.32 -1.22 1.32 -1.22 -1.32 1.22 -1.32 -1.22 -1.32z"/>
<path d="M430.1 209.5l1.22 1.32 1.22 -1.32 1.22 1.32 -1.22 1.32 1.22 1.32 -1.22 1.32 -1.22 -1.32 -1.22 1.32 -1.22 -1.32 1.22 -1.32 -1.22 -1.32z"/>
<path d="M452.3 196.3l1.22 1.32 1.22 -1.32 1.22 1.32 -1.22 1.32 1.22 1.32 -1.22 1.32 -1.22 -1.32 -1.22 1.32 -1.22 -1.32 1.22 -1.32 -1.22 -1.32z"/>
<path d="M453.2 207.5l1.22 1.32 1.22 -1.32 1.22 1.32 -1.22 1.32 1.22 1.32 -1.22 1.32 -1.22 -1.32 -1.22 1.32 -1.22 -1.32 1.22 -1.32 -1.22 -1.32z"/>
<path d="M435.7 194.8l1.22 1.32 1.22 -1.32 1.22 1.32 -1.22 1.32 1.22 1.32 -1.22 1.32 -1.22 -1.32 -1.22 1.32 -1.22 -1.32 1.22 -1.32 -1.22 -1.32z"/>
</g>
<path d="M58.2 5.3V144.55H186.4" fill="none" stroke="#262626" stroke-width="1.3" stroke-linecap="butt"/>
<path d="M58.2 152.6V291.75H186.4" fill="none" stroke="#262626" stroke-width="1.3" stroke-linecap="butt"/>
<path d="M58.2 299.8V438.75H186.4" fill="none" stroke="#262626" stroke-width="1.3" stroke-linecap="butt"/>
<path d="M205.25 5.3V144.55H333.05" fill="none" stroke="#262626" stroke-width="1.3" stroke-linecap="butt"/>
<path d="M205.25 152.6V291.75H333.05" fill="none" stroke="#262626" stroke-width="1.3" stroke-linecap="butt"/>
<path d="M205.25 299.8V438.75H333.05" fill="none" stroke="#262626" stroke-width="1.3" stroke-linecap="butt"/>
<path d="M351.6 5.3V144.55H479.8" fill="none" stroke="#262626" stroke-width="1.3" stroke-linecap="butt"/>
<path d="M351.6 152.6V291.75H479.8" fill="none" stroke="#262626" stroke-width="1.3" stroke-linecap="butt"/>
<path d="M351.6 299.8V438.75H479.8" fill="none" stroke="#262626" stroke-width="1.3" stroke-linecap="butt"/>
<text transform="translate(120 459.7) scale(1 1.05)" font-size="14.4" text-anchor="middle" fill="#262626">0.95</text>
<text transform="translate(182.3 459.7) scale(1 1.05)" font-size="14.4" text-anchor="middle" fill="#262626">1.00</text>
<text transform="translate(245.5 459.7) scale(1 1.05)" font-size="14.4" text-anchor="middle" fill="#262626">0.1</text>
<text transform="translate(291.8 459.7) scale(1 1.05)" font-size="14.4" text-anchor="middle" fill="#262626">0.2</text>
<text transform="translate(380.6 459.7) scale(1 1.05)" font-size="14.4" text-anchor="middle" fill="#262626">−0.1</text>
<text transform="translate(424.8 459.7) scale(1 1.05)" font-size="14.4" text-anchor="middle" fill="#262626">0.0</text>
<text transform="translate(466.8 459.7) scale(1 1.05)" font-size="14.4" text-anchor="middle" fill="#262626">0.1</text>
<text transform="translate(48 15.200000000000001) scale(1 1.05)" font-size="14.4" text-anchor="end" fill="#262626">1.00</text>
<text transform="translate(48 83.30000000000001) scale(1 1.05)" font-size="14.4" text-anchor="end" fill="#262626">0.95</text>
<text transform="translate(48 203.3) scale(1 1.05)" font-size="14.4" text-anchor="end" fill="#262626">0.2</text>
<text transform="translate(48 252.4) scale(1 1.05)" font-size="14.4" text-anchor="end" fill="#262626">0.1</text>
<text transform="translate(48 318.0) scale(1 1.05)" font-size="14.4" text-anchor="end" fill="#262626">0.1</text>
<text transform="translate(48 365.0) scale(1 1.05)" font-size="14.4" text-anchor="end" fill="#262626">0.0</text>
<text transform="translate(48 412.29999999999995) scale(1 1.05)" font-size="14.4" text-anchor="end" fill="#262626">−0.1</text>
<text transform="translate(121.9 478.8) scale(1 1.05)" font-size="15.6" text-anchor="middle" fill="#262626">cos</text>
<text transform="translate(268.9 478.8) scale(1 1.05)" font-size="15.6" text-anchor="middle" fill="#262626">mse</text>
<text transform="translate(415 478.8) scale(1 1.05)" font-size="15.6" text-anchor="middle" fill="#262626">orsr</text>
<text transform="translate(13.6 77.3) scale(1 1.06) rotate(-90)" font-size="15.9" text-anchor="middle" fill="#262626">cos</text>
<text transform="translate(20.4 223.6) scale(1 1.06) rotate(-90)" font-size="15.9" text-anchor="middle" fill="#262626">mse</text>
<text transform="translate(13.4 370.4) scale(1 1.06) rotate(-90)" font-size="15.9" text-anchor="middle" fill="#262626">orsr</text>
<text transform="translate(492.7 213.8) scale(1 1.0)" font-size="16.5" text-anchor="start" fill="#262626">damage</text>
<ellipse cx="506.3" cy="232.4" rx="3.4" ry="3.5" fill="#4c72b0" stroke="#fff" stroke-width="0.45"/>
<text transform="translate(534.4 236.70000000000002) scale(1 1.0)" font-size="15.2" text-anchor="start" fill="#262626">A</text>
<path d="M506.3 250.1l4.9 4.9 -4.9 4.9 -4.9 -4.9z" fill="#dd8452" stroke="#fff" stroke-width="0.45"/>
<text transform="translate(534.4 259.3) scale(1 1.0)" font-size="15.2" text-anchor="start" fill="#262626">D</text>
<path d="M504.4 273.9l1.85 1.85 1.85 -1.85 1.85 1.85 -1.85 1.85 1.85 1.85 -1.85 1.85 -1.85 -1.85 -1.85 1.85 -1.85 -1.85 1.85 -1.85 -1.85 -1.85z" fill="#55a868" stroke="#fff" stroke-width="0.45"/>
<text transform="translate(534.4 281.90000000000003) scale(1 1.0)" font-size="15.2" text-anchor="start" fill="#262626">E</text>
</svg>
</body></html>
